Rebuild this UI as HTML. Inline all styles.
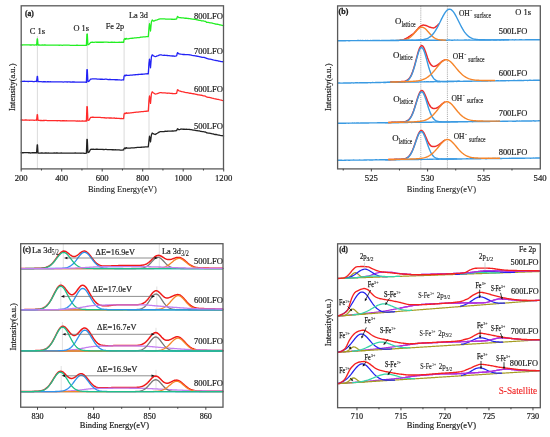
<!DOCTYPE html>
<html><head><meta charset="utf-8"><style>
html,body{margin:0;padding:0;background:#fff;}
svg{display:block;will-change:transform;}
</style></head><body>
<svg width="550" height="437" viewBox="0 0 550 437">
<rect width="550" height="437" fill="#fff"/>
<line x1="37.4" y1="36" x2="37.4" y2="168.9" stroke="#d2d2d2" stroke-width="0.8" />
<line x1="87.3" y1="33" x2="87.3" y2="168.9" stroke="#d2d2d2" stroke-width="0.8" />
<line x1="124.1" y1="31" x2="124.1" y2="168.9" stroke="#d2d2d2" stroke-width="0.8" />
<line x1="149" y1="20" x2="149" y2="168.9" stroke="#d2d2d2" stroke-width="0.8" />
<polyline points="21.2,152.84 22.2,152.53 23.2,152.74 24.2,152.68 25.2,152.69 26.2,152.72 27.2,152.6 28.2,152.73 29.2,152.69 30.2,152.99 31.2,152.78 32.2,152.75 33.2,152.76 34.2,152.74 35.2,152.72 36.2,152.77 36.6,152.83 37.2,144.88 37.5,144.97 38,152.99 38.2,153 39.2,153.11 40.2,153.05 41.2,152.98 42.2,153 43.2,153.06 44.2,153.16 45.2,153.01 46.2,153.02 47.2,153.11 48.2,152.98 49.2,153.03 50.2,153.11 51.2,153.1 52.2,153.07 53.2,153.11 54.2,152.87 55.2,153.14 56.2,153.01 57.2,152.96 58.2,153.1 59.2,153.14 60.2,153.06 61.2,153.02 62.2,153.1 63.2,153.1 64.2,153.21 65.2,153.16 66.2,153.13 67.2,153.2 68.2,153.11 69.2,153.06 70.2,153.17 71.2,153.18 72.2,153.13 73.2,153.09 74.2,153.17 75.2,152.98 76.2,153.21 77.2,153.2 78.2,153.05 79.2,153.17 80.2,153.11 81.2,153.23 82.2,153.04 83.2,153.12 84.2,153.24 85.2,153.28 86.2,153.05 86.4,153.17 86.9,139.42 87.2,139.36 87.3,139.51 87.9,152.52 88.2,152.52 89,152.13 89.2,151.94 90.2,150.04 90.5,149.47 91.2,149.27 92.2,149.36 92.5,149.25 93.2,149.27 94.2,149.32 95.2,149.29 96.2,149.25 97.2,149.26 98.2,149.29 99.2,149.47 100.2,149.3 101.2,149.38 102.2,149.43 103.2,149.49 104.2,149.54 105.2,149.44 106.2,149.43 107.2,149.58 108.2,149.69 109.2,149.68 110.2,149.67 111.2,149.66 112.2,149.73 113.2,149.72 114.2,149.82 115.2,149.73 116.2,149.82 117.2,149.83 118.2,149.9 119.2,149.9 120.2,150.09 121.2,150.04 122.2,150.07 123.2,149.85 123.6,149.98 124.1,148.46 124.2,148.47 124.8,147.84 125.2,148.38 125.6,148.67 126.2,147.61 127.1,148.13 127.2,148.14 128.2,148.13 129.2,148.1 130.2,148.12 131.2,147.9 132.2,147.89 133.2,147.78 134.2,147.82 135.2,147.68 136.2,147.65 137.2,147.41 138.2,147.4 139.2,147.29 140.2,147.38 141.2,147.25 142.2,147.11 143.2,147.03 144.2,147.02 145.2,146.87 146.2,146.78 147.2,146.81 148.2,146.88 148.3,146.68 149,140.26 149.2,138.62 149.5,136.21 150.2,140.19 150.5,141.86 151.2,136.51 151.4,135.02 152.2,133.01 153.2,133.68 153.7,133.89 154.2,134.13 155.2,134.51 156.2,133.86 157.2,133.3 158.2,132.69 159.2,132.14 160,131.76 160.2,131.66 161.2,131.62 162.2,131.62 163.2,131.55 164.2,131.57 165.2,131.24 166.2,131.39 167.2,131.23 168.2,131.22 169.2,131.21 170.2,131.16 171.2,131.1 172.2,130.98 173.2,131.02 174.2,130.83 175,130.79 175.2,130.82 176.2,130.54 176.6,130.65 177.2,129.3 177.5,128.75 178.2,129.16 179,129.77 179.2,129.73 180.2,129.37 181,128.96 181.2,129.04 182.2,129.07 183.2,129.24 184.2,129.13 185.2,129.31 186.2,129.24 187.2,129.28 188.2,129.35 189.2,129.37 190,129.51 190.2,129.61 191.2,129.71 192.2,129.91 193.2,130.14 194.2,130.21 195.2,130.37 196.2,130.5 197.2,130.57 198.2,130.9 199.2,130.89 200.2,131.23 201.2,131.34 202.2,131.59 203.2,131.67 204.2,131.78 205.2,132.03 205.5,132.01 206.2,132.53 206.5,132.75 207.2,132.87 208.2,133.06 209.2,133.21 210.2,133.44 211.2,133.5 212.2,133.83 213.2,133.95 214.2,134.3 215.2,134.5 216.2,134.47 217.2,134.81 218.2,134.98 219.2,135.1 220.2,135.41 221.2,135.53 222.2,135.63 223.2,135.92 223.5,135.99" fill="none" stroke="#222222" stroke-width="1.3" stroke-linejoin="round" stroke-linecap="round" />
<polyline points="21.2,120.01 22.2,119.93 23.2,120.07 24.2,120.09 25.2,119.97 26.2,120.02 27.2,120.07 28.2,120.05 29.2,120.23 30.2,120.13 31.2,120.06 32.2,120.09 33.2,120.15 34.2,120.33 35.2,120.17 36.2,120.2 36.6,120.24 37.2,114.6 37.5,114.76 38,120.36 38.2,120.45 39.2,120.43 40.2,120.48 41.2,120.36 42.2,120.58 43.2,120.47 44.2,120.49 45.2,120.44 46.2,120.47 47.2,120.57 48.2,120.62 49.2,120.61 50.2,120.66 51.2,120.64 52.2,120.61 53.2,120.68 54.2,120.68 55.2,120.64 56.2,120.71 57.2,120.77 58.2,120.71 59.2,120.68 60.2,120.77 61.2,120.87 62.2,120.74 63.2,120.76 64.2,120.77 65.2,120.88 66.2,120.68 67.2,120.85 68.2,120.92 69.2,120.79 70.2,120.97 71.2,120.92 72.2,120.86 73.2,120.92 74.2,120.82 75.2,120.9 76.2,121.08 77.2,120.9 78.2,121.11 79.2,120.99 80.2,121.08 81.2,121.03 82.2,120.88 83.2,121.01 84.2,121.08 85.2,121 86.2,121 86.4,121.13 86.9,106.75 87.2,106.68 87.3,106.75 87.9,120.56 88.2,120.36 89,120.17 89.2,119.86 90.2,118.02 90.5,117.42 91.2,117.3 92.2,117.24 92.5,117.26 93.2,117.25 94.2,117.31 95.2,117.29 96.2,117.39 97.2,117.38 98.2,117.43 99.2,117.41 100.2,117.44 101.2,117.56 102.2,117.56 103.2,117.61 104.2,117.77 105.2,117.76 106.2,118.02 107.2,117.93 108.2,117.86 109.2,118.01 110.2,118.02 111.2,117.99 112.2,118.16 113.2,118.08 114.2,117.96 115.2,118.28 116.2,118.22 117.2,118.42 118.2,118.31 119.2,118.32 120.2,118.56 121.2,118.42 122.2,118.55 123.2,118.68 123.6,118.61 124.1,113.99 124.2,113.86 124.8,113.06 125.2,113.24 125.6,113.64 126.2,112.74 127.1,113.36 127.2,113.17 128.2,113.02 129.2,113.03 130.2,112.85 131.2,112.79 132.2,112.68 133.2,112.65 134.2,112.42 135.2,112.35 136.2,112.08 137.2,112.09 138.2,112.16 139.2,111.9 140.2,111.79 141.2,111.65 142.2,111.67 143.2,111.54 144.2,111.34 145.2,111.37 146.2,111.24 147.2,111.17 148.2,110.97 148.3,111.12 149,100.03 149.2,98.39 149.5,95.96 150.2,101.09 150.5,103.36 151.2,95.89 151.4,93.88 152.2,91.84 153.2,92.69 153.7,93.06 154.2,93.4 155.2,94.07 156.2,93.91 157.2,93.63 158.2,93.27 159.2,92.99 160,92.67 160.2,92.69 161.2,92.71 162.2,92.93 163.2,92.9 164.2,92.92 165.2,92.92 166.2,93.06 167.2,93.23 168.2,93.22 169.2,93.2 170.2,93.41 171.2,93.47 172.2,93.5 173.2,93.55 174.2,93.63 175,93.64 175.2,93.62 176.2,93.32 176.6,93.4 177.2,90.85 177.5,89.74 178.2,90.02 179,90.85 179.2,90.93 180.2,91.14 181,91.43 181.2,91.49 182.2,91.68 183.2,91.8 184.2,92.03 185.2,92.31 186.2,92.53 187.2,92.65 188.2,92.85 189.2,93.05 190,93.27 190.2,93.16 191.2,93.34 192.2,93.63 193.2,93.74 194.2,93.97 195.2,94.2 196.2,94.42 197.2,94.51 198.2,94.83 199.2,94.84 200.2,95.2 201.2,95.24 202.2,95.45 203.2,95.78 204.2,95.9 205.2,96.06 205.5,96.14 206.2,96.72 206.5,96.9 207.2,97.05 208.2,97.34 209.2,97.44 210.2,97.67 211.2,97.89 212.2,98.22 213.2,98.43 214.2,98.67 215.2,98.79 216.2,99 217.2,99.29 218.2,99.42 219.2,99.72 220.2,99.93 221.2,100.05 222.2,100.31 223.2,100.53 223.5,100.72" fill="none" stroke="#ff2a2a" stroke-width="1.3" stroke-linejoin="round" stroke-linecap="round" />
<polyline points="21.2,81.58 22.2,81.4 23.2,81.41 24.2,81.26 25.2,81.44 26.2,81.43 27.2,81.36 28.2,81.5 29.2,81.34 30.2,81.44 31.2,81.47 32.2,81.38 33.2,81.54 34.2,81.56 35.2,81.39 36.2,81.4 36.6,81.54 37.2,76.5 37.5,76.42 38,81.58 38.2,81.59 39.2,81.6 40.2,81.69 41.2,81.67 42.2,81.78 43.2,81.76 44.2,81.72 45.2,81.76 46.2,81.79 47.2,81.76 48.2,81.64 49.2,81.8 50.2,81.76 51.2,81.88 52.2,81.78 53.2,81.83 54.2,81.82 55.2,81.93 56.2,81.84 57.2,81.82 58.2,81.87 59.2,81.83 60.2,81.89 61.2,81.89 62.2,81.92 63.2,82.05 64.2,81.9 65.2,81.94 66.2,81.94 67.2,82.01 68.2,81.89 69.2,81.94 70.2,82 71.2,82.05 72.2,82.02 73.2,82 74.2,81.99 75.2,82.1 76.2,82.17 77.2,82.11 78.2,82.11 79.2,82.14 80.2,82.06 81.2,82.11 82.2,82.13 83.2,82.18 84.2,82.17 85.2,82.1 86.2,82.28 86.4,82.32 86.9,69.68 87.2,69.73 87.3,69.72 87.9,81.65 88.2,81.39 89,81.31 89.2,80.9 90.2,79.69 90.5,79.21 91.2,79.07 92.2,78.94 92.5,78.96 93.2,78.86 94.2,78.93 95.2,78.96 96.2,78.91 97.2,79.16 98.2,79.14 99.2,79.14 100.2,79.25 101.2,79.14 102.2,79.24 103.2,79.4 104.2,79.38 105.2,79.19 106.2,79.15 107.2,79.35 108.2,79.53 109.2,79.46 110.2,79.51 111.2,79.6 112.2,79.53 113.2,79.65 114.2,79.72 115.2,79.74 116.2,79.77 117.2,79.73 118.2,79.85 119.2,79.81 120.2,79.97 121.2,80.1 122.2,79.9 123.2,79.83 123.6,79.97 124.1,76.03 124.2,75.96 124.8,75.28 125.2,75.45 125.6,75.74 126.2,74.99 127.1,75.32 127.2,75.47 128.2,75.3 129.2,75.29 130.2,75.2 131.2,75.13 132.2,75.05 133.2,74.84 134.2,74.85 135.2,74.75 136.2,74.69 137.2,74.68 138.2,74.49 139.2,74.38 140.2,74.3 141.2,74.25 142.2,74.24 143.2,74.05 144.2,74.11 145.2,73.97 146.2,73.85 147.2,73.69 148.2,73.73 148.3,73.75 149,62.88 149.2,61.48 149.5,59.12 150.2,65.11 150.5,67.73 151.2,59.47 151.4,56.99 152.2,54.84 153.2,55.63 153.7,55.99 154.2,56.22 155.2,56.53 156.2,56.38 157.2,55.91 158.2,55.59 159.2,55.19 160,54.96 160.2,54.9 161.2,54.95 162.2,55.13 163.2,55.28 164.2,55.24 165.2,55.45 166.2,55.46 167.2,55.49 168.2,55.72 169.2,55.64 170.2,55.85 171.2,55.84 172.2,55.99 173.2,55.96 174.2,56.07 175,56.27 175.2,56.18 176.2,55.98 176.6,55.87 177.2,53.8 177.5,52.6 178.2,53.18 179,53.89 179.2,53.87 180.2,54.03 181,54.19 181.2,54.21 182.2,54.28 183.2,54.49 184.2,54.52 185.2,54.61 186.2,54.6 187.2,54.65 188.2,54.66 189.2,54.81 190,54.75 190.2,54.9 191.2,55.17 192.2,55.42 193.2,55.55 194.2,55.61 195.2,55.89 196.2,55.98 197.2,56.27 198.2,56.39 199.2,56.64 200.2,56.95 201.2,57.01 202.2,57.29 203.2,57.33 204.2,57.47 205.2,57.77 205.5,57.86 206.2,58.2 206.5,58.46 207.2,58.5 208.2,58.79 209.2,59.08 210.2,59.22 211.2,59.39 212.2,59.54 213.2,59.87 214.2,60.11 215.2,60.31 216.2,60.49 217.2,60.6 218.2,61.02 219.2,61.1 220.2,61.3 221.2,61.57 222.2,61.58 223.2,61.93 223.5,61.99" fill="none" stroke="#2323f5" stroke-width="1.3" stroke-linejoin="round" stroke-linecap="round" />
<polyline points="21.2,44.93 22.2,45 23.2,44.95 24.2,44.79 25.2,44.9 26.2,44.95 27.2,44.95 28.2,44.86 29.2,44.84 30.2,45 31.2,44.99 32.2,44.97 33.2,44.86 34.2,45.11 35.2,44.79 36.2,44.97 36.6,45.15 37.2,38.99 37.5,39.02 38,44.92 38.2,45.1 39.2,44.92 40.2,45.04 41.2,45.04 42.2,44.96 43.2,45.11 44.2,44.95 45.2,45.01 46.2,45.07 47.2,45.05 48.2,45.12 49.2,45.16 50.2,45.08 51.2,45.07 52.2,45.08 53.2,45.1 54.2,45.19 55.2,45.13 56.2,45.18 57.2,45.15 58.2,45.11 59.2,45.24 60.2,45.11 61.2,45.19 62.2,45.3 63.2,45.13 64.2,45.21 65.2,45.11 66.2,45.2 67.2,45.14 68.2,45.22 69.2,45.22 70.2,45.28 71.2,45.39 72.2,45.3 73.2,45.34 74.2,45.3 75.2,45.29 76.2,45.26 77.2,45.2 78.2,45.34 79.2,45.45 80.2,45.38 81.2,45.32 82.2,45.48 83.2,45.34 84.2,45.34 85.2,45.31 86.2,45.33 86.4,45.38 86.9,34.34 87.2,34.19 87.3,34.13 87.9,44.76 88.2,44.68 89,44.28 89.2,44.16 90.2,42.93 90.5,42.52 91.2,42.44 92.2,42.15 92.5,42.08 93.2,42.29 94.2,42.28 95.2,42.1 96.2,42.23 97.2,42.22 98.2,42.26 99.2,42.24 100.2,42.19 101.2,42.24 102.2,42.24 103.2,42.23 104.2,42.11 105.2,42.03 106.2,42.19 107.2,42.13 108.2,42.27 109.2,42.3 110.2,42.28 111.2,42.23 112.2,42.27 113.2,42.35 114.2,42.22 115.2,42.34 116.2,42.33 117.2,42.3 118.2,42.38 119.2,42.24 120.2,42.36 121.2,42.23 122.2,42.24 123.2,42.22 123.6,42.33 124.1,39.43 124.2,39.38 124.8,38.52 125.2,38.97 125.6,39.33 126.2,38.32 127.1,38.92 127.2,38.83 128.2,38.83 129.2,38.58 130.2,38.35 131.2,38.46 132.2,38.24 133.2,38.07 134.2,37.98 135.2,37.81 136.2,37.8 137.2,37.63 138.2,37.7 139.2,37.53 140.2,37.26 141.2,37.16 142.2,37.12 143.2,36.92 144.2,36.94 145.2,36.83 146.2,36.67 147.2,36.58 148.2,36.55 148.3,36.6 149,27.8 149.2,26.1 149.5,23.76 150.2,28.76 150.5,31.03 151.2,23.93 151.4,22.05 152.2,19.91 153.2,20.73 153.7,21.2 154.2,21.01 155.2,20.4 156.2,20.11 157.2,19.8 158.2,19.45 159.2,19.02 160,18.81 160.2,18.79 161.2,18.94 162.2,18.91 163.2,18.81 164.2,18.79 165.2,18.98 166.2,19.09 167.2,19.05 168.2,19.14 169.2,19.07 170.2,19.04 171.2,19.23 172.2,19.21 173.2,19.29 174.2,19.18 175,19.31 175.2,19.22 176.2,19.13 176.6,18.96 177.2,17.22 177.5,16.36 178.2,17.05 179,17.6 179.2,17.57 180.2,17.65 181,17.73 181.2,17.92 182.2,17.78 183.2,17.94 184.2,18.13 185.2,18.26 186.2,18.25 187.2,18.41 188.2,18.49 189.2,18.6 190,18.6 190.2,18.75 191.2,18.83 192.2,19.1 193.2,19.1 194.2,19.42 195.2,19.45 196.2,19.61 197.2,19.93 198.2,20.02 199.2,20.29 200.2,20.36 201.2,20.73 202.2,20.8 203.2,20.9 204.2,21.17 205.2,21.4 205.5,21.34 206.2,21.93 206.5,22.25 207.2,22.31 208.2,22.45 209.2,22.62 210.2,22.91 211.2,22.97 212.2,23.06 213.2,23.44 214.2,23.61 215.2,24.02 216.2,24.11 217.2,24.24 218.2,24.43 219.2,24.75 220.2,24.87 221.2,25.09 222.2,25.33 223.2,25.55 223.5,25.61" fill="none" stroke="#22ee22" stroke-width="1.3" stroke-linejoin="round" stroke-linecap="round" />
<rect x="21.2" y="5.8" width="202.3" height="163.1" fill="none" stroke="#595959" stroke-width="1.3"/>
<line x1="21.2" y1="168.9" x2="21.2" y2="171.5" stroke="#333" stroke-width="0.9" />
<line x1="41.45" y1="168.9" x2="41.45" y2="170.5" stroke="#333" stroke-width="0.9" />
<line x1="61.7" y1="168.9" x2="61.7" y2="171.5" stroke="#333" stroke-width="0.9" />
<line x1="81.95" y1="168.9" x2="81.95" y2="170.5" stroke="#333" stroke-width="0.9" />
<line x1="102.2" y1="168.9" x2="102.2" y2="171.5" stroke="#333" stroke-width="0.9" />
<line x1="122.45" y1="168.9" x2="122.45" y2="170.5" stroke="#333" stroke-width="0.9" />
<line x1="142.7" y1="168.9" x2="142.7" y2="171.5" stroke="#333" stroke-width="0.9" />
<line x1="162.95" y1="168.9" x2="162.95" y2="170.5" stroke="#333" stroke-width="0.9" />
<line x1="183.2" y1="168.9" x2="183.2" y2="171.5" stroke="#333" stroke-width="0.9" />
<line x1="203.45" y1="168.9" x2="203.45" y2="170.5" stroke="#333" stroke-width="0.9" />
<line x1="223.7" y1="168.9" x2="223.7" y2="171.5" stroke="#333" stroke-width="0.9" />
<text x="21.2" y="181.2" font-family="Liberation Serif" font-size="8.4" font-weight="normal" fill="#1c1c1c" text-anchor="middle" textLength="13" lengthAdjust="spacingAndGlyphs" stroke="#1c1c1c" stroke-width="0.2" >200</text>
<text x="61.7" y="181.2" font-family="Liberation Serif" font-size="8.4" font-weight="normal" fill="#1c1c1c" text-anchor="middle" textLength="13" lengthAdjust="spacingAndGlyphs" stroke="#1c1c1c" stroke-width="0.2" >400</text>
<text x="102.2" y="181.2" font-family="Liberation Serif" font-size="8.4" font-weight="normal" fill="#1c1c1c" text-anchor="middle" textLength="13" lengthAdjust="spacingAndGlyphs" stroke="#1c1c1c" stroke-width="0.2" >600</text>
<text x="142.7" y="181.2" font-family="Liberation Serif" font-size="8.4" font-weight="normal" fill="#1c1c1c" text-anchor="middle" textLength="13" lengthAdjust="spacingAndGlyphs" stroke="#1c1c1c" stroke-width="0.2" >800</text>
<text x="183.2" y="181.2" font-family="Liberation Serif" font-size="8.4" font-weight="normal" fill="#1c1c1c" text-anchor="middle" textLength="17.3" lengthAdjust="spacingAndGlyphs" stroke="#1c1c1c" stroke-width="0.2" >1000</text>
<text x="223.7" y="181.2" font-family="Liberation Serif" font-size="8.4" font-weight="normal" fill="#1c1c1c" text-anchor="middle" textLength="17.3" lengthAdjust="spacingAndGlyphs" stroke="#1c1c1c" stroke-width="0.2" >1200</text>
<text x="87.9" y="192" font-family="Liberation Serif" font-size="9.2" font-weight="normal" fill="#1c1c1c" text-anchor="start" textLength="68.8" lengthAdjust="spacingAndGlyphs" stroke="#1c1c1c" stroke-width="0.1" >Binding Energy(eV)</text>
<text x="15.1" y="87.25" font-family="Liberation Serif" font-size="8.6" font-weight="normal" fill="#1c1c1c" text-anchor="middle" textLength="47.5" lengthAdjust="spacingAndGlyphs" stroke="#1c1c1c" stroke-width="0.2" transform="rotate(-90 15.1 87.25)">Intensity(a.u.)</text>
<text x="24.9" y="15.8" font-family="Liberation Serif" font-size="8.0" font-weight="bold" fill="#1c1c1c" text-anchor="start" textLength="8.9" lengthAdjust="spacingAndGlyphs" stroke="#1c1c1c" stroke-width="0.3" >(a)</text>
<text x="29.8" y="34.2" font-family="Liberation Serif" font-size="9.0" font-weight="normal" fill="#1c1c1c" text-anchor="start" textLength="15.4" lengthAdjust="spacingAndGlyphs" stroke="#1c1c1c" stroke-width="0.2" >C 1s</text>
<text x="73.5" y="31.1" font-family="Liberation Serif" font-size="9.0" font-weight="normal" fill="#1c1c1c" text-anchor="start" textLength="15.5" lengthAdjust="spacingAndGlyphs" stroke="#1c1c1c" stroke-width="0.2" >O 1s</text>
<text x="105.7" y="28.5" font-family="Liberation Serif" font-size="9.0" font-weight="normal" fill="#1c1c1c" text-anchor="start" textLength="18.5" lengthAdjust="spacingAndGlyphs" stroke="#1c1c1c" stroke-width="0.2" >Fe 2p</text>
<text x="128.9" y="17.9" font-family="Liberation Serif" font-size="9.0" font-weight="normal" fill="#1c1c1c" text-anchor="start" textLength="19.1" lengthAdjust="spacingAndGlyphs" stroke="#1c1c1c" stroke-width="0.2" >La 3d</text>
<text x="194" y="18.5" font-family="Liberation Serif" font-size="8.6" font-weight="normal" fill="#1c1c1c" text-anchor="start" textLength="29" lengthAdjust="spacingAndGlyphs" stroke="#1c1c1c" stroke-width="0.2" >800LFO</text>
<text x="194" y="53.6" font-family="Liberation Serif" font-size="8.6" font-weight="normal" fill="#1c1c1c" text-anchor="start" textLength="29" lengthAdjust="spacingAndGlyphs" stroke="#1c1c1c" stroke-width="0.2" >700LFO</text>
<text x="194" y="91.6" font-family="Liberation Serif" font-size="8.6" font-weight="normal" fill="#1c1c1c" text-anchor="start" textLength="29" lengthAdjust="spacingAndGlyphs" stroke="#1c1c1c" stroke-width="0.2" >600LFO</text>
<text x="194" y="128.9" font-family="Liberation Serif" font-size="8.6" font-weight="normal" fill="#1c1c1c" text-anchor="start" textLength="29" lengthAdjust="spacingAndGlyphs" stroke="#1c1c1c" stroke-width="0.2" >500LFO</text>
<line x1="420.8" y1="5.9" x2="420.8" y2="168.9" stroke="#8a8a8a" stroke-width="0.8" stroke-dasharray="0.9 1.0"/>
<line x1="447.4" y1="5.9" x2="447.4" y2="168.9" stroke="#8a8a8a" stroke-width="0.8" stroke-dasharray="0.9 1.0"/>
<polyline points="337.6,40.71 338.6,40.76 339.6,40.78 340.6,40.61 341.6,40.81 342.6,40.69 343.6,40.74 344.6,40.63 345.6,40.68 346.6,40.67 347.6,40.66 348.6,40.69 349.6,40.68 350.6,40.59 351.6,40.63 352.6,40.67 353.6,40.66 354.6,40.6 355.6,40.6 356.6,40.6 357.6,40.55 358.6,40.54 359.6,40.67 360.6,40.57 361.6,40.59 362.6,40.54 363.6,40.64 364.6,40.66 365.6,40.55 366.6,40.59 367.6,40.52 368.6,40.64 369.6,40.59 370.6,40.5 371.6,40.6 372.6,40.55 373.6,40.55 374.6,40.54 375.6,40.48 376.6,40.48 377.6,40.54 378.6,40.5 379.6,40.45 380.6,40.59 381.6,40.48 382.6,40.45 383.6,40.44 384.6,40.51 385.6,40.52 386.6,40.47 387.6,40.5 388.6,40.38 389.6,40.43 390.6,40.42 391.6,40.44 392.6,40.46 393.6,40.33 394.6,40.58 395.6,40.37 396.6,40.43 397.6,40.45 398.6,40.44 399.6,40.41 400.6,40.25 401.6,40.33 402.6,40.42 403.6,40.33 404.6,40.32 405.6,40.25 406.6,40.42 407.6,40.38 408.6,40.31 409.6,40.34 410.6,40.34 411.6,40.28 412.6,40.32 413.6,40.34 414.6,40.35 415.6,40.38 416.6,40.31 417.6,40.28 418.6,40.32 419.6,40.27 420.6,40.23 421.6,40.34 422.6,40.26 423.6,40.28 424.6,40.3 425.6,40.21 426.6,40.29 427.6,40.28 428.6,40.25 429.6,40.27 430.6,40.2 431.6,40.13 432.6,40.22 433.6,40.18 434.6,40.27 435.6,40.23 436.6,40.19 437.6,40.21 438.6,40.27 439.6,40.25 440.6,40.21 441.6,40.21 442.6,40.17 443.6,40.17 444.6,40.2 445.6,40.16 446.6,40.18 447.6,40.1 448.6,40.07 449.6,40.06 450.6,40.12 451.6,40.2 452.6,40.19 453.6,40.08 454.6,40.05 455.6,40.16 456.6,40.14 457.6,40.04 458.6,40.16 459.6,40.11 460.6,40.16 461.6,40.11 462.6,40.13 463.6,40.1 464.6,40.03 465.6,40.06 466.6,40.03 467.6,40.1 468.6,40 469.6,39.97 470.6,40.08 471.6,40.1 472.6,40.11 473.6,40.08 474.6,39.95 475.6,39.99 476.6,39.99 477.6,40.01 478.6,39.9 479.6,40 480.6,40.01 481.6,39.94 482.6,39.99 483.6,40.04 484.6,39.98 485.6,40.02 486.6,40.02 487.6,39.98 488.6,39.97 489.6,39.93 490.6,40.01 491.6,39.92 492.6,39.9 493.6,39.97 494.6,39.89 495.6,39.94 496.6,39.97 497.6,39.92 498.6,39.91 499.6,39.95 500.6,39.93 501.6,39.81 502.6,39.82 503.6,39.95 504.6,39.9 505.6,39.77 506.6,39.8 507.6,39.86 508.6,39.81 509.6,39.88 510.6,39.85 511.6,39.87 512.6,39.78 513.6,39.86 514.6,39.93 515.6,39.78 516.6,39.88 517.6,39.86 518.6,39.84 519.6,39.8 520.6,39.74 521.6,39.75 522.6,39.83 523.6,39.83 524.6,39.84 525.6,39.82 526.6,39.81 527.6,39.74 528.6,39.7 529.6,39.76 530.6,39.77 531.6,39.75 532.6,39.66 533.6,39.71 534.6,39.66 535.6,39.73 536.6,39.67 537.6,39.71 538.6,39.73 539.6,39.71" fill="none" stroke="#3a9ae2" stroke-width="1.4" stroke-linejoin="round" stroke-linecap="round" />
<polyline points="400,40.3 400.5,40.27 401,40.21 401.5,40.13 402,40.03 402.5,39.92 403,39.8 403.5,39.65 404,39.47 404.5,39.24 405,39 405.5,38.75 406,38.5 406.5,38.23 407,37.94 407.5,37.64 408,37.33 408.5,37 409,36.67 409.5,36.34 410,36 410.5,35.66 411,35.32 411.5,34.98 412,34.62 412.5,34.25 413,33.87 413.5,33.46 414,33.02 414.5,32.54 415,32.01 415.5,31.46 416,30.9 416.5,30.34 417,29.8 417.5,29.24 418,28.64 418.5,28.04 419,27.48 419.5,26.99 420,26.6 420.5,26.28 421,25.96 421.5,25.67 422,25.42 422.5,25.23 423,25.12 423.5,25.1 424,25.14 424.5,25.22 425,25.32 425.5,25.44 426,25.57 426.5,25.7 427,25.86 427.5,26.07 428,26.32 428.5,26.57 429,26.82 429.5,27.03 430,27.2 430.5,27.34 431,27.48 431.5,27.61 432,27.72 432.5,27.82 433,27.88 433.5,27.9 434,27.83 434.5,27.63 435,27.33 435.5,26.98 436,26.6 436.5,26.22 437,25.8 437.5,25.29 438,24.73 438.5,24.13" fill="none" stroke="#ef2a2a" stroke-width="1.5" stroke-linejoin="round" stroke-linecap="round" />
<polyline points="396.6,40.4 397.6,40.38 398.6,40.36 399.6,40.33 400.6,40.29 401.6,40.23 402.6,40.14 403.6,40.01 404.6,39.84 405.6,39.6 406.6,39.29 407.6,38.88 408.6,38.36 409.6,37.73 410.6,36.97 411.6,36.09 412.6,35.09 413.6,34 414.6,32.85 415.6,31.68 416.6,30.54 417.6,29.48 418.6,28.58 419.6,27.86 420.6,27.39 421.6,27.19 422.6,27.27 423.6,27.63 424.6,28.24 425.6,29.06 426.6,30.05 427.6,31.16 428.6,32.31 429.6,33.47 430.6,34.58 431.6,35.61 432.6,36.53 433.6,37.33 434.6,38 435.6,38.55 436.6,38.99 437.6,39.33 438.6,39.59 439.6,39.77 440.6,39.91 441.6,40 442.6,40.06 443.6,40.1 444.6,40.13 445.6,40.14" fill="none" stroke="#f5852a" stroke-width="1.4" stroke-linejoin="round" stroke-linecap="round" />
<polyline points="390.6,40.39 391.6,40.38 392.6,40.38 393.6,40.37 394.6,40.36 395.6,40.35 396.6,40.35 397.6,40.34 398.6,40.33 399.6,40.33 400.6,40.32 401.6,40.31 402.6,40.3 403.6,40.29 404.6,40.29 405.6,40.28 406.6,40.27 407.6,40.26 408.6,40.25 409.6,40.24 410.6,40.23 411.6,40.21 412.6,40.2 413.6,40.18 414.6,40.17 415.6,40.14 416.6,40.12 417.6,40.08 418.6,40.04 419.6,39.98 420.6,39.91 421.6,39.81 422.6,39.68 423.6,39.52 424.6,39.31 425.6,39.05 426.6,38.71 427.6,38.3 428.6,37.78 429.6,37.16 430.6,36.41 431.6,35.52 432.6,34.47 433.6,33.28 434.6,31.91 435.6,30.39 436.6,28.72 437.6,26.91 438.6,25 439.6,23 440.6,20.96 441.6,18.93 442.6,16.95 443.6,15.09 444.6,13.39 445.6,11.92 446.6,10.72 447.6,9.84 448.6,9.31 449.6,9.15 450.6,9.37 451.6,9.96 452.6,10.9 453.6,12.15 454.6,13.66 455.6,15.39 456.6,17.27 457.6,19.25 458.6,21.28 459.6,23.3 460.6,25.28 461.6,27.17 462.6,28.94 463.6,30.57 464.6,32.05 465.6,33.37 466.6,34.53 467.6,35.53 468.6,36.38 469.6,37.09 470.6,37.69 471.6,38.17 472.6,38.56 473.6,38.87 474.6,39.11 475.6,39.3 476.6,39.44 477.6,39.55 478.6,39.63 479.6,39.7 480.6,39.74 481.6,39.77 482.6,39.8 483.6,39.81 484.6,39.82 485.6,39.83 486.6,39.84 487.6,39.84 488.6,39.84 489.6,39.84 490.6,39.84 491.6,39.84 492.6,39.84 493.6,39.84 494.6,39.84 495.6,39.84 496.6,39.84 497.6,39.84 498.6,39.83 499.6,39.83 500.6,39.83 501.6,39.83 502.6,39.82 503.6,39.82 504.6,39.82 505.6,39.82 506.6,39.81 507.6,39.81 508.6,39.81" fill="none" stroke="#3a9ae2" stroke-width="1.4" stroke-linejoin="round" stroke-linecap="round" />
<polyline points="337.6,83.17 338.6,83.03 339.6,82.96 340.6,83.11 341.6,83.11 342.6,83.1 343.6,83.03 344.6,83.03 345.6,82.99 346.6,82.91 347.6,82.93 348.6,82.97 349.6,82.9 350.6,83.01 351.6,82.82 352.6,82.87 353.6,82.93 354.6,82.83 355.6,82.79 356.6,82.76 357.6,82.78 358.6,82.88 359.6,82.81 360.6,82.8 361.6,82.73 362.6,82.79 363.6,82.73 364.6,82.67 365.6,82.68 366.6,82.7 367.6,82.73 368.6,82.66 369.6,82.67 370.6,82.73 371.6,82.58 372.6,82.54 373.6,82.64 374.6,82.59 375.6,82.55 376.6,82.56 377.6,82.51 378.6,82.54 379.6,82.48 380.6,82.53 381.6,82.41 382.6,82.42 383.6,82.45 384.6,82.41 385.6,82.45 386.6,82.4 387.6,82.36 388.6,82.38 389.6,82.33 390.6,82.27 391.6,82.27 392.6,82.27 393.6,82.28 394.6,82.29 395.6,82.32 396.6,82.29 397.6,82.33 398.6,82.29 399.6,82.21 400.6,82.28 401.6,82.25 402.6,82.15 403.6,82.17 404.6,82.2 405.6,82.14 406.6,82.17 407.6,82.12 408.6,82.12 409.6,82.06 410.6,82.08 411.6,82.03 412.6,82.06 413.6,81.93 414.6,82.02 415.6,82.05 416.6,82 417.6,81.96 418.6,81.97 419.6,81.89 420.6,81.87 421.6,81.88 422.6,81.88 423.6,81.92 424.6,81.81 425.6,81.89 426.6,81.75 427.6,81.78 428.6,81.8 429.6,81.84 430.6,81.74 431.6,81.65 432.6,81.76 433.6,81.73 434.6,81.66 435.6,81.65 436.6,81.65 437.6,81.68 438.6,81.69 439.6,81.57 440.6,81.74 441.6,81.61 442.6,81.58 443.6,81.62 444.6,81.58 445.6,81.67 446.6,81.6 447.6,81.51 448.6,81.49 449.6,81.47 450.6,81.47 451.6,81.5 452.6,81.42 453.6,81.52 454.6,81.42 455.6,81.41 456.6,81.45 457.6,81.29 458.6,81.32 459.6,81.39 460.6,81.34 461.6,81.33 462.6,81.33 463.6,81.27 464.6,81.28 465.6,81.2 466.6,81.16 467.6,81.31 468.6,81.18 469.6,81.18 470.6,81.27 471.6,81.24 472.6,81.14 473.6,81.13 474.6,81.14 475.6,81.08 476.6,81.14 477.6,81.11 478.6,81.09 479.6,81.11 480.6,81.09 481.6,81.13 482.6,81.1 483.6,80.93 484.6,81.04 485.6,80.93 486.6,80.9 487.6,80.99 488.6,80.91 489.6,80.91 490.6,80.97 491.6,80.87 492.6,80.84 493.6,80.89 494.6,80.92 495.6,80.87 496.6,80.75 497.6,80.78 498.6,80.79 499.6,80.88 500.6,80.81 501.6,80.8 502.6,80.8 503.6,80.71 504.6,80.74 505.6,80.72 506.6,80.64 507.6,80.67 508.6,80.68 509.6,80.59 510.6,80.67 511.6,80.65 512.6,80.65 513.6,80.55 514.6,80.57 515.6,80.63 516.6,80.58 517.6,80.49 518.6,80.52 519.6,80.57 520.6,80.48 521.6,80.49 522.6,80.58 523.6,80.44 524.6,80.42 525.6,80.36 526.6,80.36 527.6,80.46 528.6,80.36 529.6,80.3 530.6,80.29 531.6,80.33 532.6,80.35 533.6,80.26 534.6,80.32 535.6,80.24 536.6,80.27 537.6,80.27 538.6,80.26 539.6,80.19" fill="none" stroke="#3a9ae2" stroke-width="1.4" stroke-linejoin="round" stroke-linecap="round" />
<polyline points="390.6,82.03 391.6,82 392.6,81.97 393.6,81.94 394.6,81.91 395.6,81.88 396.6,81.84 397.6,81.81 398.6,81.77 399.6,81.72 400.6,81.67 401.6,81.6 402.6,81.51 403.6,81.38 404.6,81.2 405.6,80.92 406.6,80.51 407.6,79.92 408.6,79.08 409.6,77.92 410.6,76.36 411.6,74.34 412.6,71.83 413.6,68.83 414.6,65.4 415.6,61.67 416.6,57.82 417.6,54.09 418.6,50.75 419.6,48.08 420.6,46.29 421.6,45.55 422.6,45.9 423.6,47.25 424.6,49.41 425.6,52.09 426.6,55.02 427.6,57.91 428.6,60.52 429.6,62.69 430.6,64.35 431.6,65.47 432.6,66.12 433.6,66.38 434.6,66.32 435.6,66.02 436.6,65.53 437.6,64.9 438.6,64.16 439.6,63.35 440.6,62.51 441.6,61.7 442.6,60.96 443.6,60.35 444.6,59.91" fill="none" stroke="#ef2a2a" stroke-width="1.5" stroke-linejoin="round" stroke-linecap="round" />
<polyline points="383.6,82.39 384.6,82.38 385.6,82.36 386.6,82.34 387.6,82.32 388.6,82.31 389.6,82.29 390.6,82.27 391.6,82.25 392.6,82.23 393.6,82.21 394.6,82.19 395.6,82.17 396.6,82.14 397.6,82.12 398.6,82.09 399.6,82.06 400.6,82.02 401.6,81.97 402.6,81.89 403.6,81.79 404.6,81.62 405.6,81.36 406.6,80.98 407.6,80.42 408.6,79.6 409.6,78.47 410.6,76.95 411.6,74.98 412.6,72.52 413.6,69.58 414.6,66.23 415.6,62.58 416.6,58.83 417.6,55.23 418.6,52.04 419.6,49.54 420.6,47.98 421.6,47.5 422.6,48.17 423.6,49.91 424.6,52.54 425.6,55.81 426.6,59.43 427.6,63.15 428.6,66.72 429.6,69.97 430.6,72.79 431.6,75.12 432.6,76.97 433.6,78.38 434.6,79.42 435.6,80.14 436.6,80.64 437.6,80.96 438.6,81.17 439.6,81.29 440.6,81.37 441.6,81.41 442.6,81.43 443.6,81.44 444.6,81.44 445.6,81.44 446.6,81.43 447.6,81.43 448.6,81.42 449.6,81.41 450.6,81.4 451.6,81.39 452.6,81.38 453.6,81.37 454.6,81.36 455.6,81.35 456.6,81.34 457.6,81.33 458.6,81.32 459.6,81.31" fill="none" stroke="#3a9ae2" stroke-width="1.4" stroke-linejoin="round" stroke-linecap="round" />
<polyline points="390.6,82.1 391.6,82.08 392.6,82.05 393.6,82.03 394.6,82 395.6,81.98 396.6,81.95 397.6,81.93 398.6,81.9 399.6,81.87 400.6,81.84 401.6,81.82 402.6,81.78 403.6,81.75 404.6,81.72 405.6,81.68 406.6,81.65 407.6,81.61 408.6,81.56 409.6,81.52 410.6,81.46 411.6,81.4 412.6,81.34 413.6,81.26 414.6,81.18 415.6,81.08 416.6,80.96 417.6,80.82 418.6,80.66 419.6,80.46 420.6,80.23 421.6,79.96 422.6,79.64 423.6,79.27 424.6,78.84 425.6,78.34 426.6,77.77 427.6,77.12 428.6,76.39 429.6,75.57 430.6,74.68 431.6,73.7 432.6,72.64 433.6,71.52 434.6,70.34 435.6,69.12 436.6,67.87 437.6,66.62 438.6,65.38 439.6,64.2 440.6,63.09 441.6,62.09 442.6,61.24 443.6,60.55 444.6,60.06 445.6,59.8 446.6,59.76 447.6,59.95 448.6,60.37 449.6,60.99 450.6,61.78 451.6,62.73 452.6,63.79 453.6,64.93 454.6,66.13 455.6,67.35 456.6,68.57 457.6,69.77 458.6,70.93 459.6,72.04 460.6,73.08 461.6,74.05 462.6,74.93 463.6,75.73 464.6,76.45 465.6,77.09 466.6,77.65 467.6,78.13 468.6,78.55 469.6,78.9 470.6,79.2 471.6,79.46 472.6,79.66 473.6,79.84 474.6,79.98 475.6,80.09 476.6,80.19 477.6,80.26 478.6,80.32 479.6,80.37 480.6,80.41 481.6,80.44 482.6,80.46 483.6,80.48 484.6,80.5 485.6,80.51 486.6,80.52 487.6,80.53 488.6,80.53 489.6,80.54 490.6,80.54 491.6,80.54 492.6,80.54 493.6,80.54 494.6,80.54" fill="none" stroke="#f5852a" stroke-width="1.4" stroke-linejoin="round" stroke-linecap="round" />
<polyline points="337.6,123.29 338.6,123.31 339.6,123.21 340.6,123.27 341.6,123.28 342.6,123.29 343.6,123.22 344.6,123.21 345.6,123.21 346.6,123.15 347.6,123.17 348.6,123.19 349.6,123.17 350.6,123.09 351.6,123.11 352.6,123.01 353.6,123.14 354.6,123.06 355.6,123.09 356.6,123.01 357.6,123.05 358.6,123.06 359.6,123.08 360.6,122.95 361.6,123.05 362.6,122.98 363.6,122.94 364.6,122.99 365.6,122.94 366.6,122.93 367.6,122.89 368.6,122.93 369.6,122.91 370.6,122.88 371.6,122.83 372.6,122.84 373.6,122.88 374.6,122.91 375.6,122.83 376.6,122.89 377.6,122.81 378.6,122.74 379.6,122.81 380.6,122.72 381.6,122.78 382.6,122.8 383.6,122.72 384.6,122.71 385.6,122.83 386.6,122.71 387.6,122.7 388.6,122.71 389.6,122.65 390.6,122.64 391.6,122.65 392.6,122.5 393.6,122.68 394.6,122.54 395.6,122.53 396.6,122.6 397.6,122.56 398.6,122.48 399.6,122.55 400.6,122.47 401.6,122.47 402.6,122.42 403.6,122.44 404.6,122.49 405.6,122.47 406.6,122.46 407.6,122.48 408.6,122.42 409.6,122.38 410.6,122.38 411.6,122.47 412.6,122.38 413.6,122.38 414.6,122.34 415.6,122.35 416.6,122.35 417.6,122.31 418.6,122.29 419.6,122.25 420.6,122.23 421.6,122.28 422.6,122.29 423.6,122.28 424.6,122.23 425.6,122.17 426.6,122.23 427.6,122.22 428.6,122.1 429.6,122.2 430.6,122.18 431.6,122.22 432.6,122.07 433.6,122.05 434.6,122.14 435.6,122 436.6,122.04 437.6,122.01 438.6,122 439.6,121.95 440.6,122.02 441.6,122.07 442.6,122.03 443.6,122.01 444.6,121.96 445.6,122.04 446.6,121.98 447.6,122 448.6,121.85 449.6,121.94 450.6,121.85 451.6,121.91 452.6,121.89 453.6,121.81 454.6,121.87 455.6,121.9 456.6,121.86 457.6,121.85 458.6,121.76 459.6,121.76 460.6,121.73 461.6,121.78 462.6,121.82 463.6,121.77 464.6,121.73 465.6,121.67 466.6,121.73 467.6,121.68 468.6,121.59 469.6,121.59 470.6,121.64 471.6,121.6 472.6,121.72 473.6,121.62 474.6,121.56 475.6,121.57 476.6,121.67 477.6,121.53 478.6,121.6 479.6,121.57 480.6,121.61 481.6,121.55 482.6,121.49 483.6,121.53 484.6,121.49 485.6,121.52 486.6,121.46 487.6,121.55 488.6,121.43 489.6,121.45 490.6,121.38 491.6,121.41 492.6,121.39 493.6,121.38 494.6,121.41 495.6,121.33 496.6,121.3 497.6,121.38 498.6,121.3 499.6,121.27 500.6,121.35 501.6,121.32 502.6,121.13 503.6,121.23 504.6,121.28 505.6,121.27 506.6,121.19 507.6,121.28 508.6,121.15 509.6,121.17 510.6,121.17 511.6,121.15 512.6,121.18 513.6,121.18 514.6,121.12 515.6,121.18 516.6,121.06 517.6,121.07 518.6,121.15 519.6,121.06 520.6,121.1 521.6,121.01 522.6,121.01 523.6,121 524.6,121 525.6,120.97 526.6,120.97 527.6,120.99 528.6,121.01 529.6,120.94 530.6,120.95 531.6,120.95 532.6,120.84 533.6,120.81 534.6,120.95 535.6,120.93 536.6,120.85 537.6,120.85 538.6,120.78 539.6,120.74" fill="none" stroke="#3a9ae2" stroke-width="1.4" stroke-linejoin="round" stroke-linecap="round" />
<polyline points="388.6,122.44 389.6,122.42 390.6,122.39 391.6,122.37 392.6,122.35 393.6,122.32 394.6,122.29 395.6,122.27 396.6,122.24 397.6,122.21 398.6,122.17 399.6,122.13 400.6,122.09 401.6,122.03 402.6,121.95 403.6,121.83 404.6,121.66 405.6,121.41 406.6,121.04 407.6,120.51 408.6,119.75 409.6,118.71 410.6,117.33 411.6,115.56 412.6,113.36 413.6,110.75 414.6,107.78 415.6,104.54 416.6,101.22 417.6,97.99 418.6,95.1 419.6,92.77 420.6,91.2 421.6,90.53 422.6,90.8 423.6,91.93 424.6,93.78 425.6,96.09 426.6,98.63 427.6,101.13 428.6,103.39 429.6,105.27 430.6,106.7 431.6,107.68 432.6,108.27 433.6,108.54 434.6,108.56 435.6,108.38 436.6,108.04 437.6,107.53 438.6,106.88 439.6,106.1 440.6,105.24 441.6,104.35 442.6,103.5 443.6,102.74 444.6,102.13" fill="none" stroke="#ef2a2a" stroke-width="1.5" stroke-linejoin="round" stroke-linecap="round" />
<polyline points="385.6,122.66 386.6,122.64 387.6,122.63 388.6,122.61 389.6,122.6 390.6,122.58 391.6,122.56 392.6,122.55 393.6,122.53 394.6,122.51 395.6,122.49 396.6,122.47 397.6,122.45 398.6,122.43 399.6,122.4 400.6,122.36 401.6,122.31 402.6,122.24 403.6,122.14 404.6,121.98 405.6,121.75 406.6,121.39 407.6,120.88 408.6,120.14 409.6,119.13 410.6,117.77 411.6,116.02 412.6,113.86 413.6,111.28 414.6,108.35 415.6,105.16 416.6,101.89 417.6,98.74 418.6,95.93 419.6,93.7 420.6,92.27 421.6,91.76 422.6,92.24 423.6,93.65 424.6,95.85 425.6,98.64 426.6,101.77 427.6,105.02 428.6,108.17 429.6,111.08 430.6,113.64 431.6,115.78 432.6,117.5 433.6,118.83 434.6,119.82 435.6,120.53 436.6,121.02 437.6,121.35 438.6,121.56 439.6,121.69 440.6,121.77 441.6,121.82 442.6,121.84 443.6,121.85 444.6,121.86 445.6,121.86 446.6,121.85 447.6,121.85 448.6,121.84 449.6,121.84 450.6,121.83 451.6,121.82 452.6,121.82 453.6,121.81 454.6,121.8 455.6,121.79 456.6,121.78 457.6,121.77" fill="none" stroke="#3a9ae2" stroke-width="1.4" stroke-linejoin="round" stroke-linecap="round" />
<polyline points="388.6,122.5 389.6,122.48 390.6,122.46 391.6,122.44 392.6,122.42 393.6,122.4 394.6,122.38 395.6,122.36 396.6,122.34 397.6,122.32 398.6,122.3 399.6,122.27 400.6,122.25 401.6,122.23 402.6,122.2 403.6,122.18 404.6,122.15 405.6,122.12 406.6,122.09 407.6,122.06 408.6,122.03 409.6,122 410.6,121.96 411.6,121.92 412.6,121.88 413.6,121.83 414.6,121.78 415.6,121.72 416.6,121.65 417.6,121.57 418.6,121.47 419.6,121.36 420.6,121.22 421.6,121.05 422.6,120.85 423.6,120.61 424.6,120.32 425.6,119.98 426.6,119.57 427.6,119.09 428.6,118.54 429.6,117.9 430.6,117.17 431.6,116.34 432.6,115.43 433.6,114.42 434.6,113.34 435.6,112.18 436.6,110.96 437.6,109.71 438.6,108.43 439.6,107.18 440.6,105.96 441.6,104.83 442.6,103.81 443.6,102.96 444.6,102.29 445.6,101.85 446.6,101.66 447.6,101.73 448.6,102.04 449.6,102.6 450.6,103.36 451.6,104.29 452.6,105.35 453.6,106.52 454.6,107.74 455.6,108.98 456.6,110.22 457.6,111.43 458.6,112.59 459.6,113.68 460.6,114.7 461.6,115.62 462.6,116.46 463.6,117.2 464.6,117.85 465.6,118.42 466.6,118.9 467.6,119.31 468.6,119.65 469.6,119.94 470.6,120.17 471.6,120.36 472.6,120.52 473.6,120.64 474.6,120.74 475.6,120.82 476.6,120.88 477.6,120.93 478.6,120.97 479.6,121 480.6,121.03 481.6,121.05 482.6,121.06 483.6,121.08 484.6,121.09 485.6,121.09 486.6,121.1 487.6,121.1 488.6,121.11 489.6,121.11 490.6,121.11 491.6,121.11 492.6,121.11 493.6,121.11 494.6,121.11 495.6,121.11 496.6,121.1 497.6,121.1 498.6,121.1 499.6,121.09" fill="none" stroke="#f5852a" stroke-width="1.4" stroke-linejoin="round" stroke-linecap="round" />
<polyline points="337.6,160.32 338.6,160.22 339.6,160.32 340.6,160.23 341.6,160.27 342.6,160.34 343.6,160.33 344.6,160.21 345.6,160.26 346.6,160.15 347.6,160.16 348.6,160.2 349.6,160.23 350.6,160.13 351.6,160.17 352.6,160.14 353.6,160.06 354.6,160.1 355.6,160.17 356.6,160.08 357.6,160.1 358.6,160.1 359.6,160.02 360.6,160.1 361.6,160.1 362.6,160.1 363.6,160.07 364.6,159.97 365.6,159.95 366.6,159.93 367.6,159.92 368.6,159.91 369.6,159.99 370.6,160 371.6,159.88 372.6,159.94 373.6,159.83 374.6,159.86 375.6,159.82 376.6,159.78 377.6,159.85 378.6,159.84 379.6,159.8 380.6,159.79 381.6,159.75 382.6,159.78 383.6,159.75 384.6,159.78 385.6,159.7 386.6,159.76 387.6,159.76 388.6,159.78 389.6,159.76 390.6,159.71 391.6,159.65 392.6,159.59 393.6,159.66 394.6,159.72 395.6,159.73 396.6,159.5 397.6,159.58 398.6,159.59 399.6,159.54 400.6,159.59 401.6,159.58 402.6,159.54 403.6,159.55 404.6,159.46 405.6,159.48 406.6,159.47 407.6,159.55 408.6,159.41 409.6,159.47 410.6,159.51 411.6,159.46 412.6,159.49 413.6,159.41 414.6,159.45 415.6,159.46 416.6,159.52 417.6,159.43 418.6,159.45 419.6,159.37 420.6,159.36 421.6,159.43 422.6,159.37 423.6,159.4 424.6,159.35 425.6,159.41 426.6,159.41 427.6,159.24 428.6,159.36 429.6,159.28 430.6,159.27 431.6,159.23 432.6,159.26 433.6,159.16 434.6,159.16 435.6,159.15 436.6,159.19 437.6,159.21 438.6,159.19 439.6,159.16 440.6,159.1 441.6,159.03 442.6,159.13 443.6,159.11 444.6,159.11 445.6,159.15 446.6,159.06 447.6,159.04 448.6,158.93 449.6,159.06 450.6,159.02 451.6,158.97 452.6,159.02 453.6,158.93 454.6,158.95 455.6,159.06 456.6,158.99 457.6,158.99 458.6,158.97 459.6,158.95 460.6,158.92 461.6,159.01 462.6,158.88 463.6,158.91 464.6,158.85 465.6,158.83 466.6,158.72 467.6,158.73 468.6,158.89 469.6,158.88 470.6,158.77 471.6,158.78 472.6,158.8 473.6,158.71 474.6,158.83 475.6,158.68 476.6,158.69 477.6,158.57 478.6,158.78 479.6,158.69 480.6,158.76 481.6,158.62 482.6,158.67 483.6,158.65 484.6,158.64 485.6,158.73 486.6,158.72 487.6,158.67 488.6,158.57 489.6,158.62 490.6,158.63 491.6,158.58 492.6,158.57 493.6,158.55 494.6,158.47 495.6,158.52 496.6,158.58 497.6,158.44 498.6,158.48 499.6,158.5 500.6,158.38 501.6,158.43 502.6,158.34 503.6,158.39 504.6,158.34 505.6,158.35 506.6,158.36 507.6,158.36 508.6,158.35 509.6,158.23 510.6,158.42 511.6,158.31 512.6,158.26 513.6,158.27 514.6,158.31 515.6,158.23 516.6,158.25 517.6,158.23 518.6,158.27 519.6,158.2 520.6,158.25 521.6,158.23 522.6,158.19 523.6,158.25 524.6,158.18 525.6,158.11 526.6,158.17 527.6,158.15 528.6,158.13 529.6,158.13 530.6,158.23 531.6,158.11 532.6,158.11 533.6,158.06 534.6,158.13 535.6,158.05 536.6,158 537.6,157.97 538.6,158.05 539.6,158.05" fill="none" stroke="#3a9ae2" stroke-width="1.4" stroke-linejoin="round" stroke-linecap="round" />
<polyline points="388.6,159.5 389.6,159.48 390.6,159.46 391.6,159.44 392.6,159.41 393.6,159.39 394.6,159.37 395.6,159.34 396.6,159.31 397.6,159.28 398.6,159.25 399.6,159.21 400.6,159.16 401.6,159.09 402.6,159 403.6,158.86 404.6,158.67 405.6,158.38 406.6,157.96 407.6,157.37 408.6,156.55 409.6,155.44 410.6,154.01 411.6,152.21 412.6,150.04 413.6,147.51 414.6,144.72 415.6,141.76 416.6,138.79 417.6,136.01 418.6,133.63 419.6,131.83 420.6,130.76 421.6,130.52 422.6,131.11 423.6,132.42 424.6,134.3 425.6,136.52 426.6,138.85 427.6,141.07 428.6,143.01 429.6,144.54 430.6,145.62 431.6,146.27 432.6,146.57 433.6,146.61 434.6,146.48 435.6,146.22 436.6,145.87 437.6,145.41 438.6,144.85 439.6,144.18 440.6,143.4 441.6,142.57 442.6,141.72 443.6,140.93 444.6,140.25" fill="none" stroke="#ef2a2a" stroke-width="1.5" stroke-linejoin="round" stroke-linecap="round" />
<polyline points="385.6,159.71 386.6,159.69 387.6,159.68 388.6,159.66 389.6,159.65 390.6,159.64 391.6,159.62 392.6,159.6 393.6,159.59 394.6,159.57 395.6,159.55 396.6,159.53 397.6,159.51 398.6,159.49 399.6,159.45 400.6,159.41 401.6,159.36 402.6,159.28 403.6,159.15 404.6,158.97 405.6,158.7 406.6,158.29 407.6,157.72 408.6,156.91 409.6,155.83 410.6,154.42 411.6,152.64 412.6,150.49 413.6,148 414.6,145.24 415.6,142.32 416.6,139.41 417.6,136.69 418.6,134.38 419.6,132.67 420.6,131.72 421.6,131.62 422.6,132.38 423.6,133.93 424.6,136.11 425.6,138.74 426.6,141.61 427.6,144.52 428.6,147.3 429.6,149.83 430.6,152.03 431.6,153.85 432.6,155.31 433.6,156.44 434.6,157.27 435.6,157.87 436.6,158.28 437.6,158.55 438.6,158.73 439.6,158.84 440.6,158.9 441.6,158.94 442.6,158.96 443.6,158.97 444.6,158.97 445.6,158.97 446.6,158.97 447.6,158.97 448.6,158.96 449.6,158.96 450.6,158.95 451.6,158.94 452.6,158.93 453.6,158.93 454.6,158.92 455.6,158.91 456.6,158.9" fill="none" stroke="#3a9ae2" stroke-width="1.4" stroke-linejoin="round" stroke-linecap="round" />
<polyline points="388.6,159.56 389.6,159.54 390.6,159.52 391.6,159.5 392.6,159.49 393.6,159.47 394.6,159.45 395.6,159.43 396.6,159.41 397.6,159.39 398.6,159.37 399.6,159.35 400.6,159.33 401.6,159.31 402.6,159.28 403.6,159.26 404.6,159.24 405.6,159.21 406.6,159.18 407.6,159.16 408.6,159.13 409.6,159.1 410.6,159.06 411.6,159.03 412.6,158.99 413.6,158.95 414.6,158.9 415.6,158.85 416.6,158.79 417.6,158.71 418.6,158.63 419.6,158.53 420.6,158.41 421.6,158.27 422.6,158.1 423.6,157.89 424.6,157.64 425.6,157.34 426.6,156.99 427.6,156.57 428.6,156.08 429.6,155.51 430.6,154.86 431.6,154.12 432.6,153.29 433.6,152.37 434.6,151.37 435.6,150.29 436.6,149.15 437.6,147.95 438.6,146.73 439.6,145.51 440.6,144.31 441.6,143.16 442.6,142.11 443.6,141.19 444.6,140.43 445.6,139.87 446.6,139.54 447.6,139.46 448.6,139.62 449.6,140.02 450.6,140.64 451.6,141.44 452.6,142.4 453.6,143.47 454.6,144.62 455.6,145.81 456.6,147.01 457.6,148.2 458.6,149.36 459.6,150.45 460.6,151.48 461.6,152.42 462.6,153.28 463.6,154.06 464.6,154.74 465.6,155.33 466.6,155.85 467.6,156.28 468.6,156.65 469.6,156.96 470.6,157.22 471.6,157.43 472.6,157.6 473.6,157.73 474.6,157.84 475.6,157.93 476.6,158 477.6,158.06 478.6,158.1 479.6,158.14 480.6,158.17 481.6,158.19 482.6,158.21 483.6,158.22 484.6,158.23 485.6,158.24 486.6,158.25 487.6,158.26 488.6,158.26 489.6,158.26 490.6,158.27 491.6,158.27 492.6,158.27 493.6,158.27 494.6,158.27 495.6,158.26 496.6,158.26 497.6,158.26 498.6,158.26 499.6,158.25" fill="none" stroke="#f5852a" stroke-width="1.4" stroke-linejoin="round" stroke-linecap="round" />
<rect x="337.6" y="5.9" width="202.7" height="163" fill="none" stroke="#595959" stroke-width="1.3"/>
<line x1="343.23" y1="168.9" x2="343.23" y2="170.5" stroke="#333" stroke-width="0.9" />
<line x1="371.35" y1="168.9" x2="371.35" y2="171.5" stroke="#333" stroke-width="0.9" />
<line x1="399.48" y1="168.9" x2="399.48" y2="170.5" stroke="#333" stroke-width="0.9" />
<line x1="427.6" y1="168.9" x2="427.6" y2="171.5" stroke="#333" stroke-width="0.9" />
<line x1="455.73" y1="168.9" x2="455.73" y2="170.5" stroke="#333" stroke-width="0.9" />
<line x1="483.85" y1="168.9" x2="483.85" y2="171.5" stroke="#333" stroke-width="0.9" />
<line x1="511.98" y1="168.9" x2="511.98" y2="170.5" stroke="#333" stroke-width="0.9" />
<text x="371.35" y="181.2" font-family="Liberation Serif" font-size="8.4" font-weight="normal" fill="#1c1c1c" text-anchor="middle" textLength="13" lengthAdjust="spacingAndGlyphs" stroke="#1c1c1c" stroke-width="0.2" >525</text>
<text x="427.6" y="181.2" font-family="Liberation Serif" font-size="8.4" font-weight="normal" fill="#1c1c1c" text-anchor="middle" textLength="13" lengthAdjust="spacingAndGlyphs" stroke="#1c1c1c" stroke-width="0.2" >530</text>
<text x="483.85" y="181.2" font-family="Liberation Serif" font-size="8.4" font-weight="normal" fill="#1c1c1c" text-anchor="middle" textLength="13" lengthAdjust="spacingAndGlyphs" stroke="#1c1c1c" stroke-width="0.2" >535</text>
<text x="540.1" y="181.2" font-family="Liberation Serif" font-size="8.4" font-weight="normal" fill="#1c1c1c" text-anchor="middle" textLength="13" lengthAdjust="spacingAndGlyphs" stroke="#1c1c1c" stroke-width="0.2" >540</text>
<text x="406.8" y="192" font-family="Liberation Serif" font-size="9.2" font-weight="normal" fill="#1c1c1c" text-anchor="start" textLength="69.2" lengthAdjust="spacingAndGlyphs" stroke="#1c1c1c" stroke-width="0.1" >Binding Energy(eV)</text>
<text x="331" y="87.25" font-family="Liberation Serif" font-size="8.6" font-weight="normal" fill="#1c1c1c" text-anchor="middle" textLength="47.5" lengthAdjust="spacingAndGlyphs" stroke="#1c1c1c" stroke-width="0.2" transform="rotate(-90 331 87.25)">Intensity(a.u.)</text>
<text x="338.6" y="13.6" font-family="Liberation Serif" font-size="8.0" font-weight="bold" fill="#1c1c1c" text-anchor="start" textLength="9.7" lengthAdjust="spacingAndGlyphs" stroke="#1c1c1c" stroke-width="0.3" >(b)</text>
<text x="515.3" y="15.4" font-family="Liberation Serif" font-size="9.0" font-weight="normal" fill="#1c1c1c" text-anchor="start" textLength="15.7" lengthAdjust="spacingAndGlyphs" stroke="#1c1c1c" stroke-width="0.2" >O 1s</text>
<text x="395" y="24.4" font-family="Liberation Serif" font-size="8.4" font-weight="normal" fill="#1c1c1c" text-anchor="start" textLength="6.4" lengthAdjust="spacingAndGlyphs" stroke="#1c1c1c" stroke-width="0.2" >O</text>
<text x="401.4" y="26.7" font-family="Liberation Serif" font-size="7.6" font-weight="normal" fill="#1c1c1c" text-anchor="start" textLength="14.3" lengthAdjust="spacingAndGlyphs" stroke="#1c1c1c" stroke-width="0.14" >lattice</text>
<text x="458.9" y="15.7" font-family="Liberation Serif" font-size="8.8" font-weight="normal" fill="#1c1c1c" text-anchor="start" textLength="10.8" lengthAdjust="spacingAndGlyphs" stroke="#1c1c1c" stroke-width="0.2" >OH</text>
<text x="470.3" y="12.3" font-family="Liberation Serif" font-size="6" font-weight="normal" fill="#1c1c1c" text-anchor="start" textLength="2" lengthAdjust="spacingAndGlyphs" stroke="#1c1c1c" stroke-width="0.2" >-</text>
<text x="474.3" y="18" font-family="Liberation Serif" font-size="7.6" font-weight="normal" fill="#1c1c1c" text-anchor="start" textLength="16.7" lengthAdjust="spacingAndGlyphs" stroke="#1c1c1c" stroke-width="0.14" >surface</text>
<text x="393" y="58" font-family="Liberation Serif" font-size="8.4" font-weight="normal" fill="#1c1c1c" text-anchor="start" textLength="6.4" lengthAdjust="spacingAndGlyphs" stroke="#1c1c1c" stroke-width="0.2" >O</text>
<text x="399.4" y="60.3" font-family="Liberation Serif" font-size="7.6" font-weight="normal" fill="#1c1c1c" text-anchor="start" textLength="13.3" lengthAdjust="spacingAndGlyphs" stroke="#1c1c1c" stroke-width="0.14" >lattice</text>
<text x="452.8" y="59.4" font-family="Liberation Serif" font-size="8.8" font-weight="normal" fill="#1c1c1c" text-anchor="start" textLength="10.8" lengthAdjust="spacingAndGlyphs" stroke="#1c1c1c" stroke-width="0.2" >OH</text>
<text x="464.2" y="56" font-family="Liberation Serif" font-size="6" font-weight="normal" fill="#1c1c1c" text-anchor="start" textLength="2" lengthAdjust="spacingAndGlyphs" stroke="#1c1c1c" stroke-width="0.2" >-</text>
<text x="468.2" y="61.7" font-family="Liberation Serif" font-size="7.6" font-weight="normal" fill="#1c1c1c" text-anchor="start" textLength="16.4" lengthAdjust="spacingAndGlyphs" stroke="#1c1c1c" stroke-width="0.14" >surface</text>
<text x="393.2" y="101.7" font-family="Liberation Serif" font-size="8.4" font-weight="normal" fill="#1c1c1c" text-anchor="start" textLength="6.4" lengthAdjust="spacingAndGlyphs" stroke="#1c1c1c" stroke-width="0.2" >O</text>
<text x="399.6" y="104" font-family="Liberation Serif" font-size="7.6" font-weight="normal" fill="#1c1c1c" text-anchor="start" textLength="13.6" lengthAdjust="spacingAndGlyphs" stroke="#1c1c1c" stroke-width="0.14" >lattice</text>
<text x="451.4" y="100.8" font-family="Liberation Serif" font-size="8.8" font-weight="normal" fill="#1c1c1c" text-anchor="start" textLength="10.8" lengthAdjust="spacingAndGlyphs" stroke="#1c1c1c" stroke-width="0.2" >OH</text>
<text x="462.8" y="97.4" font-family="Liberation Serif" font-size="6" font-weight="normal" fill="#1c1c1c" text-anchor="start" textLength="2" lengthAdjust="spacingAndGlyphs" stroke="#1c1c1c" stroke-width="0.2" >-</text>
<text x="466.8" y="103.1" font-family="Liberation Serif" font-size="7.6" font-weight="normal" fill="#1c1c1c" text-anchor="start" textLength="16.4" lengthAdjust="spacingAndGlyphs" stroke="#1c1c1c" stroke-width="0.14" >surface</text>
<text x="392.3" y="141.4" font-family="Liberation Serif" font-size="8.4" font-weight="normal" fill="#1c1c1c" text-anchor="start" textLength="6.4" lengthAdjust="spacingAndGlyphs" stroke="#1c1c1c" stroke-width="0.2" >O</text>
<text x="398.7" y="143.7" font-family="Liberation Serif" font-size="7.6" font-weight="normal" fill="#1c1c1c" text-anchor="start" textLength="13.6" lengthAdjust="spacingAndGlyphs" stroke="#1c1c1c" stroke-width="0.14" >lattice</text>
<text x="453.7" y="139.2" font-family="Liberation Serif" font-size="8.8" font-weight="normal" fill="#1c1c1c" text-anchor="start" textLength="10.8" lengthAdjust="spacingAndGlyphs" stroke="#1c1c1c" stroke-width="0.2" >OH</text>
<text x="465.1" y="135.8" font-family="Liberation Serif" font-size="6" font-weight="normal" fill="#1c1c1c" text-anchor="start" textLength="2" lengthAdjust="spacingAndGlyphs" stroke="#1c1c1c" stroke-width="0.2" >-</text>
<text x="469.1" y="141.5" font-family="Liberation Serif" font-size="7.6" font-weight="normal" fill="#1c1c1c" text-anchor="start" textLength="16.4" lengthAdjust="spacingAndGlyphs" stroke="#1c1c1c" stroke-width="0.14" >surface</text>
<text x="498.7" y="33.9" font-family="Liberation Serif" font-size="8.8" font-weight="normal" fill="#1c1c1c" text-anchor="start" textLength="28.6" lengthAdjust="spacingAndGlyphs" stroke="#1c1c1c" stroke-width="0.2" >500LFO</text>
<text x="498.7" y="76.3" font-family="Liberation Serif" font-size="8.8" font-weight="normal" fill="#1c1c1c" text-anchor="start" textLength="28.6" lengthAdjust="spacingAndGlyphs" stroke="#1c1c1c" stroke-width="0.2" >600LFO</text>
<text x="498.7" y="115.8" font-family="Liberation Serif" font-size="8.8" font-weight="normal" fill="#1c1c1c" text-anchor="start" textLength="28.6" lengthAdjust="spacingAndGlyphs" stroke="#1c1c1c" stroke-width="0.2" >700LFO</text>
<text x="498.7" y="154.5" font-family="Liberation Serif" font-size="8.8" font-weight="normal" fill="#1c1c1c" text-anchor="start" textLength="28.6" lengthAdjust="spacingAndGlyphs" stroke="#1c1c1c" stroke-width="0.2" >800LFO</text>
<line x1="63.3" y1="243.7" x2="63.3" y2="268.6" stroke="#d4d4d4" stroke-width="0.7" />
<line x1="159.3" y1="243.7" x2="159.3" y2="268.6" stroke="#d4d4d4" stroke-width="0.7" />
<polyline points="20.7,268.5 21.7,268.5 22.7,268.5 23.7,268.49 24.7,268.48 25.7,268.48 26.7,268.47 27.7,268.46 28.7,268.45 29.7,268.44 30.7,268.43 31.7,268.41 32.7,268.4 33.7,268.38 34.7,268.37 35.7,268.34 36.7,268.32 37.7,268.29 38.7,268.25 39.7,268.21 40.7,268.15 41.7,268.07 42.7,267.96 43.7,267.82 44.7,267.64 45.7,267.4 46.7,267.09 47.7,266.69 48.7,266.19 49.7,265.58 50.7,264.84 51.7,263.95 52.7,262.91 53.7,261.75 54.7,260.47 55.7,259.1 56.7,257.69 57.7,256.28 58.7,254.94 59.7,253.71 60.7,252.66 61.7,251.84 62.7,251.31 63.7,251.08 64.7,251.15 65.7,251.5 66.7,252.08 67.7,252.81 68.7,253.64 69.7,254.47 70.7,255.24 71.7,255.86 72.7,256.3 73.7,256.51 74.7,256.48 75.7,256.2 76.7,255.7 77.7,255.03 78.7,254.25 79.7,253.41 80.7,252.61 81.7,251.91 82.7,251.38 83.7,251.1 84.7,251.09 85.7,251.38 86.7,251.96 87.7,252.79 88.7,253.84 89.7,255.03 90.7,256.33 91.7,257.66 92.7,258.97 93.7,260.23 94.7,261.4 95.7,262.44 96.7,263.33 97.7,264.08 98.7,264.68 99.7,265.15 100.7,265.5 101.7,265.74 102.7,265.9 103.7,266 104.7,266.04 105.7,266.05 106.7,266.03 107.7,266 108.7,265.96 109.7,265.92 110.7,265.89 111.7,265.86 112.7,265.82 113.7,265.77 114.7,265.73 115.7,265.69 116.7,265.66 117.7,265.64 118.7,265.62 119.7,265.61 120.7,265.62 121.7,265.62 122.7,265.62 123.7,265.62 124.7,265.62 125.7,265.62 126.7,265.62 127.7,265.62 128.7,265.62 129.7,265.62 130.7,265.62 131.7,265.61 132.7,265.61 133.7,265.6 134.7,265.59 135.7,265.57 136.7,265.55 137.7,265.52 138.7,265.48 139.7,265.42 140.7,265.34 141.7,265.23 142.7,265.09 143.7,264.9 144.7,264.64 145.7,264.28 146.7,263.81 147.7,263.22 148.7,262.51 149.7,261.67 150.7,260.73 151.7,259.74 152.7,258.75 153.7,257.8 154.7,256.94 155.7,256.22 156.7,255.71 157.7,255.42 158.7,255.37 159.7,255.55 160.7,255.93 161.7,256.47 162.7,257.09 163.7,257.73 164.7,258.33 165.7,258.84 166.7,259.23 167.7,259.46 168.7,259.56 169.7,259.53 170.7,259.39 171.7,259.15 172.7,258.84 173.7,258.49 174.7,258.14 175.7,257.83 176.7,257.59 177.7,257.44 178.7,257.41 179.7,257.52 180.7,257.81 181.7,258.28 182.7,258.89 183.7,259.62 184.7,260.43 185.7,261.29 186.7,262.15 187.7,262.99 188.7,263.78 189.7,264.51 190.7,265.16 191.7,265.73 192.7,266.21 193.7,266.61 194.7,266.94 195.7,267.21 196.7,267.42 197.7,267.58 198.7,267.71 199.7,267.8 200.7,267.88 201.7,267.93 202.7,267.98 203.7,268.01 204.7,268.04 205.7,268.07 206.7,268.09 207.7,268.1 208.7,268.12 209.7,268.13 210.7,268.15 211.7,268.16 212.7,268.17 213.7,268.18 214.7,268.19 215.7,268.2 216.7,268.21 217.7,268.22 218.7,268.22 219.7,268.23 220.7,268.23 221.7,268.24 222.7,268.24" fill="none" stroke="#f01818" stroke-width="1.5" stroke-linejoin="round" stroke-linecap="round" />
<polyline points="20.7,268.6 21.7,268.6 22.7,268.6 23.7,268.6 24.7,268.6 25.7,268.6 26.7,268.6 27.7,268.6 28.7,268.6 29.7,268.6 30.7,268.6 31.7,268.6 32.7,268.6 33.7,268.6 34.7,268.6 35.7,268.6 36.7,268.6 37.7,268.6 38.7,268.6 39.7,268.6 40.7,268.6 41.7,268.6 42.7,268.6 43.7,268.6 44.7,268.6 45.7,268.6 46.7,268.6 47.7,268.6 48.7,268.6 49.7,268.59 50.7,268.59 51.7,268.59 52.7,268.59 53.7,268.59 54.7,268.59 55.7,268.59 56.7,268.59 57.7,268.59 58.7,268.59 59.7,268.59 60.7,268.59 61.7,268.59 62.7,268.59 63.7,268.59 64.7,268.59 65.7,268.59 66.7,268.59 67.7,268.59 68.7,268.59 69.7,268.59 70.7,268.59 71.7,268.59 72.7,268.59 73.7,268.59 74.7,268.59 75.7,268.59 76.7,268.59 77.7,268.59 78.7,268.59 79.7,268.59 80.7,268.59 81.7,268.59 82.7,268.59 83.7,268.59 84.7,268.59 85.7,268.59 86.7,268.59 87.7,268.59 88.7,268.59 89.7,268.59 90.7,268.59 91.7,268.59 92.7,268.59 93.7,268.59 94.7,268.59 95.7,268.58 96.7,268.58 97.7,268.58 98.7,268.58 99.7,268.58 100.7,268.58 101.7,268.58 102.7,268.58 103.7,268.58 104.7,268.58 105.7,268.58 106.7,268.58 107.7,268.58 108.7,268.58 109.7,268.58 110.7,268.57 111.7,268.57 112.7,268.57 113.7,268.57 114.7,268.57 115.7,268.57 116.7,268.57 117.7,268.56 118.7,268.56 119.7,268.56 120.7,268.56 121.7,268.56 122.7,268.55 123.7,268.55 124.7,268.55 125.7,268.55 126.7,268.54 127.7,268.54 128.7,268.53 129.7,268.53 130.7,268.53 131.7,268.52 132.7,268.51 133.7,268.5 134.7,268.49 135.7,268.48 136.7,268.46 137.7,268.43 138.7,268.39 139.7,268.32 140.7,268.23 141.7,268.11 142.7,267.93 143.7,267.68 144.7,267.35 145.7,266.93 146.7,266.38 147.7,265.72 148.7,264.92 149.7,264.01 150.7,263 151.7,261.93 152.7,260.84 153.7,259.79 154.7,258.85 155.7,258.09 156.7,257.56 157.7,257.31 158.7,257.38 159.7,257.74 160.7,258.37 161.7,259.21 162.7,260.2 163.7,261.28 164.7,262.36 165.7,263.42 166.7,264.39 167.7,265.25 168.7,266 169.7,266.61 170.7,267.11 171.7,267.5 172.7,267.79 173.7,268.01 174.7,268.16 175.7,268.27 176.7,268.35 177.7,268.4 178.7,268.44 179.7,268.47 180.7,268.48 181.7,268.5 182.7,268.51 183.7,268.52 184.7,268.52 185.7,268.53 186.7,268.53 187.7,268.54 188.7,268.54 189.7,268.54 190.7,268.55 191.7,268.55 192.7,268.55 193.7,268.56 194.7,268.56 195.7,268.56 196.7,268.56 197.7,268.56 198.7,268.57 199.7,268.57 200.7,268.57 201.7,268.57 202.7,268.57 203.7,268.57 204.7,268.57 205.7,268.57 206.7,268.58 207.7,268.58 208.7,268.58 209.7,268.58 210.7,268.58 211.7,268.58 212.7,268.58 213.7,268.58 214.7,268.58 215.7,268.58 216.7,268.58 217.7,268.58 218.7,268.58 219.7,268.58 220.7,268.59 221.7,268.59 222.7,268.59" fill="none" stroke="#777777" stroke-width="1.3" stroke-linejoin="round" stroke-linecap="round" />
<polyline points="20.7,268.6 21.7,268.6 22.7,268.6 23.7,268.6 24.7,268.6 25.7,268.6 26.7,268.6 27.7,268.6 28.7,268.6 29.7,268.6 30.7,268.6 31.7,268.6 32.7,268.6 33.7,268.6 34.7,268.6 35.7,268.6 36.7,268.6 37.7,268.6 38.7,268.6 39.7,268.6 40.7,268.6 41.7,268.6 42.7,268.6 43.7,268.6 44.7,268.6 45.7,268.6 46.7,268.6 47.7,268.6 48.7,268.6 49.7,268.6 50.7,268.6 51.7,268.6 52.7,268.6 53.7,268.6 54.7,268.6 55.7,268.6 56.7,268.6 57.7,268.6 58.7,268.59 59.7,268.59 60.7,268.59 61.7,268.59 62.7,268.59 63.7,268.59 64.7,268.59 65.7,268.59 66.7,268.59 67.7,268.59 68.7,268.59 69.7,268.59 70.7,268.59 71.7,268.59 72.7,268.59 73.7,268.59 74.7,268.59 75.7,268.59 76.7,268.59 77.7,268.59 78.7,268.59 79.7,268.59 80.7,268.59 81.7,268.59 82.7,268.59 83.7,268.59 84.7,268.59 85.7,268.59 86.7,268.59 87.7,268.59 88.7,268.59 89.7,268.59 90.7,268.59 91.7,268.59 92.7,268.59 93.7,268.59 94.7,268.59 95.7,268.59 96.7,268.59 97.7,268.59 98.7,268.59 99.7,268.59 100.7,268.59 101.7,268.59 102.7,268.59 103.7,268.59 104.7,268.59 105.7,268.59 106.7,268.59 107.7,268.59 108.7,268.59 109.7,268.58 110.7,268.58 111.7,268.58 112.7,268.58 113.7,268.58 114.7,268.58 115.7,268.58 116.7,268.58 117.7,268.58 118.7,268.58 119.7,268.58 120.7,268.58 121.7,268.58 122.7,268.58 123.7,268.58 124.7,268.58 125.7,268.57 126.7,268.57 127.7,268.57 128.7,268.57 129.7,268.57 130.7,268.57 131.7,268.57 132.7,268.57 133.7,268.57 134.7,268.56 135.7,268.56 136.7,268.56 137.7,268.56 138.7,268.56 139.7,268.55 140.7,268.55 141.7,268.55 142.7,268.55 143.7,268.54 144.7,268.54 145.7,268.54 146.7,268.53 147.7,268.53 148.7,268.52 149.7,268.52 150.7,268.51 151.7,268.5 152.7,268.49 153.7,268.48 154.7,268.46 155.7,268.43 156.7,268.39 157.7,268.34 158.7,268.27 159.7,268.18 160.7,268.05 161.7,267.88 162.7,267.66 163.7,267.39 164.7,267.04 165.7,266.62 166.7,266.12 167.7,265.53 168.7,264.87 169.7,264.13 170.7,263.34 171.7,262.51 172.7,261.67 173.7,260.85 174.7,260.1 175.7,259.44 176.7,258.92 177.7,258.57 178.7,258.41 179.7,258.45 180.7,258.69 181.7,259.11 182.7,259.69 183.7,260.39 184.7,261.17 185.7,262 186.7,262.84 187.7,263.66 188.7,264.43 189.7,265.14 190.7,265.78 191.7,266.33 192.7,266.8 193.7,267.19 194.7,267.51 195.7,267.76 196.7,267.95 197.7,268.1 198.7,268.22 199.7,268.3 200.7,268.36 201.7,268.41 202.7,268.44 203.7,268.47 204.7,268.48 205.7,268.5 206.7,268.51 207.7,268.51 208.7,268.52 209.7,268.53 210.7,268.53 211.7,268.54 212.7,268.54 213.7,268.54 214.7,268.55 215.7,268.55 216.7,268.55 217.7,268.55 218.7,268.56 219.7,268.56 220.7,268.56 221.7,268.56 222.7,268.56" fill="none" stroke="#f5862a" stroke-width="1.3" stroke-linejoin="round" stroke-linecap="round" />
<polyline points="20.7,268.57 21.7,268.57 22.7,268.57 23.7,268.57 24.7,268.57 25.7,268.57 26.7,268.57 27.7,268.56 28.7,268.56 29.7,268.56 30.7,268.56 31.7,268.56 32.7,268.56 33.7,268.56 34.7,268.55 35.7,268.55 36.7,268.55 37.7,268.55 38.7,268.55 39.7,268.54 40.7,268.54 41.7,268.54 42.7,268.54 43.7,268.53 44.7,268.53 45.7,268.53 46.7,268.52 47.7,268.52 48.7,268.51 49.7,268.51 50.7,268.5 51.7,268.5 52.7,268.49 53.7,268.48 54.7,268.47 55.7,268.46 56.7,268.45 57.7,268.44 58.7,268.42 59.7,268.39 60.7,268.35 61.7,268.3 62.7,268.23 63.7,268.14 64.7,268.01 65.7,267.83 66.7,267.6 67.7,267.29 68.7,266.9 69.7,266.4 70.7,265.79 71.7,265.05 72.7,264.19 73.7,263.19 74.7,262.06 75.7,260.83 76.7,259.53 77.7,258.19 78.7,256.86 79.7,255.6 80.7,254.47 81.7,253.52 82.7,252.82 83.7,252.4 84.7,252.31 85.7,252.53 86.7,253.07 87.7,253.87 88.7,254.9 89.7,256.1 90.7,257.39 91.7,258.73 92.7,260.06 93.7,261.34 94.7,262.53 95.7,263.6 96.7,264.55 97.7,265.37 98.7,266.05 99.7,266.61 100.7,267.07 101.7,267.42 102.7,267.7 103.7,267.91 104.7,268.06 105.7,268.18 106.7,268.26 107.7,268.32 108.7,268.37 109.7,268.4 110.7,268.42 111.7,268.44 112.7,268.46 113.7,268.47 114.7,268.48 115.7,268.49 116.7,268.49 117.7,268.5 118.7,268.5 119.7,268.51 120.7,268.51 121.7,268.52 122.7,268.52 123.7,268.53 124.7,268.53 125.7,268.53 126.7,268.54 127.7,268.54 128.7,268.54 129.7,268.54 130.7,268.55 131.7,268.55 132.7,268.55 133.7,268.55 134.7,268.55 135.7,268.56 136.7,268.56 137.7,268.56 138.7,268.56 139.7,268.56 140.7,268.56 141.7,268.56 142.7,268.57 143.7,268.57 144.7,268.57 145.7,268.57 146.7,268.57 147.7,268.57 148.7,268.57 149.7,268.57 150.7,268.57 151.7,268.57 152.7,268.58 153.7,268.58 154.7,268.58 155.7,268.58 156.7,268.58 157.7,268.58 158.7,268.58 159.7,268.58 160.7,268.58 161.7,268.58 162.7,268.58 163.7,268.58 164.7,268.58 165.7,268.58 166.7,268.58 167.7,268.58 168.7,268.58 169.7,268.58 170.7,268.58 171.7,268.58 172.7,268.59 173.7,268.59 174.7,268.59 175.7,268.59 176.7,268.59 177.7,268.59 178.7,268.59 179.7,268.59 180.7,268.59 181.7,268.59 182.7,268.59 183.7,268.59 184.7,268.59 185.7,268.59 186.7,268.59 187.7,268.59 188.7,268.59 189.7,268.59 190.7,268.59 191.7,268.59 192.7,268.59 193.7,268.59 194.7,268.59 195.7,268.59 196.7,268.59 197.7,268.59 198.7,268.59 199.7,268.59 200.7,268.59 201.7,268.59 202.7,268.59 203.7,268.59 204.7,268.59 205.7,268.59 206.7,268.59 207.7,268.59 208.7,268.59 209.7,268.59 210.7,268.59 211.7,268.59 212.7,268.59 213.7,268.59 214.7,268.59 215.7,268.59 216.7,268.59 217.7,268.59 218.7,268.59 219.7,268.59 220.7,268.59 221.7,268.59 222.7,268.59" fill="none" stroke="#2e92ea" stroke-width="1.3" stroke-linejoin="round" stroke-linecap="round" />
<polyline points="20.7,268.54 21.7,268.54 22.7,268.53 23.7,268.53 24.7,268.53 25.7,268.52 26.7,268.52 27.7,268.51 28.7,268.51 29.7,268.5 30.7,268.5 31.7,268.49 32.7,268.48 33.7,268.48 34.7,268.47 35.7,268.45 36.7,268.44 37.7,268.42 38.7,268.39 39.7,268.36 40.7,268.31 41.7,268.24 42.7,268.15 43.7,268.02 44.7,267.85 45.7,267.63 46.7,267.33 47.7,266.95 48.7,266.47 49.7,265.87 50.7,265.16 51.7,264.31 52.7,263.32 53.7,262.22 54.7,261.01 55.7,259.72 56.7,258.39 57.7,257.07 58.7,255.8 59.7,254.66 60.7,253.7 61.7,252.97 62.7,252.53 63.7,252.4 64.7,252.59 65.7,253.1 66.7,253.87 67.7,254.88 68.7,256.05 69.7,257.33 70.7,258.66 71.7,259.98 72.7,261.26 73.7,262.45 74.7,263.53 75.7,264.49 76.7,265.31 77.7,266 78.7,266.57 79.7,267.03 80.7,267.4 81.7,267.68 82.7,267.89 83.7,268.05 84.7,268.17 85.7,268.26 86.7,268.32 87.7,268.37 88.7,268.4 89.7,268.42 90.7,268.44 91.7,268.46 92.7,268.47 93.7,268.48 94.7,268.49 95.7,268.49 96.7,268.5 97.7,268.51 98.7,268.51 99.7,268.51 100.7,268.52 101.7,268.52 102.7,268.53 103.7,268.53 104.7,268.53 105.7,268.54 106.7,268.54 107.7,268.54 108.7,268.54 109.7,268.55 110.7,268.55 111.7,268.55 112.7,268.55 113.7,268.55 114.7,268.56 115.7,268.56 116.7,268.56 117.7,268.56 118.7,268.56 119.7,268.56 120.7,268.56 121.7,268.57 122.7,268.57 123.7,268.57 124.7,268.57 125.7,268.57 126.7,268.57 127.7,268.57 128.7,268.57 129.7,268.57 130.7,268.57 131.7,268.58 132.7,268.58 133.7,268.58 134.7,268.58 135.7,268.58 136.7,268.58 137.7,268.58 138.7,268.58 139.7,268.58 140.7,268.58 141.7,268.58 142.7,268.58 143.7,268.58 144.7,268.58 145.7,268.58 146.7,268.58 147.7,268.58 148.7,268.58 149.7,268.58 150.7,268.58 151.7,268.59 152.7,268.59 153.7,268.59 154.7,268.59 155.7,268.59 156.7,268.59 157.7,268.59 158.7,268.59 159.7,268.59 160.7,268.59 161.7,268.59 162.7,268.59 163.7,268.59 164.7,268.59 165.7,268.59 166.7,268.59 167.7,268.59 168.7,268.59 169.7,268.59 170.7,268.59 171.7,268.59 172.7,268.59 173.7,268.59 174.7,268.59 175.7,268.59 176.7,268.59 177.7,268.59 178.7,268.59 179.7,268.59 180.7,268.59 181.7,268.59 182.7,268.59 183.7,268.59 184.7,268.59 185.7,268.59 186.7,268.59 187.7,268.59 188.7,268.59 189.7,268.59 190.7,268.59 191.7,268.59 192.7,268.59 193.7,268.59 194.7,268.59 195.7,268.59 196.7,268.59 197.7,268.59 198.7,268.59 199.7,268.59 200.7,268.59 201.7,268.59 202.7,268.59 203.7,268.59 204.7,268.59 205.7,268.59 206.7,268.59 207.7,268.59 208.7,268.59 209.7,268.59 210.7,268.59 211.7,268.59 212.7,268.59 213.7,268.59 214.7,268.59 215.7,268.59 216.7,268.6 217.7,268.6 218.7,268.6 219.7,268.6 220.7,268.6 221.7,268.6 222.7,268.6" fill="none" stroke="#1fc08a" stroke-width="1.3" stroke-linejoin="round" stroke-linecap="round" />
<polyline points="20.7,268.6 21.7,268.6 22.7,268.6 23.7,268.6 24.7,268.6 25.7,268.6 26.7,268.6 27.7,268.6 28.7,268.6 29.7,268.59 30.7,268.59 31.7,268.59 32.7,268.59 33.7,268.59 34.7,268.59 35.7,268.59 36.7,268.58 37.7,268.58 38.7,268.58 39.7,268.58 40.7,268.57 41.7,268.57 42.7,268.57 43.7,268.57 44.7,268.56 45.7,268.56 46.7,268.56 47.7,268.55 48.7,268.55 49.7,268.55 50.7,268.54 51.7,268.54 52.7,268.53 53.7,268.53 54.7,268.53 55.7,268.52 56.7,268.52 57.7,268.51 58.7,268.51 59.7,268.5 60.7,268.5 61.7,268.48 62.7,268.47 63.7,268.45 64.7,268.42 65.7,268.39 66.7,268.36 67.7,268.33 68.7,268.29 69.7,268.25 70.7,268.21 71.7,268.17 72.7,268.12 73.7,268.08 74.7,268.03 75.7,267.99 76.7,267.94 77.7,267.9 78.7,267.85 79.7,267.81 80.7,267.77 81.7,267.72 82.7,267.67 83.7,267.61 84.7,267.56 85.7,267.49 86.7,267.43 87.7,267.37 88.7,267.3 89.7,267.24 90.7,267.18 91.7,267.12 92.7,267.06 93.7,267.01 94.7,266.96 95.7,266.92 96.7,266.88 97.7,266.85 98.7,266.82 99.7,266.8 100.7,266.79 101.7,266.78 102.7,266.77 103.7,266.76 104.7,266.76 105.7,266.75 106.7,266.74 107.7,266.73 108.7,266.72 109.7,266.71 110.7,266.71 111.7,266.7 112.7,266.69 113.7,266.69 114.7,266.68 115.7,266.67 116.7,266.67 117.7,266.66 118.7,266.66 119.7,266.65 120.7,266.65 121.7,266.64 122.7,266.64 123.7,266.63 124.7,266.63 125.7,266.63 126.7,266.62 127.7,266.62 128.7,266.62 129.7,266.61 130.7,266.61 131.7,266.61 132.7,266.61 133.7,266.6 134.7,266.6 135.7,266.6 136.7,266.6 137.7,266.6 138.7,266.6 139.7,266.6 140.7,266.6 141.7,266.6 142.7,266.61 143.7,266.62 144.7,266.63 145.7,266.65 146.7,266.67 147.7,266.68 148.7,266.7 149.7,266.73 150.7,266.75 151.7,266.78 152.7,266.8 153.7,266.83 154.7,266.86 155.7,266.88 156.7,266.91 157.7,266.94 158.7,266.97 159.7,266.99 160.7,267.02 161.7,267.05 162.7,267.08 163.7,267.12 164.7,267.16 165.7,267.2 166.7,267.25 167.7,267.29 168.7,267.34 169.7,267.39 170.7,267.44 171.7,267.49 172.7,267.54 173.7,267.59 174.7,267.63 175.7,267.68 176.7,267.73 177.7,267.77 178.7,267.81 179.7,267.85 180.7,267.89 181.7,267.92 182.7,267.95 183.7,267.97 184.7,267.99 185.7,268.01 186.7,268.03 187.7,268.05 188.7,268.06 189.7,268.08 190.7,268.1 191.7,268.11 192.7,268.13 193.7,268.14 194.7,268.16 195.7,268.17 196.7,268.19 197.7,268.2 198.7,268.22 199.7,268.23 200.7,268.24 201.7,268.25 202.7,268.27 203.7,268.28 204.7,268.29 205.7,268.3 206.7,268.31 207.7,268.32 208.7,268.33 209.7,268.34 210.7,268.35 211.7,268.36 212.7,268.36 213.7,268.37 214.7,268.38 215.7,268.38 216.7,268.39 217.7,268.39 218.7,268.39 219.7,268.4 220.7,268.4 221.7,268.4 222.7,268.4" fill="none" stroke="#c37ff0" stroke-width="1.3" stroke-linejoin="round" stroke-linecap="round" />
<line x1="67" y1="258" x2="155" y2="258" stroke="#6a6a6a" stroke-width="0.75" />
<path d="M64,258 l3.4,-1.3 v2.6 z" fill="#111"/>
<path d="M158,258 l-3.4,-1.3 v2.6 z" fill="#111"/>
<line x1="60.8" y1="281.5" x2="60.8" y2="309.8" stroke="#d4d4d4" stroke-width="0.7" />
<line x1="156.8" y1="286.5" x2="156.8" y2="309.8" stroke="#d4d4d4" stroke-width="0.7" />
<polyline points="20.7,309.65 21.7,309.64 22.7,309.64 23.7,309.63 24.7,309.62 25.7,309.61 26.7,309.59 27.7,309.58 28.7,309.56 29.7,309.55 30.7,309.53 31.7,309.51 32.7,309.48 33.7,309.45 34.7,309.41 35.7,309.37 36.7,309.31 37.7,309.23 38.7,309.12 39.7,308.98 40.7,308.79 41.7,308.53 42.7,308.2 43.7,307.76 44.7,307.21 45.7,306.5 46.7,305.64 47.7,304.59 48.7,303.35 49.7,301.92 50.7,300.31 51.7,298.53 52.7,296.63 53.7,294.65 54.7,292.67 55.7,290.77 56.7,289.03 57.7,287.53 58.7,286.36 59.7,285.58 60.7,285.23 61.7,285.33 62.7,285.83 63.7,286.7 64.7,287.83 65.7,289.12 66.7,290.47 67.7,291.77 68.7,292.93 69.7,293.85 70.7,294.48 71.7,294.77 72.7,294.69 73.7,294.21 74.7,293.38 75.7,292.27 76.7,290.96 77.7,289.56 78.7,288.2 79.7,286.97 80.7,285.99 81.7,285.37 82.7,285.17 83.7,285.4 84.7,286.03 85.7,287.02 86.7,288.31 87.7,289.83 88.7,291.51 89.7,293.26 90.7,295.02 91.7,296.72 92.7,298.32 93.7,299.77 94.7,301.06 95.7,302.17 96.7,303.11 97.7,303.88 98.7,304.5 99.7,304.98 100.7,305.34 101.7,305.59 102.7,305.75 103.7,305.83 104.7,305.86 105.7,305.84 106.7,305.79 107.7,305.72 108.7,305.63 109.7,305.52 110.7,305.42 111.7,305.31 112.7,305.2 113.7,305.1 114.7,305.01 115.7,304.93 116.7,304.86 117.7,304.81 118.7,304.77 119.7,304.76 120.7,304.76 121.7,304.76 122.7,304.76 123.7,304.77 124.7,304.77 125.7,304.77 126.7,304.78 127.7,304.78 128.7,304.78 129.7,304.79 130.7,304.79 131.7,304.79 132.7,304.79 133.7,304.78 134.7,304.77 135.7,304.74 136.7,304.7 137.7,304.63 138.7,304.52 139.7,304.37 140.7,304.14 141.7,303.86 142.7,303.48 143.7,302.99 144.7,302.35 145.7,301.55 146.7,300.58 147.7,299.44 148.7,298.15 149.7,296.77 150.7,295.35 151.7,294 152.7,292.8 153.7,291.82 154.7,291.14 155.7,290.79 156.7,290.8 157.7,291.16 158.7,291.82 159.7,292.71 160.7,293.73 161.7,294.79 162.7,295.79 163.7,296.65 164.7,297.32 165.7,297.76 166.7,297.95 167.7,297.89 168.7,297.69 169.7,297.38 170.7,296.99 171.7,296.55 172.7,296.08 173.7,295.62 174.7,295.22 175.7,294.9 176.7,294.69 177.7,294.6 178.7,294.64 179.7,294.94 180.7,295.49 181.7,296.26 182.7,297.2 183.7,298.27 184.7,299.4 185.7,300.56 186.7,301.7 187.7,302.78 188.7,303.78 189.7,304.67 190.7,305.45 191.7,306.12 192.7,306.68 193.7,307.13 194.7,307.49 195.7,307.78 196.7,308 197.7,308.17 198.7,308.3 199.7,308.4 200.7,308.47 201.7,308.53 202.7,308.57 203.7,308.61 204.7,308.64 205.7,308.66 206.7,308.69 207.7,308.71 208.7,308.73 209.7,308.76 210.7,308.78 211.7,308.8 212.7,308.83 213.7,308.85 214.7,308.87 215.7,308.9 216.7,308.93 217.7,308.96 218.7,308.98 219.7,309.01 220.7,309.04 221.7,309.08 222.7,309.11" fill="none" stroke="#f01818" stroke-width="1.5" stroke-linejoin="round" stroke-linecap="round" />
<polyline points="20.7,309.8 21.7,309.8 22.7,309.8 23.7,309.8 24.7,309.8 25.7,309.8 26.7,309.8 27.7,309.79 28.7,309.79 29.7,309.79 30.7,309.79 31.7,309.79 32.7,309.79 33.7,309.79 34.7,309.79 35.7,309.79 36.7,309.79 37.7,309.79 38.7,309.79 39.7,309.79 40.7,309.79 41.7,309.79 42.7,309.79 43.7,309.79 44.7,309.79 45.7,309.79 46.7,309.79 47.7,309.79 48.7,309.79 49.7,309.79 50.7,309.79 51.7,309.79 52.7,309.79 53.7,309.79 54.7,309.79 55.7,309.79 56.7,309.79 57.7,309.79 58.7,309.79 59.7,309.79 60.7,309.79 61.7,309.79 62.7,309.79 63.7,309.79 64.7,309.79 65.7,309.79 66.7,309.79 67.7,309.79 68.7,309.79 69.7,309.79 70.7,309.79 71.7,309.79 72.7,309.79 73.7,309.79 74.7,309.79 75.7,309.79 76.7,309.79 77.7,309.79 78.7,309.79 79.7,309.79 80.7,309.79 81.7,309.79 82.7,309.78 83.7,309.78 84.7,309.78 85.7,309.78 86.7,309.78 87.7,309.78 88.7,309.78 89.7,309.78 90.7,309.78 91.7,309.78 92.7,309.78 93.7,309.78 94.7,309.78 95.7,309.78 96.7,309.78 97.7,309.78 98.7,309.78 99.7,309.77 100.7,309.77 101.7,309.77 102.7,309.77 103.7,309.77 104.7,309.77 105.7,309.77 106.7,309.77 107.7,309.77 108.7,309.76 109.7,309.76 110.7,309.76 111.7,309.76 112.7,309.76 113.7,309.75 114.7,309.75 115.7,309.75 116.7,309.75 117.7,309.75 118.7,309.74 119.7,309.74 120.7,309.74 121.7,309.73 122.7,309.73 123.7,309.72 124.7,309.72 125.7,309.71 126.7,309.71 127.7,309.7 128.7,309.7 129.7,309.69 130.7,309.68 131.7,309.66 132.7,309.65 133.7,309.63 134.7,309.6 135.7,309.56 136.7,309.5 137.7,309.41 138.7,309.29 139.7,309.11 140.7,308.86 141.7,308.52 142.7,308.06 143.7,307.46 144.7,306.7 145.7,305.77 146.7,304.66 147.7,303.38 148.7,301.97 149.7,300.47 150.7,298.95 151.7,297.49 152.7,296.17 153.7,295.1 154.7,294.36 155.7,294.02 156.7,294.11 157.7,294.61 158.7,295.5 159.7,296.68 160.7,298.06 161.7,299.56 162.7,301.08 163.7,302.55 164.7,303.91 165.7,305.12 166.7,306.16 167.7,307.02 168.7,307.72 169.7,308.26 170.7,308.67 171.7,308.97 172.7,309.19 173.7,309.34 174.7,309.45 175.7,309.53 176.7,309.58 177.7,309.61 178.7,309.64 179.7,309.66 180.7,309.67 181.7,309.68 182.7,309.69 183.7,309.7 184.7,309.7 185.7,309.71 186.7,309.72 187.7,309.72 188.7,309.73 189.7,309.73 190.7,309.73 191.7,309.74 192.7,309.74 193.7,309.74 194.7,309.75 195.7,309.75 196.7,309.75 197.7,309.75 198.7,309.76 199.7,309.76 200.7,309.76 201.7,309.76 202.7,309.76 203.7,309.76 204.7,309.77 205.7,309.77 206.7,309.77 207.7,309.77 208.7,309.77 209.7,309.77 210.7,309.77 211.7,309.77 212.7,309.77 213.7,309.78 214.7,309.78 215.7,309.78 216.7,309.78 217.7,309.78 218.7,309.78 219.7,309.78 220.7,309.78 221.7,309.78 222.7,309.78" fill="none" stroke="#777777" stroke-width="1.3" stroke-linejoin="round" stroke-linecap="round" />
<polyline points="20.7,309.8 21.7,309.8 22.7,309.8 23.7,309.8 24.7,309.8 25.7,309.8 26.7,309.8 27.7,309.8 28.7,309.8 29.7,309.8 30.7,309.8 31.7,309.8 32.7,309.8 33.7,309.8 34.7,309.8 35.7,309.79 36.7,309.79 37.7,309.79 38.7,309.79 39.7,309.79 40.7,309.79 41.7,309.79 42.7,309.79 43.7,309.79 44.7,309.79 45.7,309.79 46.7,309.79 47.7,309.79 48.7,309.79 49.7,309.79 50.7,309.79 51.7,309.79 52.7,309.79 53.7,309.79 54.7,309.79 55.7,309.79 56.7,309.79 57.7,309.79 58.7,309.79 59.7,309.79 60.7,309.79 61.7,309.79 62.7,309.79 63.7,309.79 64.7,309.79 65.7,309.79 66.7,309.79 67.7,309.79 68.7,309.79 69.7,309.79 70.7,309.79 71.7,309.79 72.7,309.79 73.7,309.79 74.7,309.79 75.7,309.79 76.7,309.79 77.7,309.79 78.7,309.79 79.7,309.79 80.7,309.79 81.7,309.79 82.7,309.79 83.7,309.79 84.7,309.79 85.7,309.79 86.7,309.79 87.7,309.79 88.7,309.79 89.7,309.79 90.7,309.79 91.7,309.79 92.7,309.79 93.7,309.79 94.7,309.79 95.7,309.79 96.7,309.78 97.7,309.78 98.7,309.78 99.7,309.78 100.7,309.78 101.7,309.78 102.7,309.78 103.7,309.78 104.7,309.78 105.7,309.78 106.7,309.78 107.7,309.78 108.7,309.78 109.7,309.78 110.7,309.78 111.7,309.78 112.7,309.78 113.7,309.78 114.7,309.78 115.7,309.77 116.7,309.77 117.7,309.77 118.7,309.77 119.7,309.77 120.7,309.77 121.7,309.77 122.7,309.77 123.7,309.77 124.7,309.77 125.7,309.76 126.7,309.76 127.7,309.76 128.7,309.76 129.7,309.76 130.7,309.76 131.7,309.75 132.7,309.75 133.7,309.75 134.7,309.75 135.7,309.75 136.7,309.74 137.7,309.74 138.7,309.74 139.7,309.73 140.7,309.73 141.7,309.73 142.7,309.72 143.7,309.72 144.7,309.71 145.7,309.71 146.7,309.7 147.7,309.7 148.7,309.69 149.7,309.68 150.7,309.67 151.7,309.65 152.7,309.63 153.7,309.61 154.7,309.57 155.7,309.52 156.7,309.46 157.7,309.36 158.7,309.24 159.7,309.07 160.7,308.85 161.7,308.56 162.7,308.2 163.7,307.74 164.7,307.17 165.7,306.5 166.7,305.7 167.7,304.8 168.7,303.79 169.7,302.7 170.7,301.55 171.7,300.38 172.7,299.24 173.7,298.17 174.7,297.22 175.7,296.46 176.7,295.92 177.7,295.64 178.7,295.64 179.7,295.92 180.7,296.46 181.7,297.22 182.7,298.17 183.7,299.24 184.7,300.38 185.7,301.55 186.7,302.7 187.7,303.79 188.7,304.8 189.7,305.7 190.7,306.5 191.7,307.17 192.7,307.74 193.7,308.2 194.7,308.56 195.7,308.85 196.7,309.07 197.7,309.24 198.7,309.36 199.7,309.46 200.7,309.52 201.7,309.57 202.7,309.61 203.7,309.63 204.7,309.65 205.7,309.67 206.7,309.68 207.7,309.69 208.7,309.7 209.7,309.7 210.7,309.71 211.7,309.71 212.7,309.72 213.7,309.72 214.7,309.73 215.7,309.73 216.7,309.73 217.7,309.74 218.7,309.74 219.7,309.74 220.7,309.75 221.7,309.75 222.7,309.75" fill="none" stroke="#f5862a" stroke-width="1.3" stroke-linejoin="round" stroke-linecap="round" />
<polyline points="20.7,309.7 21.7,309.69 22.7,309.69 23.7,309.68 24.7,309.68 25.7,309.67 26.7,309.66 27.7,309.65 28.7,309.64 29.7,309.63 30.7,309.62 31.7,309.61 32.7,309.59 33.7,309.57 34.7,309.54 35.7,309.5 36.7,309.45 37.7,309.38 38.7,309.29 39.7,309.16 40.7,308.98 41.7,308.74 42.7,308.42 43.7,308 44.7,307.46 45.7,306.77 46.7,305.92 47.7,304.9 48.7,303.68 49.7,302.26 50.7,300.67 51.7,298.92 52.7,297.05 53.7,295.12 54.7,293.19 55.7,291.34 56.7,289.65 57.7,288.22 58.7,287.12 59.7,286.44 60.7,286.2 61.7,286.44 62.7,287.12 63.7,288.22 64.7,289.65 65.7,291.34 66.7,293.19 67.7,295.12 68.7,297.05 69.7,298.92 70.7,300.67 71.7,302.26 72.7,303.68 73.7,304.9 74.7,305.92 75.7,306.77 76.7,307.46 77.7,308 78.7,308.42 79.7,308.74 80.7,308.98 81.7,309.16 82.7,309.29 83.7,309.38 84.7,309.45 85.7,309.5 86.7,309.54 87.7,309.57 88.7,309.59 89.7,309.61 90.7,309.62 91.7,309.63 92.7,309.64 93.7,309.65 94.7,309.66 95.7,309.67 96.7,309.68 97.7,309.68 98.7,309.69 99.7,309.69 100.7,309.7 101.7,309.7 102.7,309.71 103.7,309.71 104.7,309.72 105.7,309.72 106.7,309.72 107.7,309.73 108.7,309.73 109.7,309.73 110.7,309.73 111.7,309.74 112.7,309.74 113.7,309.74 114.7,309.74 115.7,309.74 116.7,309.75 117.7,309.75 118.7,309.75 119.7,309.75 120.7,309.75 121.7,309.76 122.7,309.76 123.7,309.76 124.7,309.76 125.7,309.76 126.7,309.76 127.7,309.76 128.7,309.76 129.7,309.76 130.7,309.77 131.7,309.77 132.7,309.77 133.7,309.77 134.7,309.77 135.7,309.77 136.7,309.77 137.7,309.77 138.7,309.77 139.7,309.77 140.7,309.77 141.7,309.77 142.7,309.77 143.7,309.78 144.7,309.78 145.7,309.78 146.7,309.78 147.7,309.78 148.7,309.78 149.7,309.78 150.7,309.78 151.7,309.78 152.7,309.78 153.7,309.78 154.7,309.78 155.7,309.78 156.7,309.78 157.7,309.78 158.7,309.78 159.7,309.78 160.7,309.78 161.7,309.78 162.7,309.78 163.7,309.78 164.7,309.78 165.7,309.78 166.7,309.78 167.7,309.79 168.7,309.79 169.7,309.79 170.7,309.79 171.7,309.79 172.7,309.79 173.7,309.79 174.7,309.79 175.7,309.79 176.7,309.79 177.7,309.79 178.7,309.79 179.7,309.79 180.7,309.79 181.7,309.79 182.7,309.79 183.7,309.79 184.7,309.79 185.7,309.79 186.7,309.79 187.7,309.79 188.7,309.79 189.7,309.79 190.7,309.79 191.7,309.79 192.7,309.79 193.7,309.79 194.7,309.79 195.7,309.79 196.7,309.79 197.7,309.79 198.7,309.79 199.7,309.79 200.7,309.79 201.7,309.79 202.7,309.79 203.7,309.79 204.7,309.79 205.7,309.79 206.7,309.79 207.7,309.79 208.7,309.79 209.7,309.79 210.7,309.79 211.7,309.79 212.7,309.79 213.7,309.79 214.7,309.79 215.7,309.79 216.7,309.79 217.7,309.79 218.7,309.79 219.7,309.79 220.7,309.79 221.7,309.79 222.7,309.79" fill="none" stroke="#1fc08a" stroke-width="1.3" stroke-linejoin="round" stroke-linecap="round" />
<polyline points="20.7,309.76 21.7,309.76 22.7,309.76 23.7,309.76 24.7,309.76 25.7,309.75 26.7,309.75 27.7,309.75 28.7,309.75 29.7,309.75 30.7,309.74 31.7,309.74 32.7,309.74 33.7,309.74 34.7,309.74 35.7,309.73 36.7,309.73 37.7,309.73 38.7,309.72 39.7,309.72 40.7,309.72 41.7,309.71 42.7,309.71 43.7,309.7 44.7,309.7 45.7,309.69 46.7,309.69 47.7,309.68 48.7,309.67 49.7,309.67 50.7,309.66 51.7,309.65 52.7,309.64 53.7,309.63 54.7,309.61 55.7,309.59 56.7,309.57 57.7,309.53 58.7,309.49 59.7,309.43 60.7,309.35 61.7,309.23 62.7,309.08 63.7,308.86 64.7,308.58 65.7,308.21 66.7,307.73 67.7,307.12 68.7,306.37 69.7,305.45 70.7,304.37 71.7,303.1 72.7,301.67 73.7,300.1 74.7,298.42 75.7,296.66 76.7,294.91 77.7,293.22 78.7,291.67 79.7,290.35 80.7,289.32 81.7,288.66 82.7,288.4 83.7,288.57 84.7,289.16 85.7,290.12 86.7,291.39 87.7,292.9 88.7,294.56 89.7,296.31 90.7,298.07 91.7,299.77 92.7,301.37 93.7,302.83 94.7,304.13 95.7,305.25 96.7,306.2 97.7,306.99 98.7,307.62 99.7,308.12 100.7,308.52 101.7,308.81 102.7,309.04 103.7,309.2 104.7,309.33 105.7,309.42 106.7,309.48 107.7,309.53 108.7,309.56 109.7,309.59 110.7,309.61 111.7,309.62 112.7,309.64 113.7,309.65 114.7,309.66 115.7,309.67 116.7,309.67 117.7,309.68 118.7,309.69 119.7,309.69 120.7,309.7 121.7,309.7 122.7,309.71 123.7,309.71 124.7,309.72 125.7,309.72 126.7,309.72 127.7,309.73 128.7,309.73 129.7,309.73 130.7,309.73 131.7,309.74 132.7,309.74 133.7,309.74 134.7,309.74 135.7,309.75 136.7,309.75 137.7,309.75 138.7,309.75 139.7,309.75 140.7,309.75 141.7,309.76 142.7,309.76 143.7,309.76 144.7,309.76 145.7,309.76 146.7,309.76 147.7,309.76 148.7,309.76 149.7,309.77 150.7,309.77 151.7,309.77 152.7,309.77 153.7,309.77 154.7,309.77 155.7,309.77 156.7,309.77 157.7,309.77 158.7,309.77 159.7,309.77 160.7,309.77 161.7,309.78 162.7,309.78 163.7,309.78 164.7,309.78 165.7,309.78 166.7,309.78 167.7,309.78 168.7,309.78 169.7,309.78 170.7,309.78 171.7,309.78 172.7,309.78 173.7,309.78 174.7,309.78 175.7,309.78 176.7,309.78 177.7,309.78 178.7,309.78 179.7,309.78 180.7,309.78 181.7,309.78 182.7,309.78 183.7,309.78 184.7,309.79 185.7,309.79 186.7,309.79 187.7,309.79 188.7,309.79 189.7,309.79 190.7,309.79 191.7,309.79 192.7,309.79 193.7,309.79 194.7,309.79 195.7,309.79 196.7,309.79 197.7,309.79 198.7,309.79 199.7,309.79 200.7,309.79 201.7,309.79 202.7,309.79 203.7,309.79 204.7,309.79 205.7,309.79 206.7,309.79 207.7,309.79 208.7,309.79 209.7,309.79 210.7,309.79 211.7,309.79 212.7,309.79 213.7,309.79 214.7,309.79 215.7,309.79 216.7,309.79 217.7,309.79 218.7,309.79 219.7,309.79 220.7,309.79 221.7,309.79 222.7,309.79" fill="none" stroke="#2e92ea" stroke-width="1.3" stroke-linejoin="round" stroke-linecap="round" />
<polyline points="20.7,309.8 21.7,309.8 22.7,309.8 23.7,309.8 24.7,309.8 25.7,309.8 26.7,309.8 27.7,309.8 28.7,309.79 29.7,309.79 30.7,309.79 31.7,309.79 32.7,309.79 33.7,309.79 34.7,309.78 35.7,309.78 36.7,309.78 37.7,309.78 38.7,309.77 39.7,309.77 40.7,309.77 41.7,309.76 42.7,309.76 43.7,309.76 44.7,309.75 45.7,309.75 46.7,309.74 47.7,309.74 48.7,309.73 49.7,309.73 50.7,309.72 51.7,309.72 52.7,309.71 53.7,309.71 54.7,309.7 55.7,309.69 56.7,309.68 57.7,309.65 58.7,309.61 59.7,309.57 60.7,309.52 61.7,309.46 62.7,309.39 63.7,309.32 64.7,309.24 65.7,309.16 66.7,309.08 67.7,308.99 68.7,308.9 69.7,308.81 70.7,308.71 71.7,308.62 72.7,308.52 73.7,308.42 74.7,308.33 75.7,308.23 76.7,308.11 77.7,307.98 78.7,307.83 79.7,307.67 80.7,307.5 81.7,307.33 82.7,307.14 83.7,306.96 84.7,306.77 85.7,306.59 86.7,306.41 87.7,306.24 88.7,306.08 89.7,305.93 90.7,305.79 91.7,305.67 92.7,305.56 93.7,305.48 94.7,305.41 95.7,305.37 96.7,305.33 97.7,305.29 98.7,305.25 99.7,305.21 100.7,305.18 101.7,305.14 102.7,305.11 103.7,305.08 104.7,305.05 105.7,305.02 106.7,304.99 107.7,304.96 108.7,304.94 109.7,304.92 110.7,304.9 111.7,304.88 112.7,304.86 113.7,304.84 114.7,304.83 115.7,304.82 116.7,304.81 117.7,304.81 118.7,304.8 119.7,304.8 120.7,304.8 121.7,304.8 122.7,304.8 123.7,304.8 124.7,304.8 125.7,304.8 126.7,304.8 127.7,304.8 128.7,304.8 129.7,304.8 130.7,304.8 131.7,304.8 132.7,304.8 133.7,304.8 134.7,304.8 135.7,304.8 136.7,304.8 137.7,304.8 138.7,304.8 139.7,304.8 140.7,304.8 141.7,304.82 142.7,304.85 143.7,304.88 144.7,304.93 145.7,304.99 146.7,305.05 147.7,305.13 148.7,305.2 149.7,305.29 150.7,305.37 151.7,305.46 152.7,305.56 153.7,305.65 154.7,305.74 155.7,305.84 156.7,305.93 157.7,306.01 158.7,306.1 159.7,306.18 160.7,306.25 161.7,306.33 162.7,306.41 163.7,306.49 164.7,306.58 165.7,306.66 166.7,306.75 167.7,306.83 168.7,306.92 169.7,307 170.7,307.08 171.7,307.16 172.7,307.24 173.7,307.31 174.7,307.38 175.7,307.45 176.7,307.52 177.7,307.59 178.7,307.66 179.7,307.73 180.7,307.8 181.7,307.87 182.7,307.94 183.7,308.01 184.7,308.08 185.7,308.14 186.7,308.21 187.7,308.28 188.7,308.34 189.7,308.4 190.7,308.45 191.7,308.51 192.7,308.56 193.7,308.6 194.7,308.65 195.7,308.69 196.7,308.72 197.7,308.75 198.7,308.78 199.7,308.8 200.7,308.81 201.7,308.82 202.7,308.84 203.7,308.85 204.7,308.87 205.7,308.88 206.7,308.89 207.7,308.9 208.7,308.91 209.7,308.93 210.7,308.94 211.7,308.94 212.7,308.95 213.7,308.96 214.7,308.97 215.7,308.98 216.7,308.98 217.7,308.99 218.7,308.99 219.7,308.99 220.7,309 221.7,309 222.7,309" fill="none" stroke="#c37ff0" stroke-width="1.3" stroke-linejoin="round" stroke-linecap="round" />
<line x1="63.9" y1="296.4" x2="152" y2="296.4" stroke="#6a6a6a" stroke-width="0.75" />
<path d="M60.9,296.4 l3.4,-1.3 v2.6 z" fill="#111"/>
<path d="M155,296.4 l-3.4,-1.3 v2.6 z" fill="#111"/>
<line x1="62.4" y1="322" x2="62.4" y2="351" stroke="#d4d4d4" stroke-width="0.7" />
<line x1="156" y1="327.8" x2="156" y2="351" stroke="#d4d4d4" stroke-width="0.7" />
<polyline points="20.7,350.86 21.7,350.86 22.7,350.85 23.7,350.84 24.7,350.83 25.7,350.82 26.7,350.81 27.7,350.79 28.7,350.78 29.7,350.76 30.7,350.75 31.7,350.73 32.7,350.71 33.7,350.68 34.7,350.66 35.7,350.62 36.7,350.58 37.7,350.53 38.7,350.47 39.7,350.39 40.7,350.28 41.7,350.13 42.7,349.93 43.7,349.66 44.7,349.32 45.7,348.87 46.7,348.29 47.7,347.56 48.7,346.67 49.7,345.59 50.7,344.32 51.7,342.86 52.7,341.21 53.7,339.4 54.7,337.48 55.7,335.49 56.7,333.51 57.7,331.61 58.7,329.88 59.7,328.41 60.7,327.28 61.7,326.54 62.7,326.24 63.7,326.36 64.7,326.86 65.7,327.69 66.7,328.76 67.7,329.98 68.7,331.26 69.7,332.49 70.7,333.59 71.7,334.48 72.7,335.12 73.7,335.45 74.7,335.46 75.7,335.12 76.7,334.49 77.7,333.62 78.7,332.58 79.7,331.46 80.7,330.35 81.7,329.37 82.7,328.59 83.7,328.11 84.7,327.97 85.7,328.2 86.7,328.79 87.7,329.71 88.7,330.9 89.7,332.3 90.7,333.84 91.7,335.44 92.7,337.04 93.7,338.58 94.7,340.02 95.7,341.31 96.7,342.39 97.7,343.28 98.7,343.97 99.7,344.49 100.7,344.87 101.7,345.13 102.7,345.31 103.7,345.44 104.7,345.54 105.7,345.63 106.7,345.69 107.7,345.71 108.7,345.72 109.7,345.71 110.7,345.69 111.7,345.67 112.7,345.65 113.7,345.62 114.7,345.6 115.7,345.58 116.7,345.57 117.7,345.56 118.7,345.55 119.7,345.55 120.7,345.55 121.7,345.56 122.7,345.56 123.7,345.56 124.7,345.56 125.7,345.56 126.7,345.56 127.7,345.56 128.7,345.55 129.7,345.55 130.7,345.54 131.7,345.53 132.7,345.52 133.7,345.5 134.7,345.47 135.7,345.43 136.7,345.38 137.7,345.29 138.7,345.17 139.7,344.99 140.7,344.75 141.7,344.44 142.7,344.04 143.7,343.52 144.7,342.86 145.7,342.06 146.7,341.11 147.7,340.01 148.7,338.81 149.7,337.54 150.7,336.26 151.7,335.08 152.7,334.05 153.7,333.26 154.7,332.75 155.7,332.58 156.7,332.76 157.7,333.26 158.7,334.04 159.7,335.01 160.7,336.09 161.7,337.18 162.7,338.19 163.7,339.06 164.7,339.72 165.7,340.16 166.7,340.34 167.7,340.33 168.7,340.15 169.7,339.83 170.7,339.39 171.7,338.88 172.7,338.34 173.7,337.83 174.7,337.38 175.7,337.04 176.7,336.84 177.7,336.8 178.7,336.96 179.7,337.35 180.7,337.97 181.7,338.77 182.7,339.71 183.7,340.75 184.7,341.84 185.7,342.94 186.7,344 187.7,345.01 188.7,345.92 189.7,346.74 190.7,347.45 191.7,348.05 192.7,348.55 193.7,348.96 194.7,349.29 195.7,349.55 196.7,349.75 197.7,349.9 198.7,350.02 199.7,350.1 200.7,350.17 201.7,350.23 202.7,350.27 203.7,350.3 204.7,350.33 205.7,350.35 206.7,350.37 207.7,350.39 208.7,350.4 209.7,350.42 210.7,350.43 211.7,350.44 212.7,350.46 213.7,350.47 214.7,350.48 215.7,350.48 216.7,350.49 217.7,350.5 218.7,350.51 219.7,350.51 220.7,350.52 221.7,350.52 222.7,350.52" fill="none" stroke="#f01818" stroke-width="1.5" stroke-linejoin="round" stroke-linecap="round" />
<polyline points="20.7,351 21.7,351 22.7,351 23.7,351 24.7,351 25.7,351 26.7,351 27.7,351 28.7,350.99 29.7,350.99 30.7,350.99 31.7,350.99 32.7,350.99 33.7,350.99 34.7,350.98 35.7,350.98 36.7,350.98 37.7,350.98 38.7,350.97 39.7,350.97 40.7,350.97 41.7,350.96 42.7,350.96 43.7,350.96 44.7,350.95 45.7,350.95 46.7,350.94 47.7,350.94 48.7,350.93 49.7,350.93 50.7,350.92 51.7,350.92 52.7,350.91 53.7,350.91 54.7,350.9 55.7,350.89 56.7,350.88 57.7,350.85 58.7,350.81 59.7,350.77 60.7,350.72 61.7,350.66 62.7,350.6 63.7,350.53 64.7,350.45 65.7,350.37 66.7,350.28 67.7,350.2 68.7,350.11 69.7,350.01 70.7,349.92 71.7,349.82 72.7,349.72 73.7,349.63 74.7,349.53 75.7,349.43 76.7,349.3 77.7,349.16 78.7,349 79.7,348.83 80.7,348.65 81.7,348.46 82.7,348.26 83.7,348.06 84.7,347.86 85.7,347.66 86.7,347.47 87.7,347.28 88.7,347.11 89.7,346.94 90.7,346.79 91.7,346.67 92.7,346.56 93.7,346.47 94.7,346.41 95.7,346.37 96.7,346.34 97.7,346.31 98.7,346.27 99.7,346.24 100.7,346.21 101.7,346.18 102.7,346.15 103.7,346.13 104.7,346.1 105.7,346.08 106.7,346.05 107.7,346.03 108.7,346.01 109.7,345.99 110.7,345.98 111.7,345.96 112.7,345.95 113.7,345.94 114.7,345.93 115.7,345.92 116.7,345.91 117.7,345.9 118.7,345.9 119.7,345.9 120.7,345.9 121.7,345.9 122.7,345.9 123.7,345.9 124.7,345.91 125.7,345.91 126.7,345.91 127.7,345.92 128.7,345.92 129.7,345.93 130.7,345.93 131.7,345.94 132.7,345.94 133.7,345.95 134.7,345.96 135.7,345.96 136.7,345.97 137.7,345.98 138.7,345.99 139.7,346 140.7,346.01 141.7,346.03 142.7,346.06 143.7,346.11 144.7,346.16 145.7,346.22 146.7,346.28 147.7,346.35 148.7,346.43 149.7,346.51 150.7,346.6 151.7,346.68 152.7,346.77 153.7,346.86 154.7,346.95 155.7,347.04 156.7,347.13 157.7,347.22 158.7,347.3 159.7,347.38 160.7,347.45 161.7,347.53 162.7,347.61 163.7,347.69 164.7,347.78 165.7,347.86 166.7,347.95 167.7,348.03 168.7,348.12 169.7,348.2 170.7,348.28 171.7,348.36 172.7,348.44 173.7,348.51 174.7,348.58 175.7,348.65 176.7,348.71 177.7,348.78 178.7,348.85 179.7,348.92 180.7,348.99 181.7,349.05 182.7,349.12 183.7,349.19 184.7,349.25 185.7,349.31 186.7,349.38 187.7,349.44 188.7,349.5 189.7,349.56 190.7,349.61 191.7,349.67 192.7,349.72 193.7,349.76 194.7,349.81 195.7,349.85 196.7,349.89 197.7,349.93 198.7,349.96 199.7,349.99 200.7,350.02 201.7,350.04 202.7,350.07 203.7,350.1 204.7,350.12 205.7,350.15 206.7,350.17 207.7,350.19 208.7,350.22 209.7,350.24 210.7,350.26 211.7,350.28 212.7,350.3 213.7,350.32 214.7,350.33 215.7,350.35 216.7,350.36 217.7,350.37 218.7,350.38 219.7,350.39 220.7,350.39 221.7,350.4 222.7,350.4" fill="none" stroke="#c37ff0" stroke-width="1.3" stroke-linejoin="round" stroke-linecap="round" />
<polyline points="20.7,351 21.7,351 22.7,351 23.7,351 24.7,351 25.7,351 26.7,351 27.7,351 28.7,351 29.7,351 30.7,351 31.7,351 32.7,351 33.7,351 34.7,350.99 35.7,350.99 36.7,350.99 37.7,350.99 38.7,350.99 39.7,350.99 40.7,350.99 41.7,350.99 42.7,350.99 43.7,350.99 44.7,350.99 45.7,350.99 46.7,350.99 47.7,350.99 48.7,350.99 49.7,350.99 50.7,350.99 51.7,350.99 52.7,350.99 53.7,350.99 54.7,350.99 55.7,350.99 56.7,350.99 57.7,350.99 58.7,350.99 59.7,350.99 60.7,350.99 61.7,350.99 62.7,350.99 63.7,350.99 64.7,350.99 65.7,350.99 66.7,350.99 67.7,350.99 68.7,350.99 69.7,350.99 70.7,350.99 71.7,350.99 72.7,350.99 73.7,350.99 74.7,350.99 75.7,350.99 76.7,350.99 77.7,350.99 78.7,350.99 79.7,350.99 80.7,350.99 81.7,350.99 82.7,350.99 83.7,350.99 84.7,350.99 85.7,350.99 86.7,350.98 87.7,350.98 88.7,350.98 89.7,350.98 90.7,350.98 91.7,350.98 92.7,350.98 93.7,350.98 94.7,350.98 95.7,350.98 96.7,350.98 97.7,350.98 98.7,350.98 99.7,350.98 100.7,350.98 101.7,350.98 102.7,350.97 103.7,350.97 104.7,350.97 105.7,350.97 106.7,350.97 107.7,350.97 108.7,350.97 109.7,350.97 110.7,350.96 111.7,350.96 112.7,350.96 113.7,350.96 114.7,350.96 115.7,350.96 116.7,350.95 117.7,350.95 118.7,350.95 119.7,350.95 120.7,350.94 121.7,350.94 122.7,350.94 123.7,350.93 124.7,350.93 125.7,350.92 126.7,350.92 127.7,350.91 128.7,350.91 129.7,350.9 130.7,350.89 131.7,350.88 132.7,350.86 133.7,350.84 134.7,350.81 135.7,350.77 136.7,350.71 137.7,350.63 138.7,350.51 139.7,350.33 140.7,350.09 141.7,349.75 142.7,349.31 143.7,348.74 144.7,348.02 145.7,347.15 146.7,346.12 147.7,344.95 148.7,343.67 149.7,342.33 150.7,340.99 151.7,339.72 152.7,338.61 153.7,337.75 154.7,337.19 155.7,337 156.7,337.19 157.7,337.75 158.7,338.61 159.7,339.72 160.7,340.99 161.7,342.33 162.7,343.67 163.7,344.95 164.7,346.12 165.7,347.15 166.7,348.02 167.7,348.74 168.7,349.31 169.7,349.75 170.7,350.09 171.7,350.33 172.7,350.51 173.7,350.63 174.7,350.71 175.7,350.77 176.7,350.81 177.7,350.84 178.7,350.86 179.7,350.88 180.7,350.89 181.7,350.9 182.7,350.91 183.7,350.91 184.7,350.92 185.7,350.92 186.7,350.93 187.7,350.93 188.7,350.94 189.7,350.94 190.7,350.94 191.7,350.95 192.7,350.95 193.7,350.95 194.7,350.95 195.7,350.96 196.7,350.96 197.7,350.96 198.7,350.96 199.7,350.96 200.7,350.96 201.7,350.97 202.7,350.97 203.7,350.97 204.7,350.97 205.7,350.97 206.7,350.97 207.7,350.97 208.7,350.97 209.7,350.98 210.7,350.98 211.7,350.98 212.7,350.98 213.7,350.98 214.7,350.98 215.7,350.98 216.7,350.98 217.7,350.98 218.7,350.98 219.7,350.98 220.7,350.98 221.7,350.98 222.7,350.98" fill="none" stroke="#777777" stroke-width="1.3" stroke-linejoin="round" stroke-linecap="round" />
<polyline points="20.7,351 21.7,351 22.7,351 23.7,351 24.7,351 25.7,351 26.7,351 27.7,351 28.7,351 29.7,351 30.7,351 31.7,351 32.7,351 33.7,351 34.7,351 35.7,351 36.7,351 37.7,351 38.7,351 39.7,351 40.7,351 41.7,350.99 42.7,350.99 43.7,350.99 44.7,350.99 45.7,350.99 46.7,350.99 47.7,350.99 48.7,350.99 49.7,350.99 50.7,350.99 51.7,350.99 52.7,350.99 53.7,350.99 54.7,350.99 55.7,350.99 56.7,350.99 57.7,350.99 58.7,350.99 59.7,350.99 60.7,350.99 61.7,350.99 62.7,350.99 63.7,350.99 64.7,350.99 65.7,350.99 66.7,350.99 67.7,350.99 68.7,350.99 69.7,350.99 70.7,350.99 71.7,350.99 72.7,350.99 73.7,350.99 74.7,350.99 75.7,350.99 76.7,350.99 77.7,350.99 78.7,350.99 79.7,350.99 80.7,350.99 81.7,350.99 82.7,350.99 83.7,350.99 84.7,350.99 85.7,350.99 86.7,350.99 87.7,350.99 88.7,350.99 89.7,350.99 90.7,350.99 91.7,350.99 92.7,350.99 93.7,350.99 94.7,350.99 95.7,350.99 96.7,350.99 97.7,350.99 98.7,350.99 99.7,350.98 100.7,350.98 101.7,350.98 102.7,350.98 103.7,350.98 104.7,350.98 105.7,350.98 106.7,350.98 107.7,350.98 108.7,350.98 109.7,350.98 110.7,350.98 111.7,350.98 112.7,350.98 113.7,350.98 114.7,350.98 115.7,350.98 116.7,350.98 117.7,350.97 118.7,350.97 119.7,350.97 120.7,350.97 121.7,350.97 122.7,350.97 123.7,350.97 124.7,350.97 125.7,350.97 126.7,350.97 127.7,350.96 128.7,350.96 129.7,350.96 130.7,350.96 131.7,350.96 132.7,350.96 133.7,350.95 134.7,350.95 135.7,350.95 136.7,350.95 137.7,350.94 138.7,350.94 139.7,350.94 140.7,350.94 141.7,350.93 142.7,350.93 143.7,350.92 144.7,350.92 145.7,350.92 146.7,350.91 147.7,350.9 148.7,350.9 149.7,350.89 150.7,350.88 151.7,350.86 152.7,350.84 153.7,350.82 154.7,350.78 155.7,350.73 156.7,350.67 157.7,350.57 158.7,350.45 159.7,350.29 160.7,350.07 161.7,349.79 162.7,349.43 163.7,348.98 164.7,348.44 165.7,347.79 166.7,347.04 167.7,346.19 168.7,345.25 169.7,344.24 170.7,343.19 171.7,342.13 172.7,341.1 173.7,340.16 174.7,339.35 175.7,338.71 176.7,338.28 177.7,338.11 178.7,338.18 179.7,338.51 180.7,339.07 181.7,339.82 182.7,340.71 183.7,341.71 184.7,342.76 185.7,343.82 186.7,344.85 187.7,345.83 188.7,346.71 189.7,347.51 190.7,348.19 191.7,348.78 192.7,349.26 193.7,349.65 194.7,349.96 195.7,350.2 196.7,350.39 197.7,350.53 198.7,350.63 199.7,350.71 200.7,350.76 201.7,350.8 202.7,350.83 203.7,350.85 204.7,350.87 205.7,350.88 206.7,350.89 207.7,350.9 208.7,350.91 209.7,350.91 210.7,350.92 211.7,350.92 212.7,350.93 213.7,350.93 214.7,350.93 215.7,350.94 216.7,350.94 217.7,350.94 218.7,350.95 219.7,350.95 220.7,350.95 221.7,350.95 222.7,350.96" fill="none" stroke="#f5862a" stroke-width="1.3" stroke-linejoin="round" stroke-linecap="round" />
<polyline points="20.7,350.96 21.7,350.96 22.7,350.96 23.7,350.96 24.7,350.96 25.7,350.96 26.7,350.96 27.7,350.95 28.7,350.95 29.7,350.95 30.7,350.95 31.7,350.95 32.7,350.95 33.7,350.94 34.7,350.94 35.7,350.94 36.7,350.94 37.7,350.93 38.7,350.93 39.7,350.93 40.7,350.93 41.7,350.92 42.7,350.92 43.7,350.91 44.7,350.91 45.7,350.91 46.7,350.9 47.7,350.9 48.7,350.89 49.7,350.88 50.7,350.88 51.7,350.87 52.7,350.86 53.7,350.85 54.7,350.84 55.7,350.83 56.7,350.82 57.7,350.8 58.7,350.77 59.7,350.74 60.7,350.7 61.7,350.64 62.7,350.56 63.7,350.45 64.7,350.29 65.7,350.09 66.7,349.81 67.7,349.45 68.7,348.98 69.7,348.39 70.7,347.65 71.7,346.76 72.7,345.69 73.7,344.46 74.7,343.06 75.7,341.53 76.7,339.88 77.7,338.17 78.7,336.46 79.7,334.81 80.7,333.3 81.7,332 82.7,331 83.7,330.35 84.7,330.1 85.7,330.27 86.7,330.84 87.7,331.78 88.7,333.02 89.7,334.49 90.7,336.12 91.7,337.83 92.7,339.54 93.7,341.21 94.7,342.77 95.7,344.19 96.7,345.46 97.7,346.56 98.7,347.48 99.7,348.25 100.7,348.87 101.7,349.36 102.7,349.75 103.7,350.04 104.7,350.26 105.7,350.42 106.7,350.54 107.7,350.62 108.7,350.69 109.7,350.73 110.7,350.77 111.7,350.79 112.7,350.81 113.7,350.83 114.7,350.84 115.7,350.85 116.7,350.86 117.7,350.87 118.7,350.88 119.7,350.88 120.7,350.89 121.7,350.89 122.7,350.9 123.7,350.9 124.7,350.91 125.7,350.91 126.7,350.92 127.7,350.92 128.7,350.92 129.7,350.93 130.7,350.93 131.7,350.93 132.7,350.94 133.7,350.94 134.7,350.94 135.7,350.94 136.7,350.95 137.7,350.95 138.7,350.95 139.7,350.95 140.7,350.95 141.7,350.95 142.7,350.96 143.7,350.96 144.7,350.96 145.7,350.96 146.7,350.96 147.7,350.96 148.7,350.96 149.7,350.96 150.7,350.97 151.7,350.97 152.7,350.97 153.7,350.97 154.7,350.97 155.7,350.97 156.7,350.97 157.7,350.97 158.7,350.97 159.7,350.97 160.7,350.97 161.7,350.97 162.7,350.98 163.7,350.98 164.7,350.98 165.7,350.98 166.7,350.98 167.7,350.98 168.7,350.98 169.7,350.98 170.7,350.98 171.7,350.98 172.7,350.98 173.7,350.98 174.7,350.98 175.7,350.98 176.7,350.98 177.7,350.98 178.7,350.98 179.7,350.98 180.7,350.98 181.7,350.98 182.7,350.98 183.7,350.98 184.7,350.98 185.7,350.99 186.7,350.99 187.7,350.99 188.7,350.99 189.7,350.99 190.7,350.99 191.7,350.99 192.7,350.99 193.7,350.99 194.7,350.99 195.7,350.99 196.7,350.99 197.7,350.99 198.7,350.99 199.7,350.99 200.7,350.99 201.7,350.99 202.7,350.99 203.7,350.99 204.7,350.99 205.7,350.99 206.7,350.99 207.7,350.99 208.7,350.99 209.7,350.99 210.7,350.99 211.7,350.99 212.7,350.99 213.7,350.99 214.7,350.99 215.7,350.99 216.7,350.99 217.7,350.99 218.7,350.99 219.7,350.99 220.7,350.99 221.7,350.99 222.7,350.99" fill="none" stroke="#2e92ea" stroke-width="1.3" stroke-linejoin="round" stroke-linecap="round" />
<polyline points="20.7,350.91 21.7,350.9 22.7,350.9 23.7,350.89 24.7,350.89 25.7,350.88 26.7,350.87 27.7,350.87 28.7,350.86 29.7,350.85 30.7,350.84 31.7,350.83 32.7,350.82 33.7,350.8 34.7,350.78 35.7,350.76 36.7,350.73 37.7,350.69 38.7,350.64 39.7,350.57 40.7,350.47 41.7,350.34 42.7,350.15 43.7,349.9 44.7,349.57 45.7,349.13 46.7,348.57 47.7,347.86 48.7,346.98 49.7,345.92 50.7,344.66 51.7,343.22 52.7,341.59 53.7,339.8 54.7,337.9 55.7,335.94 56.7,333.98 57.7,332.12 58.7,330.44 59.7,329.02 60.7,327.95 61.7,327.29 62.7,327.1 63.7,327.39 64.7,328.13 65.7,329.28 66.7,330.75 67.7,332.48 68.7,334.37 69.7,336.33 70.7,338.29 71.7,340.17 72.7,341.93 73.7,343.52 74.7,344.93 75.7,346.15 76.7,347.17 77.7,348.01 78.7,348.69 79.7,349.23 80.7,349.64 81.7,349.96 82.7,350.19 83.7,350.37 84.7,350.49 85.7,350.59 86.7,350.65 87.7,350.7 88.7,350.74 89.7,350.77 90.7,350.79 91.7,350.81 92.7,350.82 93.7,350.83 94.7,350.84 95.7,350.85 96.7,350.86 97.7,350.87 98.7,350.87 99.7,350.88 100.7,350.89 101.7,350.89 102.7,350.9 103.7,350.9 104.7,350.91 105.7,350.91 106.7,350.91 107.7,350.92 108.7,350.92 109.7,350.92 110.7,350.93 111.7,350.93 112.7,350.93 113.7,350.94 114.7,350.94 115.7,350.94 116.7,350.94 117.7,350.94 118.7,350.95 119.7,350.95 120.7,350.95 121.7,350.95 122.7,350.95 123.7,350.95 124.7,350.96 125.7,350.96 126.7,350.96 127.7,350.96 128.7,350.96 129.7,350.96 130.7,350.96 131.7,350.96 132.7,350.97 133.7,350.97 134.7,350.97 135.7,350.97 136.7,350.97 137.7,350.97 138.7,350.97 139.7,350.97 140.7,350.97 141.7,350.97 142.7,350.97 143.7,350.97 144.7,350.97 145.7,350.98 146.7,350.98 147.7,350.98 148.7,350.98 149.7,350.98 150.7,350.98 151.7,350.98 152.7,350.98 153.7,350.98 154.7,350.98 155.7,350.98 156.7,350.98 157.7,350.98 158.7,350.98 159.7,350.98 160.7,350.98 161.7,350.98 162.7,350.98 163.7,350.98 164.7,350.98 165.7,350.98 166.7,350.98 167.7,350.98 168.7,350.98 169.7,350.99 170.7,350.99 171.7,350.99 172.7,350.99 173.7,350.99 174.7,350.99 175.7,350.99 176.7,350.99 177.7,350.99 178.7,350.99 179.7,350.99 180.7,350.99 181.7,350.99 182.7,350.99 183.7,350.99 184.7,350.99 185.7,350.99 186.7,350.99 187.7,350.99 188.7,350.99 189.7,350.99 190.7,350.99 191.7,350.99 192.7,350.99 193.7,350.99 194.7,350.99 195.7,350.99 196.7,350.99 197.7,350.99 198.7,350.99 199.7,350.99 200.7,350.99 201.7,350.99 202.7,350.99 203.7,350.99 204.7,350.99 205.7,350.99 206.7,350.99 207.7,350.99 208.7,350.99 209.7,350.99 210.7,350.99 211.7,350.99 212.7,350.99 213.7,350.99 214.7,350.99 215.7,350.99 216.7,350.99 217.7,350.99 218.7,350.99 219.7,350.99 220.7,350.99 221.7,350.99 222.7,350.99" fill="none" stroke="#1fc08a" stroke-width="1.3" stroke-linejoin="round" stroke-linecap="round" />
<line x1="65.2" y1="334.3" x2="151.9" y2="334.3" stroke="#6a6a6a" stroke-width="0.75" />
<path d="M62.2,334.3 l3.4,-1.3 v2.6 z" fill="#111"/>
<path d="M154.9,334.3 l-3.4,-1.3 v2.6 z" fill="#111"/>
<line x1="61.2" y1="366" x2="61.2" y2="391.7" stroke="#d4d4d4" stroke-width="0.7" />
<line x1="156" y1="369.8" x2="156" y2="391.7" stroke="#d4d4d4" stroke-width="0.7" />
<polyline points="20.7,391.58 21.7,391.57 22.7,391.56 23.7,391.56 24.7,391.55 25.7,391.54 26.7,391.53 27.7,391.51 28.7,391.5 29.7,391.49 30.7,391.47 31.7,391.45 32.7,391.43 33.7,391.4 34.7,391.36 35.7,391.32 36.7,391.26 37.7,391.19 38.7,391.09 39.7,390.95 40.7,390.77 41.7,390.54 42.7,390.23 43.7,389.83 44.7,389.32 45.7,388.69 46.7,387.91 47.7,386.98 48.7,385.89 49.7,384.65 50.7,383.25 51.7,381.73 52.7,380.12 53.7,378.47 54.7,376.84 55.7,375.3 56.7,373.91 57.7,372.76 58.7,371.9 59.7,371.38 60.7,371.22 61.7,371.41 62.7,371.93 63.7,372.69 64.7,373.63 65.7,374.66 66.7,375.7 67.7,376.65 68.7,377.45 69.7,378.05 70.7,378.39 71.7,378.47 72.7,378.29 73.7,377.88 74.7,377.28 75.7,376.55 76.7,375.77 77.7,375.01 78.7,374.36 79.7,373.89 80.7,373.66 81.7,373.7 82.7,374.03 83.7,374.63 84.7,375.48 85.7,376.52 86.7,377.69 87.7,378.95 88.7,380.23 89.7,381.49 90.7,382.68 91.7,383.77 92.7,384.74 93.7,385.57 94.7,386.27 95.7,386.82 96.7,387.23 97.7,387.52 98.7,387.69 99.7,387.79 100.7,387.82 101.7,387.82 102.7,387.79 103.7,387.76 104.7,387.74 105.7,387.73 106.7,387.72 107.7,387.7 108.7,387.68 109.7,387.66 110.7,387.64 111.7,387.61 112.7,387.59 113.7,387.57 114.7,387.55 115.7,387.54 116.7,387.53 117.7,387.52 118.7,387.52 119.7,387.51 120.7,387.52 121.7,387.52 122.7,387.52 123.7,387.52 124.7,387.52 125.7,387.51 126.7,387.51 127.7,387.51 128.7,387.51 129.7,387.5 130.7,387.49 131.7,387.49 132.7,387.47 133.7,387.46 134.7,387.43 135.7,387.4 136.7,387.35 137.7,387.27 138.7,387.17 139.7,387.02 140.7,386.81 141.7,386.54 142.7,386.19 143.7,385.74 144.7,385.17 145.7,384.47 146.7,383.63 147.7,382.68 148.7,381.63 149.7,380.51 150.7,379.39 151.7,378.32 152.7,377.38 153.7,376.63 154.7,376.15 155.7,375.98 156.7,376.14 157.7,376.61 158.7,377.35 159.7,378.26 160.7,379.27 161.7,380.29 162.7,381.24 163.7,382.04 164.7,382.65 165.7,383.04 166.7,383.2 167.7,383.15 168.7,382.93 169.7,382.57 170.7,382.11 171.7,381.6 172.7,381.1 173.7,380.66 174.7,380.32 175.7,380.13 176.7,380.12 177.7,380.29 178.7,380.65 179.7,381.19 180.7,381.86 181.7,382.65 182.7,383.51 183.7,384.4 184.7,385.28 185.7,386.14 186.7,386.94 187.7,387.67 188.7,388.32 189.7,388.88 190.7,389.36 191.7,389.75 192.7,390.07 193.7,390.33 194.7,390.53 195.7,390.69 196.7,390.81 197.7,390.9 198.7,390.97 199.7,391.02 200.7,391.07 201.7,391.1 202.7,391.13 203.7,391.15 204.7,391.17 205.7,391.19 206.7,391.21 207.7,391.22 208.7,391.23 209.7,391.25 210.7,391.26 211.7,391.27 212.7,391.28 213.7,391.29 214.7,391.3 215.7,391.31 216.7,391.31 217.7,391.32 218.7,391.33 219.7,391.33 220.7,391.33 221.7,391.34 222.7,391.34" fill="none" stroke="#f01818" stroke-width="1.5" stroke-linejoin="round" stroke-linecap="round" />
<polyline points="20.7,391.7 21.7,391.7 22.7,391.7 23.7,391.7 24.7,391.7 25.7,391.7 26.7,391.7 27.7,391.7 28.7,391.69 29.7,391.69 30.7,391.69 31.7,391.69 32.7,391.69 33.7,391.69 34.7,391.68 35.7,391.68 36.7,391.68 37.7,391.68 38.7,391.67 39.7,391.67 40.7,391.67 41.7,391.66 42.7,391.66 43.7,391.66 44.7,391.65 45.7,391.65 46.7,391.64 47.7,391.64 48.7,391.63 49.7,391.63 50.7,391.62 51.7,391.62 52.7,391.61 53.7,391.61 54.7,391.6 55.7,391.59 56.7,391.58 57.7,391.56 58.7,391.53 59.7,391.49 60.7,391.45 61.7,391.4 62.7,391.35 63.7,391.29 64.7,391.23 65.7,391.17 66.7,391.1 67.7,391.03 68.7,390.96 69.7,390.89 70.7,390.81 71.7,390.74 72.7,390.67 73.7,390.59 74.7,390.52 75.7,390.45 76.7,390.36 77.7,390.26 78.7,390.16 79.7,390.04 80.7,389.92 81.7,389.8 82.7,389.67 83.7,389.54 84.7,389.42 85.7,389.29 86.7,389.17 87.7,389.05 88.7,388.94 89.7,388.84 90.7,388.74 91.7,388.66 92.7,388.6 93.7,388.54 94.7,388.51 95.7,388.48 96.7,388.46 97.7,388.44 98.7,388.42 99.7,388.4 100.7,388.39 101.7,388.37 102.7,388.35 103.7,388.33 104.7,388.32 105.7,388.3 106.7,388.29 107.7,388.28 108.7,388.27 109.7,388.26 110.7,388.25 111.7,388.24 112.7,388.23 113.7,388.22 114.7,388.22 115.7,388.21 116.7,388.21 117.7,388.2 118.7,388.2 119.7,388.2 120.7,388.2 121.7,388.2 122.7,388.2 123.7,388.2 124.7,388.21 125.7,388.21 126.7,388.21 127.7,388.22 128.7,388.22 129.7,388.23 130.7,388.23 131.7,388.24 132.7,388.24 133.7,388.25 134.7,388.26 135.7,388.26 136.7,388.27 137.7,388.28 138.7,388.29 139.7,388.3 140.7,388.31 141.7,388.32 142.7,388.34 143.7,388.37 144.7,388.4 145.7,388.43 146.7,388.47 147.7,388.51 148.7,388.55 149.7,388.59 150.7,388.64 151.7,388.69 152.7,388.74 153.7,388.79 154.7,388.84 155.7,388.89 156.7,388.94 157.7,388.99 158.7,389.04 159.7,389.09 160.7,389.13 161.7,389.18 162.7,389.23 163.7,389.29 164.7,389.34 165.7,389.4 166.7,389.45 167.7,389.51 168.7,389.57 169.7,389.62 170.7,389.68 171.7,389.73 172.7,389.79 173.7,389.84 174.7,389.89 175.7,389.93 176.7,389.98 177.7,390.03 178.7,390.07 179.7,390.12 180.7,390.17 181.7,390.22 182.7,390.26 183.7,390.31 184.7,390.36 185.7,390.4 186.7,390.45 187.7,390.49 188.7,390.53 189.7,390.58 190.7,390.62 191.7,390.66 192.7,390.69 193.7,390.73 194.7,390.76 195.7,390.79 196.7,390.82 197.7,390.85 198.7,390.87 199.7,390.89 200.7,390.91 201.7,390.93 202.7,390.95 203.7,390.97 204.7,390.99 205.7,391.01 206.7,391.03 207.7,391.04 208.7,391.06 209.7,391.08 210.7,391.09 211.7,391.11 212.7,391.12 213.7,391.14 214.7,391.15 215.7,391.16 216.7,391.17 217.7,391.18 218.7,391.18 219.7,391.19 220.7,391.2 221.7,391.2 222.7,391.2" fill="none" stroke="#c37ff0" stroke-width="1.3" stroke-linejoin="round" stroke-linecap="round" />
<polyline points="20.7,391.7 21.7,391.7 22.7,391.7 23.7,391.7 24.7,391.7 25.7,391.7 26.7,391.7 27.7,391.7 28.7,391.7 29.7,391.7 30.7,391.7 31.7,391.7 32.7,391.7 33.7,391.7 34.7,391.7 35.7,391.7 36.7,391.7 37.7,391.7 38.7,391.7 39.7,391.7 40.7,391.7 41.7,391.7 42.7,391.7 43.7,391.69 44.7,391.69 45.7,391.69 46.7,391.69 47.7,391.69 48.7,391.69 49.7,391.69 50.7,391.69 51.7,391.69 52.7,391.69 53.7,391.69 54.7,391.69 55.7,391.69 56.7,391.69 57.7,391.69 58.7,391.69 59.7,391.69 60.7,391.69 61.7,391.69 62.7,391.69 63.7,391.69 64.7,391.69 65.7,391.69 66.7,391.69 67.7,391.69 68.7,391.69 69.7,391.69 70.7,391.69 71.7,391.69 72.7,391.69 73.7,391.69 74.7,391.69 75.7,391.69 76.7,391.69 77.7,391.69 78.7,391.69 79.7,391.69 80.7,391.69 81.7,391.69 82.7,391.69 83.7,391.69 84.7,391.69 85.7,391.69 86.7,391.69 87.7,391.69 88.7,391.69 89.7,391.69 90.7,391.69 91.7,391.68 92.7,391.68 93.7,391.68 94.7,391.68 95.7,391.68 96.7,391.68 97.7,391.68 98.7,391.68 99.7,391.68 100.7,391.68 101.7,391.68 102.7,391.68 103.7,391.68 104.7,391.68 105.7,391.68 106.7,391.67 107.7,391.67 108.7,391.67 109.7,391.67 110.7,391.67 111.7,391.67 112.7,391.67 113.7,391.67 114.7,391.66 115.7,391.66 116.7,391.66 117.7,391.66 118.7,391.66 119.7,391.65 120.7,391.65 121.7,391.65 122.7,391.64 123.7,391.64 124.7,391.64 125.7,391.63 126.7,391.63 127.7,391.62 128.7,391.62 129.7,391.61 130.7,391.6 131.7,391.59 132.7,391.58 133.7,391.56 134.7,391.54 135.7,391.51 136.7,391.46 137.7,391.38 138.7,391.28 139.7,391.13 140.7,390.92 141.7,390.63 142.7,390.25 143.7,389.76 144.7,389.15 145.7,388.4 146.7,387.52 147.7,386.51 148.7,385.42 149.7,384.27 150.7,383.12 151.7,382.03 152.7,381.08 153.7,380.34 154.7,379.86 155.7,379.7 156.7,379.86 157.7,380.34 158.7,381.08 159.7,382.03 160.7,383.12 161.7,384.27 162.7,385.42 163.7,386.51 164.7,387.52 165.7,388.4 166.7,389.15 167.7,389.76 168.7,390.25 169.7,390.63 170.7,390.92 171.7,391.13 172.7,391.28 173.7,391.38 174.7,391.46 175.7,391.51 176.7,391.54 177.7,391.56 178.7,391.58 179.7,391.59 180.7,391.6 181.7,391.61 182.7,391.62 183.7,391.62 184.7,391.63 185.7,391.63 186.7,391.64 187.7,391.64 188.7,391.64 189.7,391.65 190.7,391.65 191.7,391.65 192.7,391.66 193.7,391.66 194.7,391.66 195.7,391.66 196.7,391.66 197.7,391.67 198.7,391.67 199.7,391.67 200.7,391.67 201.7,391.67 202.7,391.67 203.7,391.67 204.7,391.67 205.7,391.68 206.7,391.68 207.7,391.68 208.7,391.68 209.7,391.68 210.7,391.68 211.7,391.68 212.7,391.68 213.7,391.68 214.7,391.68 215.7,391.68 216.7,391.68 217.7,391.68 218.7,391.68 219.7,391.68 220.7,391.69 221.7,391.69 222.7,391.69" fill="none" stroke="#777777" stroke-width="1.3" stroke-linejoin="round" stroke-linecap="round" />
<polyline points="20.7,391.7 21.7,391.7 22.7,391.7 23.7,391.7 24.7,391.7 25.7,391.7 26.7,391.7 27.7,391.7 28.7,391.7 29.7,391.7 30.7,391.7 31.7,391.7 32.7,391.7 33.7,391.7 34.7,391.7 35.7,391.7 36.7,391.7 37.7,391.7 38.7,391.7 39.7,391.7 40.7,391.7 41.7,391.7 42.7,391.7 43.7,391.7 44.7,391.7 45.7,391.7 46.7,391.7 47.7,391.7 48.7,391.7 49.7,391.7 50.7,391.7 51.7,391.7 52.7,391.7 53.7,391.7 54.7,391.69 55.7,391.69 56.7,391.69 57.7,391.69 58.7,391.69 59.7,391.69 60.7,391.69 61.7,391.69 62.7,391.69 63.7,391.69 64.7,391.69 65.7,391.69 66.7,391.69 67.7,391.69 68.7,391.69 69.7,391.69 70.7,391.69 71.7,391.69 72.7,391.69 73.7,391.69 74.7,391.69 75.7,391.69 76.7,391.69 77.7,391.69 78.7,391.69 79.7,391.69 80.7,391.69 81.7,391.69 82.7,391.69 83.7,391.69 84.7,391.69 85.7,391.69 86.7,391.69 87.7,391.69 88.7,391.69 89.7,391.69 90.7,391.69 91.7,391.69 92.7,391.69 93.7,391.69 94.7,391.69 95.7,391.69 96.7,391.69 97.7,391.69 98.7,391.69 99.7,391.69 100.7,391.69 101.7,391.69 102.7,391.69 103.7,391.69 104.7,391.69 105.7,391.69 106.7,391.68 107.7,391.68 108.7,391.68 109.7,391.68 110.7,391.68 111.7,391.68 112.7,391.68 113.7,391.68 114.7,391.68 115.7,391.68 116.7,391.68 117.7,391.68 118.7,391.68 119.7,391.68 120.7,391.68 121.7,391.68 122.7,391.67 123.7,391.67 124.7,391.67 125.7,391.67 126.7,391.67 127.7,391.67 128.7,391.67 129.7,391.67 130.7,391.67 131.7,391.66 132.7,391.66 133.7,391.66 134.7,391.66 135.7,391.66 136.7,391.66 137.7,391.65 138.7,391.65 139.7,391.65 140.7,391.65 141.7,391.64 142.7,391.64 143.7,391.64 144.7,391.63 145.7,391.63 146.7,391.62 147.7,391.61 148.7,391.61 149.7,391.6 150.7,391.59 151.7,391.57 152.7,391.55 153.7,391.52 154.7,391.47 155.7,391.42 156.7,391.34 157.7,391.23 158.7,391.09 159.7,390.91 160.7,390.67 161.7,390.37 162.7,389.99 163.7,389.54 164.7,389 165.7,388.38 166.7,387.68 167.7,386.91 168.7,386.08 169.7,385.23 170.7,384.38 171.7,383.56 172.7,382.82 173.7,382.19 174.7,381.71 175.7,381.4 176.7,381.3 177.7,381.4 178.7,381.71 179.7,382.19 180.7,382.82 181.7,383.56 182.7,384.38 183.7,385.23 184.7,386.08 185.7,386.91 186.7,387.68 187.7,388.38 188.7,389 189.7,389.54 190.7,389.99 191.7,390.37 192.7,390.67 193.7,390.91 194.7,391.09 195.7,391.23 196.7,391.34 197.7,391.42 198.7,391.47 199.7,391.52 200.7,391.55 201.7,391.57 202.7,391.59 203.7,391.6 204.7,391.61 205.7,391.61 206.7,391.62 207.7,391.63 208.7,391.63 209.7,391.64 210.7,391.64 211.7,391.64 212.7,391.65 213.7,391.65 214.7,391.65 215.7,391.65 216.7,391.66 217.7,391.66 218.7,391.66 219.7,391.66 220.7,391.66 221.7,391.66 222.7,391.67" fill="none" stroke="#f5862a" stroke-width="1.3" stroke-linejoin="round" stroke-linecap="round" />
<polyline points="20.7,391.67 21.7,391.67 22.7,391.67 23.7,391.66 24.7,391.66 25.7,391.66 26.7,391.66 27.7,391.66 28.7,391.66 29.7,391.66 30.7,391.65 31.7,391.65 32.7,391.65 33.7,391.65 34.7,391.65 35.7,391.64 36.7,391.64 37.7,391.64 38.7,391.64 39.7,391.63 40.7,391.63 41.7,391.63 42.7,391.62 43.7,391.62 44.7,391.62 45.7,391.61 46.7,391.61 47.7,391.6 48.7,391.59 49.7,391.59 50.7,391.58 51.7,391.57 52.7,391.56 53.7,391.55 54.7,391.53 55.7,391.51 56.7,391.48 57.7,391.44 58.7,391.38 59.7,391.31 60.7,391.21 61.7,391.07 62.7,390.88 63.7,390.63 64.7,390.3 65.7,389.88 66.7,389.36 67.7,388.72 68.7,387.95 69.7,387.04 70.7,386 71.7,384.84 72.7,383.58 73.7,382.25 74.7,380.89 75.7,379.56 76.7,378.3 77.7,377.19 78.7,376.27 79.7,375.62 80.7,375.26 81.7,375.23 82.7,375.52 83.7,376.12 84.7,376.99 85.7,378.07 86.7,379.3 87.7,380.62 88.7,381.98 89.7,383.32 90.7,384.6 91.7,385.78 92.7,386.84 93.7,387.78 94.7,388.57 95.7,389.24 96.7,389.79 97.7,390.23 98.7,390.57 99.7,390.83 100.7,391.03 101.7,391.18 102.7,391.29 103.7,391.37 104.7,391.43 105.7,391.47 106.7,391.5 107.7,391.53 108.7,391.54 109.7,391.56 110.7,391.57 111.7,391.58 112.7,391.59 113.7,391.59 114.7,391.6 115.7,391.6 116.7,391.61 117.7,391.61 118.7,391.62 119.7,391.62 120.7,391.63 121.7,391.63 122.7,391.63 123.7,391.64 124.7,391.64 125.7,391.64 126.7,391.64 127.7,391.65 128.7,391.65 129.7,391.65 130.7,391.65 131.7,391.65 132.7,391.66 133.7,391.66 134.7,391.66 135.7,391.66 136.7,391.66 137.7,391.66 138.7,391.66 139.7,391.67 140.7,391.67 141.7,391.67 142.7,391.67 143.7,391.67 144.7,391.67 145.7,391.67 146.7,391.67 147.7,391.67 148.7,391.67 149.7,391.67 150.7,391.68 151.7,391.68 152.7,391.68 153.7,391.68 154.7,391.68 155.7,391.68 156.7,391.68 157.7,391.68 158.7,391.68 159.7,391.68 160.7,391.68 161.7,391.68 162.7,391.68 163.7,391.68 164.7,391.68 165.7,391.68 166.7,391.68 167.7,391.68 168.7,391.68 169.7,391.68 170.7,391.69 171.7,391.69 172.7,391.69 173.7,391.69 174.7,391.69 175.7,391.69 176.7,391.69 177.7,391.69 178.7,391.69 179.7,391.69 180.7,391.69 181.7,391.69 182.7,391.69 183.7,391.69 184.7,391.69 185.7,391.69 186.7,391.69 187.7,391.69 188.7,391.69 189.7,391.69 190.7,391.69 191.7,391.69 192.7,391.69 193.7,391.69 194.7,391.69 195.7,391.69 196.7,391.69 197.7,391.69 198.7,391.69 199.7,391.69 200.7,391.69 201.7,391.69 202.7,391.69 203.7,391.69 204.7,391.69 205.7,391.69 206.7,391.69 207.7,391.69 208.7,391.69 209.7,391.69 210.7,391.69 211.7,391.69 212.7,391.69 213.7,391.69 214.7,391.69 215.7,391.69 216.7,391.69 217.7,391.69 218.7,391.69 219.7,391.69 220.7,391.69 221.7,391.69 222.7,391.69" fill="none" stroke="#2e92ea" stroke-width="1.3" stroke-linejoin="round" stroke-linecap="round" />
<polyline points="20.7,391.61 21.7,391.61 22.7,391.61 23.7,391.6 24.7,391.59 25.7,391.59 26.7,391.58 27.7,391.58 28.7,391.57 29.7,391.56 30.7,391.55 31.7,391.53 32.7,391.52 33.7,391.5 34.7,391.47 35.7,391.44 36.7,391.39 37.7,391.33 38.7,391.24 39.7,391.12 40.7,390.95 41.7,390.73 42.7,390.43 43.7,390.05 44.7,389.55 45.7,388.94 46.7,388.18 47.7,387.26 48.7,386.19 49.7,384.96 50.7,383.59 51.7,382.1 52.7,380.53 53.7,378.93 54.7,377.35 55.7,375.87 56.7,374.55 57.7,373.47 58.7,372.69 59.7,372.27 60.7,372.23 61.7,372.58 62.7,373.29 63.7,374.31 64.7,375.59 65.7,377.04 66.7,378.61 67.7,380.21 68.7,381.8 69.7,383.3 70.7,384.7 71.7,385.96 72.7,387.06 73.7,388.01 74.7,388.8 75.7,389.44 76.7,389.96 77.7,390.36 78.7,390.68 79.7,390.91 80.7,391.09 81.7,391.22 82.7,391.31 83.7,391.38 84.7,391.43 85.7,391.47 86.7,391.49 87.7,391.52 88.7,391.53 89.7,391.55 90.7,391.56 91.7,391.57 92.7,391.57 93.7,391.58 94.7,391.59 95.7,391.59 96.7,391.6 97.7,391.6 98.7,391.61 99.7,391.61 100.7,391.62 101.7,391.62 102.7,391.62 103.7,391.63 104.7,391.63 105.7,391.63 106.7,391.64 107.7,391.64 108.7,391.64 109.7,391.64 110.7,391.65 111.7,391.65 112.7,391.65 113.7,391.65 114.7,391.65 115.7,391.66 116.7,391.66 117.7,391.66 118.7,391.66 119.7,391.66 120.7,391.66 121.7,391.66 122.7,391.66 123.7,391.67 124.7,391.67 125.7,391.67 126.7,391.67 127.7,391.67 128.7,391.67 129.7,391.67 130.7,391.67 131.7,391.67 132.7,391.67 133.7,391.67 134.7,391.67 135.7,391.68 136.7,391.68 137.7,391.68 138.7,391.68 139.7,391.68 140.7,391.68 141.7,391.68 142.7,391.68 143.7,391.68 144.7,391.68 145.7,391.68 146.7,391.68 147.7,391.68 148.7,391.68 149.7,391.68 150.7,391.68 151.7,391.68 152.7,391.68 153.7,391.68 154.7,391.68 155.7,391.68 156.7,391.68 157.7,391.69 158.7,391.69 159.7,391.69 160.7,391.69 161.7,391.69 162.7,391.69 163.7,391.69 164.7,391.69 165.7,391.69 166.7,391.69 167.7,391.69 168.7,391.69 169.7,391.69 170.7,391.69 171.7,391.69 172.7,391.69 173.7,391.69 174.7,391.69 175.7,391.69 176.7,391.69 177.7,391.69 178.7,391.69 179.7,391.69 180.7,391.69 181.7,391.69 182.7,391.69 183.7,391.69 184.7,391.69 185.7,391.69 186.7,391.69 187.7,391.69 188.7,391.69 189.7,391.69 190.7,391.69 191.7,391.69 192.7,391.69 193.7,391.69 194.7,391.69 195.7,391.69 196.7,391.69 197.7,391.69 198.7,391.69 199.7,391.69 200.7,391.69 201.7,391.69 202.7,391.69 203.7,391.69 204.7,391.69 205.7,391.69 206.7,391.69 207.7,391.69 208.7,391.69 209.7,391.69 210.7,391.69 211.7,391.69 212.7,391.69 213.7,391.69 214.7,391.69 215.7,391.69 216.7,391.69 217.7,391.69 218.7,391.69 219.7,391.69 220.7,391.69 221.7,391.69 222.7,391.69" fill="none" stroke="#1fc08a" stroke-width="1.3" stroke-linejoin="round" stroke-linecap="round" />
<line x1="64.6" y1="375.8" x2="151.9" y2="375.8" stroke="#6a6a6a" stroke-width="0.75" />
<path d="M61.6,375.8 l3.4,-1.3 v2.6 z" fill="#111"/>
<path d="M154.9,375.8 l-3.4,-1.3 v2.6 z" fill="#111"/>
<rect x="20.7" y="243.7" width="202.3" height="163.5" fill="none" stroke="#595959" stroke-width="1.3"/>
<line x1="37.53" y1="407.2" x2="37.53" y2="409.8" stroke="#333" stroke-width="0.9" />
<line x1="65.58" y1="407.2" x2="65.58" y2="408.8" stroke="#333" stroke-width="0.9" />
<line x1="93.63" y1="407.2" x2="93.63" y2="409.8" stroke="#333" stroke-width="0.9" />
<line x1="121.68" y1="407.2" x2="121.68" y2="408.8" stroke="#333" stroke-width="0.9" />
<line x1="149.73" y1="407.2" x2="149.73" y2="409.8" stroke="#333" stroke-width="0.9" />
<line x1="177.78" y1="407.2" x2="177.78" y2="408.8" stroke="#333" stroke-width="0.9" />
<line x1="205.83" y1="407.2" x2="205.83" y2="409.8" stroke="#333" stroke-width="0.9" />
<text x="37.53" y="418.6" font-family="Liberation Serif" font-size="8.0" font-weight="normal" fill="#1c1c1c" text-anchor="middle" textLength="12.2" lengthAdjust="spacingAndGlyphs" stroke="#1c1c1c" stroke-width="0.2" >830</text>
<text x="93.63" y="418.6" font-family="Liberation Serif" font-size="8.0" font-weight="normal" fill="#1c1c1c" text-anchor="middle" textLength="12.2" lengthAdjust="spacingAndGlyphs" stroke="#1c1c1c" stroke-width="0.2" >840</text>
<text x="149.73" y="418.6" font-family="Liberation Serif" font-size="8.0" font-weight="normal" fill="#1c1c1c" text-anchor="middle" textLength="12.2" lengthAdjust="spacingAndGlyphs" stroke="#1c1c1c" stroke-width="0.2" >850</text>
<text x="205.83" y="418.6" font-family="Liberation Serif" font-size="8.0" font-weight="normal" fill="#1c1c1c" text-anchor="middle" textLength="12.2" lengthAdjust="spacingAndGlyphs" stroke="#1c1c1c" stroke-width="0.2" >860</text>
<text x="79.8" y="428" font-family="Liberation Serif" font-size="9.2" font-weight="normal" fill="#1c1c1c" text-anchor="start" textLength="69.2" lengthAdjust="spacingAndGlyphs" stroke="#1c1c1c" stroke-width="0.2" >Binding Energy(eV)</text>
<text x="16.2" y="326.8" font-family="Liberation Serif" font-size="8.6" font-weight="normal" fill="#1c1c1c" text-anchor="middle" textLength="47.5" lengthAdjust="spacingAndGlyphs" stroke="#1c1c1c" stroke-width="0.2" transform="rotate(-90 16.2 326.8)">Intensity(a.u.)</text>
<text x="22.8" y="251.6" font-family="Liberation Serif" font-size="8.0" font-weight="bold" fill="#1c1c1c" text-anchor="start" textLength="8.2" lengthAdjust="spacingAndGlyphs" stroke="#1c1c1c" stroke-width="0.3" >(c)</text>
<text x="32" y="253.3" font-family="Liberation Serif" font-size="8.8" font-weight="normal" fill="#1c1c1c" text-anchor="start" textLength="19.8" lengthAdjust="spacingAndGlyphs" stroke="#1c1c1c" stroke-width="0.2" >La 3d</text>
<text x="51.8" y="254.9" font-family="Liberation Serif" font-size="8.0" font-weight="normal" fill="#1c1c1c" text-anchor="start" textLength="7.1" lengthAdjust="spacingAndGlyphs" stroke="#1c1c1c" stroke-width="0.08" >5/2</text>
<text x="162" y="254.4" font-family="Liberation Serif" font-size="8.8" font-weight="normal" fill="#1c1c1c" text-anchor="start" textLength="19" lengthAdjust="spacingAndGlyphs" stroke="#1c1c1c" stroke-width="0.2" >La 3d</text>
<text x="181" y="256" font-family="Liberation Serif" font-size="8.0" font-weight="normal" fill="#1c1c1c" text-anchor="start" textLength="8" lengthAdjust="spacingAndGlyphs" stroke="#1c1c1c" stroke-width="0.08" >3/2</text>
<text x="95.6" y="255" font-family="Liberation Serif" font-size="8.9" font-weight="normal" fill="#1c1c1c" text-anchor="start" textLength="39.4" lengthAdjust="spacingAndGlyphs" stroke="#1c1c1c" stroke-width="0.2" >ΔE=16.9eV</text>
<text x="92.6" y="292.4" font-family="Liberation Serif" font-size="8.9" font-weight="normal" fill="#1c1c1c" text-anchor="start" textLength="39.5" lengthAdjust="spacingAndGlyphs" stroke="#1c1c1c" stroke-width="0.2" >ΔE=17.0eV</text>
<text x="97.1" y="330" font-family="Liberation Serif" font-size="8.9" font-weight="normal" fill="#1c1c1c" text-anchor="start" textLength="39.3" lengthAdjust="spacingAndGlyphs" stroke="#1c1c1c" stroke-width="0.2" >ΔE=16.7eV</text>
<text x="97.1" y="372" font-family="Liberation Serif" font-size="8.9" font-weight="normal" fill="#1c1c1c" text-anchor="start" textLength="40.4" lengthAdjust="spacingAndGlyphs" stroke="#1c1c1c" stroke-width="0.2" >ΔE=16.9eV</text>
<text x="194" y="264" font-family="Liberation Serif" font-size="8.8" font-weight="normal" fill="#1c1c1c" text-anchor="start" textLength="29" lengthAdjust="spacingAndGlyphs" stroke="#1c1c1c" stroke-width="0.2" >500LFO</text>
<text x="194" y="302.6" font-family="Liberation Serif" font-size="8.8" font-weight="normal" fill="#1c1c1c" text-anchor="start" textLength="29" lengthAdjust="spacingAndGlyphs" stroke="#1c1c1c" stroke-width="0.2" >600LFO</text>
<text x="194" y="343.8" font-family="Liberation Serif" font-size="8.8" font-weight="normal" fill="#1c1c1c" text-anchor="start" textLength="29" lengthAdjust="spacingAndGlyphs" stroke="#1c1c1c" stroke-width="0.2" >700LFO</text>
<text x="194" y="385.6" font-family="Liberation Serif" font-size="8.8" font-weight="normal" fill="#1c1c1c" text-anchor="start" textLength="29" lengthAdjust="spacingAndGlyphs" stroke="#1c1c1c" stroke-width="0.2" >800LFO</text>
<polyline points="337.6,278.5 338.6,278.46 339.6,278.43 340.6,278.39 341.6,278.35 342.6,278.31 343.6,278.27 344.6,278.22 345.6,278.18 346.6,278.13 347.6,278.08 348.6,278.04 349.6,277.99 350.6,277.94 351.6,277.88 352.6,277.83 353.6,277.78 354.6,277.72 355.6,277.66 356.6,277.59 357.6,277.5 358.6,277.4 359.6,277.28 360.6,277.15 361.6,277.01 362.6,276.86 363.6,276.71 364.6,276.54 365.6,276.37 366.6,276.2 367.6,276.02 368.6,275.83 369.6,275.57 370.6,275.27 371.6,274.92 372.6,274.54 373.6,274.16 374.6,273.78 375.6,273.42 376.6,273.1 377.6,272.82 378.6,272.6 379.6,272.47 380.6,272.4 381.6,272.35 382.6,272.29 383.6,272.24 384.6,272.2 385.6,272.15 386.6,272.11 387.6,272.07 388.6,272.05 389.6,272.07 390.6,272.14 391.6,272.25 392.6,272.39 393.6,272.55 394.6,272.72 395.6,272.9 396.6,273.07 397.6,273.24 398.6,273.39 399.6,273.51 400.6,273.6 401.6,273.69 402.6,273.79 403.6,273.89 404.6,273.99 405.6,274.09 406.6,274.19 407.6,274.28 408.6,274.36 409.6,274.44 410.6,274.51 411.6,274.57 412.6,274.62 413.6,274.65 414.6,274.68 415.6,274.68 416.6,274.67 417.6,274.64 418.6,274.61 419.6,274.58 420.6,274.55 421.6,274.52 422.6,274.49 423.6,274.46 424.6,274.43 425.6,274.4 426.6,274.37 427.6,274.34 428.6,274.31 429.6,274.28 430.6,274.25 431.6,274.21 432.6,274.18 433.6,274.15 434.6,274.12 435.6,274.09 436.6,274.06 437.6,274.02 438.6,273.99 439.6,273.96 440.6,273.93 441.6,273.89 442.6,273.86 443.6,273.83 444.6,273.79 445.6,273.76 446.6,273.73 447.6,273.69 448.6,273.66 449.6,273.63 450.6,273.59 451.6,273.56 452.6,273.53 453.6,273.49 454.6,273.46 455.6,273.42 456.6,273.39 457.6,273.36 458.6,273.32 459.6,273.29 460.6,273.25 461.6,273.2 462.6,273.14 463.6,273.07 464.6,273 465.6,272.91 466.6,272.83 467.6,272.74 468.6,272.65 469.6,272.56 470.6,272.47 471.6,272.37 472.6,272.26 473.6,272.14 474.6,272.01 475.6,271.88 476.6,271.74 477.6,271.61 478.6,271.48 479.6,271.36 480.6,271.24 481.6,271.14 482.6,271.05 483.6,270.98 484.6,270.93 485.6,270.89 486.6,270.86 487.6,270.84 488.6,270.82 489.6,270.8 490.6,270.79 491.6,270.78 492.6,270.78 493.6,270.77 494.6,270.77 495.6,270.77 496.6,270.78 497.6,270.78 498.6,270.79 499.6,270.79 500.6,270.8 501.6,270.82 502.6,270.85 503.6,270.89 504.6,270.94 505.6,271 506.6,271.06 507.6,271.12 508.6,271.18 509.6,271.24 510.6,271.29 511.6,271.33 512.6,271.36 513.6,271.37 514.6,271.38 515.6,271.37 516.6,271.35 517.6,271.34 518.6,271.32 519.6,271.31 520.6,271.29 521.6,271.27 522.6,271.26 523.6,271.24 524.6,271.22 525.6,271.2 526.6,271.18 527.6,271.16 528.6,271.13 529.6,271.11 530.6,271.09 531.6,271.06 532.6,271.03 533.6,271.01 534.6,270.98 535.6,270.95 536.6,270.92 537.6,270.89 538.6,270.86 539.6,270.82" fill="none" stroke="#b02fe0" stroke-width="1.3" stroke-linejoin="round" stroke-linecap="round" />
<polyline points="337.6,278.5 338.6,278.47 339.6,278.43 340.6,278.4 341.6,278.36 342.6,278.33 343.6,278.29 344.6,278.26 345.6,278.22 346.6,278.19 347.6,278.15 348.6,278.12 349.6,278.09 350.6,278.05 351.6,278.02 352.6,277.98 353.6,277.95 354.6,277.91 355.6,277.88 356.6,277.84 357.6,277.81 358.6,277.77 359.6,277.74 360.6,277.71 361.6,277.67 362.6,277.64 363.6,277.6 364.6,277.57 365.6,277.53 366.6,277.5 367.6,277.46 368.6,277.43 369.6,277.39 370.6,277.36 371.6,277.33 372.6,277.29 373.6,277.26 374.6,277.22 375.6,277.19 376.6,277.15 377.6,277.12 378.6,277.08 379.6,277.05 380.6,277.02 381.6,276.98 382.6,276.95 383.6,276.91 384.6,276.88 385.6,276.84 386.6,276.81 387.6,276.77 388.6,276.74 389.6,276.7 390.6,276.67 391.6,276.64 392.6,276.6 393.6,276.57 394.6,276.53 395.6,276.5 396.6,276.46 397.6,276.43 398.6,276.39 399.6,276.36 400.6,276.32 401.6,276.29 402.6,276.26 403.6,276.22 404.6,276.19 405.6,276.15 406.6,276.12 407.6,276.08 408.6,276.05 409.6,276.01 410.6,275.98 411.6,275.94 412.6,275.91 413.6,275.88 414.6,275.84 415.6,275.81 416.6,275.77 417.6,275.74 418.6,275.7 419.6,275.67 420.6,275.63 421.6,275.6 422.6,275.56 423.6,275.53 424.6,275.5 425.6,275.46 426.6,275.43 427.6,275.39 428.6,275.36 429.6,275.32 430.6,275.29 431.6,275.25 432.6,275.22 433.6,275.18 434.6,275.15 435.6,275.12 436.6,275.08 437.6,275.05 438.6,275.01 439.6,274.98 440.6,274.94 441.6,274.91 442.6,274.87 443.6,274.84 444.6,274.8 445.6,274.77 446.6,274.74 447.6,274.7 448.6,274.67 449.6,274.63 450.6,274.6 451.6,274.56 452.6,274.53 453.6,274.49 454.6,274.46 455.6,274.43 456.6,274.39 457.6,274.36 458.6,274.32 459.6,274.29 460.6,274.25 461.6,274.22 462.6,274.18 463.6,274.15 464.6,274.11 465.6,274.08 466.6,274.05 467.6,274.01 468.6,273.98 469.6,273.94 470.6,273.91 471.6,273.87 472.6,273.84 473.6,273.8 474.6,273.77 475.6,273.73 476.6,273.7 477.6,273.67 478.6,273.63 479.6,273.6 480.6,273.56 481.6,273.53 482.6,273.49 483.6,273.46 484.6,273.42 485.6,273.39 486.6,273.35 487.6,273.32 488.6,273.29 489.6,273.25 490.6,273.22 491.6,273.18 492.6,273.15 493.6,273.11 494.6,273.08 495.6,273.04 496.6,273.01 497.6,272.97 498.6,272.94 499.6,272.91 500.6,272.87 501.6,272.84 502.6,272.8 503.6,272.77 504.6,272.73 505.6,272.7 506.6,272.66 507.6,272.63 508.6,272.59 509.6,272.56 510.6,272.53 511.6,272.49 512.6,272.46 513.6,272.42 514.6,272.39 515.6,272.35 516.6,272.32 517.6,272.28 518.6,272.25 519.6,272.21 520.6,272.18 521.6,272.15 522.6,272.11 523.6,272.08 524.6,272.04 525.6,272.01 526.6,271.97 527.6,271.94 528.6,271.9 529.6,271.87 530.6,271.83 531.6,271.8 532.6,271.77 533.6,271.73 534.6,271.7 535.6,271.66 536.6,271.63 537.6,271.59 538.6,271.56 539.6,271.52" fill="none" stroke="#a59c22" stroke-width="1.2" stroke-linejoin="round" stroke-linecap="round" />
<polyline points="340.6,278.4 341.6,278.36 342.6,278.32 343.6,278.28 344.6,278.22 345.6,278.13 346.6,277.98 347.6,277.73 348.6,277.33 349.6,276.75 350.6,275.97 351.6,275.05 352.6,274.1 353.6,273.29 354.6,272.79 355.6,272.71 356.6,273.07 357.6,273.76 358.6,274.62 359.6,275.49 360.6,276.24 361.6,276.79 362.6,277.15 363.6,277.36 364.6,277.45 365.6,277.49 366.6,277.48 367.6,277.46 368.6,277.43 369.6,277.39 370.6,277.36 371.6,277.33" fill="none" stroke="#a59c22" stroke-width="1.25" stroke-linejoin="round" stroke-linecap="round" />
<polyline points="345.6,277.96 346.6,277.81 347.6,277.63 348.6,277.4 349.6,277.12 350.6,276.77 351.6,276.36 352.6,275.87 353.6,275.32 354.6,274.69 355.6,274.02 356.6,273.3 357.6,272.56 358.6,271.83 359.6,271.13 360.6,270.5 361.6,269.97 362.6,269.55 363.6,269.28 364.6,269.17 365.6,269.21 366.6,269.41 367.6,269.76 368.6,270.22 369.6,270.79 370.6,271.41 371.6,272.08 372.6,272.75 373.6,273.39 374.6,274 375.6,274.56 376.6,275.04 377.6,275.46 378.6,275.8 379.6,276.08 380.6,276.29 381.6,276.46 382.6,276.57 383.6,276.65 384.6,276.7 385.6,276.72 386.6,276.73 387.6,276.72" fill="none" stroke="#2222ee" stroke-width="1.25" stroke-linejoin="round" stroke-linecap="round" />
<polyline points="345.6,278.21 346.6,278.18 347.6,278.14 348.6,278.09 349.6,278.05 350.6,278 351.6,277.95 352.6,277.89 353.6,277.83 354.6,277.77 355.6,277.69 356.6,277.61 357.6,277.52 358.6,277.43 359.6,277.33 360.6,277.22 361.6,277.1 362.6,276.99 363.6,276.87 364.6,276.75 365.6,276.63 366.6,276.52 367.6,276.41 368.6,276.32 369.6,276.24 370.6,276.18 371.6,276.13 372.6,276.09 373.6,276.08 374.6,276.08 375.6,276.09 376.6,276.12 377.6,276.15 378.6,276.2 379.6,276.25 380.6,276.3 381.6,276.35 382.6,276.4 383.6,276.44 384.6,276.48 385.6,276.51 386.6,276.53 387.6,276.55 388.6,276.56 389.6,276.56 390.6,276.56 391.6,276.55 392.6,276.54 393.6,276.52 394.6,276.5 395.6,276.47 396.6,276.44 397.6,276.42 398.6,276.38 399.6,276.35" fill="none" stroke="#35d4a8" stroke-width="1.25" stroke-linejoin="round" stroke-linecap="round" />
<polyline points="455.6,274.37 456.6,274.32 457.6,274.26 458.6,274.21 459.6,274.15 460.6,274.08 461.6,274.01 462.6,273.93 463.6,273.84 464.6,273.75 465.6,273.65 466.6,273.55 467.6,273.43 468.6,273.31 469.6,273.19 470.6,273.05 471.6,272.91 472.6,272.77 473.6,272.63 474.6,272.49 475.6,272.34 476.6,272.2 477.6,272.07 478.6,271.94 479.6,271.82 480.6,271.71 481.6,271.62 482.6,271.54 483.6,271.47 484.6,271.42 485.6,271.39 486.6,271.38 487.6,271.37 488.6,271.39 489.6,271.42 490.6,271.46 491.6,271.51 492.6,271.57 493.6,271.64 494.6,271.71 495.6,271.78 496.6,271.86 497.6,271.93 498.6,272 499.6,272.07 500.6,272.13 501.6,272.19 502.6,272.24 503.6,272.28 504.6,272.32 505.6,272.35 506.6,272.37 507.6,272.38 508.6,272.39 509.6,272.39 510.6,272.39 511.6,272.38 512.6,272.37 513.6,272.35 514.6,272.33" fill="none" stroke="#2222ee" stroke-width="1.25" stroke-linejoin="round" stroke-linecap="round" />
<polyline points="460.6,274.07 461.6,273.99 462.6,273.9 463.6,273.8 464.6,273.7 465.6,273.59 466.6,273.48 467.6,273.36 468.6,273.24 469.6,273.12 470.6,273 471.6,272.89 472.6,272.79 473.6,272.7 474.6,272.62 475.6,272.55 476.6,272.5 477.6,272.47 478.6,272.45 479.6,272.45 480.6,272.46 481.6,272.49 482.6,272.53 483.6,272.57 484.6,272.62 485.6,272.67 486.6,272.72 487.6,272.77 488.6,272.81 489.6,272.85 490.6,272.88 491.6,272.91 492.6,272.93 493.6,272.94 494.6,272.94 495.6,272.93 496.6,272.93 497.6,272.91 498.6,272.89 499.6,272.87" fill="none" stroke="#35d4a8" stroke-width="1.25" stroke-linejoin="round" stroke-linecap="round" />
<polyline points="400.6,273.6 401.6,273.69 402.6,273.79 403.6,273.89 404.6,273.99 405.6,274.09 406.6,274.19 407.6,274.28 408.6,274.36 409.6,274.44 410.6,274.51 411.6,274.57 412.6,274.62 413.6,274.65 414.6,274.68 415.6,274.68 416.6,274.67 417.6,274.64 418.6,274.61 419.6,274.58 420.6,274.55 421.6,274.52 422.6,274.49 423.6,274.46 424.6,274.43 425.6,274.4 426.6,274.37 427.6,274.34 428.6,274.31 429.6,274.28 430.6,274.25 431.6,274.21 432.6,274.18 433.6,274.15 434.6,274.12 435.6,274.09 436.6,274.06 437.6,274.02 438.6,273.99 439.6,273.96 440.6,273.93 441.6,273.89 442.6,273.86 443.6,273.83 444.6,273.79 445.6,273.76 446.6,273.73 447.6,273.69 448.6,273.66 449.6,273.63 450.6,273.59 451.6,273.56 452.6,273.53 453.6,273.49 454.6,273.46 455.6,273.42 456.6,273.39 457.6,273.36 458.6,273.32 459.6,273.29 460.6,273.25 461.6,273.2 462.6,273.14 463.6,273.07 464.6,273 465.6,272.91 466.6,272.83 467.6,272.74 468.6,272.65 469.6,272.56 470.6,272.47 471.6,272.37 472.6,272.26 473.6,272.14 474.6,272.01 475.6,271.88 476.6,271.74 477.6,271.61 478.6,271.48 479.6,271.36 480.6,271.24 481.6,271.14 482.6,271.05 483.6,270.98 484.6,270.93 485.6,270.89 486.6,270.86 487.6,270.84 488.6,270.82 489.6,270.8 490.6,270.79 491.6,270.78 492.6,270.78 493.6,270.77 494.6,270.77 495.6,270.77 496.6,270.78 497.6,270.78 498.6,270.79 499.6,270.79 500.6,270.8 501.6,270.82 502.6,270.85 503.6,270.89 504.6,270.94 505.6,271 506.6,271.06 507.6,271.12 508.6,271.18 509.6,271.24 510.6,271.29 511.6,271.33 512.6,271.36 513.6,271.37 514.6,271.38 515.6,271.37 516.6,271.35 517.6,271.34 518.6,271.32 519.6,271.31 520.6,271.29 521.6,271.27 522.6,271.26 523.6,271.24 524.6,271.22 525.6,271.2 526.6,271.18 527.6,271.16 528.6,271.13 529.6,271.11 530.6,271.09 531.6,271.06 532.6,271.03 533.6,271.01 534.6,270.98 535.6,270.95 536.6,270.92 537.6,270.89 538.6,270.86 539.6,270.82" fill="none" stroke="#b02fe0" stroke-width="1.3" stroke-linejoin="round" stroke-linecap="round" />
<polyline points="337.6,278.5 338.6,278.48 339.6,278.42 340.6,278.32 341.6,278.2 342.6,278.06 343.6,277.88 344.6,277.59 345.6,277.19 346.6,276.64 347.6,275.8 348.6,274.76 349.6,273.64 350.6,272.49 351.6,271.16 352.6,269.91 353.6,268.92 354.6,267.95 355.6,267.18 356.6,266.8 357.6,266.7 358.6,266.62 359.6,266.56 360.6,266.52 361.6,266.5 362.6,266.5 363.6,266.53 364.6,266.57 365.6,266.64 366.6,266.72 367.6,266.82 368.6,266.95 369.6,267.29 370.6,267.79 371.6,268.31 372.6,268.77 373.6,269.25 374.6,269.73 375.6,270.15 376.6,270.51 377.6,270.83 378.6,271.13 379.6,271.39 380.6,271.6 381.6,271.77 382.6,271.91 383.6,272.03 384.6,272.14 385.6,272.26 386.6,272.37 387.6,272.47 388.6,272.57 389.6,272.66 390.6,272.76 391.6,272.86 392.6,272.97 393.6,273.08 394.6,273.21 395.6,273.33 396.6,273.45 397.6,273.57 398.6,273.68 399.6,273.77 400.6,273.85 401.6,273.92 402.6,274 403.6,274.07 404.6,274.15 405.6,274.22 406.6,274.29 407.6,274.35 408.6,274.42 409.6,274.47 410.6,274.53 411.6,274.57 412.6,274.61 413.6,274.65 414.6,274.67 415.6,274.69 416.6,274.7 417.6,274.7 418.6,274.7 419.6,274.69 420.6,274.69 421.6,274.68 422.6,274.68 423.6,274.67 424.6,274.65 425.6,274.64 426.6,274.63 427.6,274.61 428.6,274.59 429.6,274.57 430.6,274.55 431.6,274.53 432.6,274.51 433.6,274.48 434.6,274.46 435.6,274.43 436.6,274.4 437.6,274.37 438.6,274.34 439.6,274.3 440.6,274.27 441.6,274.23 442.6,274.19 443.6,274.15 444.6,274.11 445.6,274.07 446.6,274.02 447.6,273.98 448.6,273.93 449.6,273.88 450.6,273.83 451.6,273.78 452.6,273.73 453.6,273.68 454.6,273.62 455.6,273.57 456.6,273.51 457.6,273.45 458.6,273.39 459.6,273.33 460.6,273.26 461.6,273.16 462.6,273.03 463.6,272.88 464.6,272.69 465.6,272.42 466.6,271.95 467.6,271.35 468.6,270.73 469.6,270.18 470.6,269.75 471.6,269.33 472.6,268.92 473.6,268.59 474.6,268.36 475.6,268.28 476.6,268.24 477.6,268.2 478.6,268.16 479.6,268.14 480.6,268.12 481.6,268.11 482.6,268.1 483.6,268.1 484.6,268.11 485.6,268.13 486.6,268.15 487.6,268.18 488.6,268.22 489.6,268.26 490.6,268.3 491.6,268.38 492.6,268.49 493.6,268.63 494.6,268.79 495.6,268.96 496.6,269.11 497.6,269.25 498.6,269.37 499.6,269.49 500.6,269.61 501.6,269.72 502.6,269.84 503.6,269.95 504.6,270.05 505.6,270.14 506.6,270.21 507.6,270.27 508.6,270.32 509.6,270.35 510.6,270.39 511.6,270.42 512.6,270.45 513.6,270.48 514.6,270.5 515.6,270.52 516.6,270.54 517.6,270.56 518.6,270.58 519.6,270.59 520.6,270.61 521.6,270.62 522.6,270.64 523.6,270.65 524.6,270.67 525.6,270.68 526.6,270.69 527.6,270.71 528.6,270.72 529.6,270.73 530.6,270.74 531.6,270.75 532.6,270.76 533.6,270.77 534.6,270.78 535.6,270.79 536.6,270.79 537.6,270.79 538.6,270.8 539.6,270.8" fill="none" stroke="#f42020" stroke-width="1.35" stroke-linejoin="round" stroke-linecap="round" />
<polyline points="337.6,316.2 338.6,316.1 339.6,316.01 340.6,315.91 341.6,315.81 342.6,315.71 343.6,315.61 344.6,315.51 345.6,315.41 346.6,315.31 347.6,315.21 348.6,315.11 349.6,315.01 350.6,314.91 351.6,314.81 352.6,314.71 353.6,314.6 354.6,314.5 355.6,314.4 356.6,314.3 357.6,314.19 358.6,314.09 359.6,313.98 360.6,313.88 361.6,313.78 362.6,313.67 363.6,313.57 364.6,313.47 365.6,313.37 366.6,313.27 367.6,313.16 368.6,313.06 369.6,312.95 370.6,312.85 371.6,312.74 372.6,312.64 373.6,312.53 374.6,312.41 375.6,312.3 376.6,312.19 377.6,312.07 378.6,311.95 379.6,311.82 380.6,311.7 381.6,311.56 382.6,311.4 383.6,311.24 384.6,311.07 385.6,310.89 386.6,310.71 387.6,310.52 388.6,310.32 389.6,310.13 390.6,309.93 391.6,309.74 392.6,309.54 393.6,309.35 394.6,309.17 395.6,308.99 396.6,308.8 397.6,308.61 398.6,308.41 399.6,308.21 400.6,308 401.6,307.79 402.6,307.58 403.6,307.37 404.6,307.16 405.6,306.95 406.6,306.74 407.6,306.53 408.6,306.33 409.6,306.14 410.6,305.95 411.6,305.77 412.6,305.59 413.6,305.42 414.6,305.27 415.6,305.12 416.6,304.99 417.6,304.87 418.6,304.76 419.6,304.67 420.6,304.59 421.6,304.51 422.6,304.44 423.6,304.37 424.6,304.31 425.6,304.24 426.6,304.18 427.6,304.12 428.6,304.06 429.6,304 430.6,303.95 431.6,303.89 432.6,303.84 433.6,303.79 434.6,303.74 435.6,303.68 436.6,303.63 437.6,303.59 438.6,303.54 439.6,303.49 440.6,303.44 441.6,303.39 442.6,303.36 443.6,303.32 444.6,303.29 445.6,303.26 446.6,303.23 447.6,303.21 448.6,303.19 449.6,303.17 450.6,303.15 451.6,303.13 452.6,303.12 453.6,303.1 454.6,303.09 455.6,303.07 456.6,303.06 457.6,303.04 458.6,303.02 459.6,303.01 460.6,302.99 461.6,302.97 462.6,302.97 463.6,302.96 464.6,302.96 465.6,302.96 466.6,302.97 467.6,302.97 468.6,302.98 469.6,302.99 470.6,302.99 471.6,303 472.6,303 473.6,303 474.6,303 475.6,303 476.6,302.99 477.6,302.97 478.6,302.95 479.6,302.92 480.6,302.89 481.6,302.85 482.6,302.8 483.6,302.74 484.6,302.67 485.6,302.58 486.6,302.41 487.6,302.19 488.6,301.91 489.6,301.59 490.6,301.24 491.6,300.88 492.6,300.51 493.6,300.16 494.6,299.83 495.6,299.53 496.6,299.28 497.6,299.09 498.6,298.97 499.6,298.92 500.6,298.9 501.6,298.93 502.6,298.98 503.6,299.05 504.6,299.15 505.6,299.25 506.6,299.36 507.6,299.47 508.6,299.56 509.6,299.65 510.6,299.72 511.6,299.8 512.6,299.88 513.6,299.97 514.6,300.06 515.6,300.15 516.6,300.23 517.6,300.31 518.6,300.39 519.6,300.45 520.6,300.5 521.6,300.53 522.6,300.54 523.6,300.56 524.6,300.57 525.6,300.58 526.6,300.59 527.6,300.6 528.6,300.6 529.6,300.61 530.6,300.6 531.6,300.6 532.6,300.58 533.6,300.57 534.6,300.55 535.6,300.52 536.6,300.48 537.6,300.44 538.6,300.4 539.6,300.34" fill="none" stroke="#b02fe0" stroke-width="1.3" stroke-linejoin="round" stroke-linecap="round" />
<polyline points="337.6,316.2 338.6,316.12 339.6,316.04 340.6,315.96 341.6,315.89 342.6,315.81 343.6,315.73 344.6,315.65 345.6,315.57 346.6,315.49 347.6,315.42 348.6,315.34 349.6,315.26 350.6,315.18 351.6,315.1 352.6,315.02 353.6,314.94 354.6,314.87 355.6,314.79 356.6,314.71 357.6,314.63 358.6,314.55 359.6,314.47 360.6,314.4 361.6,314.32 362.6,314.24 363.6,314.16 364.6,314.08 365.6,314 366.6,313.93 367.6,313.85 368.6,313.77 369.6,313.69 370.6,313.61 371.6,313.53 372.6,313.45 373.6,313.38 374.6,313.3 375.6,313.22 376.6,313.14 377.6,313.06 378.6,312.98 379.6,312.91 380.6,312.83 381.6,312.75 382.6,312.67 383.6,312.59 384.6,312.51 385.6,312.43 386.6,312.36 387.6,312.28 388.6,312.2 389.6,312.12 390.6,312.04 391.6,311.96 392.6,311.89 393.6,311.81 394.6,311.73 395.6,311.65 396.6,311.57 397.6,311.49 398.6,311.42 399.6,311.34 400.6,311.26 401.6,311.18 402.6,311.1 403.6,311.02 404.6,310.94 405.6,310.87 406.6,310.79 407.6,310.71 408.6,310.63 409.6,310.55 410.6,310.47 411.6,310.4 412.6,310.32 413.6,310.24 414.6,310.16 415.6,310.08 416.6,310 417.6,309.92 418.6,309.85 419.6,309.77 420.6,309.69 421.6,309.61 422.6,309.53 423.6,309.45 424.6,309.38 425.6,309.3 426.6,309.22 427.6,309.14 428.6,309.06 429.6,308.98 430.6,308.9 431.6,308.83 432.6,308.75 433.6,308.67 434.6,308.59 435.6,308.51 436.6,308.43 437.6,308.36 438.6,308.28 439.6,308.2 440.6,308.12 441.6,308.04 442.6,307.96 443.6,307.89 444.6,307.81 445.6,307.73 446.6,307.65 447.6,307.57 448.6,307.49 449.6,307.41 450.6,307.34 451.6,307.26 452.6,307.18 453.6,307.1 454.6,307.02 455.6,306.94 456.6,306.87 457.6,306.79 458.6,306.71 459.6,306.63 460.6,306.55 461.6,306.47 462.6,306.39 463.6,306.32 464.6,306.24 465.6,306.16 466.6,306.08 467.6,306 468.6,305.92 469.6,305.85 470.6,305.77 471.6,305.69 472.6,305.61 473.6,305.53 474.6,305.45 475.6,305.38 476.6,305.3 477.6,305.22 478.6,305.14 479.6,305.06 480.6,304.98 481.6,304.9 482.6,304.83 483.6,304.75 484.6,304.67 485.6,304.59 486.6,304.51 487.6,304.43 488.6,304.36 489.6,304.28 490.6,304.2 491.6,304.12 492.6,304.04 493.6,303.96 494.6,303.88 495.6,303.81 496.6,303.73 497.6,303.65 498.6,303.57 499.6,303.49 500.6,303.41 501.6,303.34 502.6,303.26 503.6,303.18 504.6,303.1 505.6,303.02 506.6,302.94 507.6,302.87 508.6,302.79 509.6,302.71 510.6,302.63 511.6,302.55 512.6,302.47 513.6,302.39 514.6,302.32 515.6,302.24 516.6,302.16 517.6,302.08 518.6,302 519.6,301.92 520.6,301.85 521.6,301.77 522.6,301.69 523.6,301.61 524.6,301.53 525.6,301.45 526.6,301.37 527.6,301.3 528.6,301.22 529.6,301.14 530.6,301.06 531.6,300.98 532.6,300.9 533.6,300.83 534.6,300.75 535.6,300.67 536.6,300.59 537.6,300.51 538.6,300.43 539.6,300.35" fill="none" stroke="#a59c22" stroke-width="1.2" stroke-linejoin="round" stroke-linecap="round" />
<polyline points="342.6,315.74 343.6,315.58 344.6,315.33 345.6,314.93 346.6,314.33 347.6,313.5 348.6,312.44 349.6,311.28 350.6,310.18 351.6,309.37 352.6,309.02 353.6,309.21 354.6,309.87 355.6,310.81 356.6,311.82 357.6,312.71 358.6,313.39 359.6,313.83 360.6,314.07 361.6,314.17 362.6,314.18 363.6,314.14 364.6,314.07 365.6,314" fill="none" stroke="#a59c22" stroke-width="1.25" stroke-linejoin="round" stroke-linecap="round" />
<polyline points="338.6,315.59 339.6,315.31 340.6,314.98 341.6,314.57 342.6,314.08 343.6,313.48 344.6,312.78 345.6,311.96 346.6,311 347.6,309.9 348.6,308.67 349.6,307.31 350.6,305.83 351.6,304.26 352.6,302.62 353.6,300.95 354.6,299.3 355.6,297.7 356.6,296.22 357.6,294.9 358.6,293.78 359.6,292.91 360.6,292.32 361.6,292.02 362.6,292.04 363.6,292.36 364.6,292.96 365.6,293.83 366.6,294.92 367.6,296.18 368.6,297.58 369.6,299.06 370.6,300.57 371.6,302.07 372.6,303.52 373.6,304.88 374.6,306.13 375.6,307.26 376.6,308.26 377.6,309.11 378.6,309.83 379.6,310.43 380.6,310.9 381.6,311.28 382.6,311.56 383.6,311.76 384.6,311.91 385.6,312 386.6,312.04 387.6,312.06 388.6,312.05 389.6,312.02 390.6,311.97 391.6,311.92 392.6,311.85 393.6,311.79 394.6,311.72" fill="none" stroke="#2222ee" stroke-width="1.25" stroke-linejoin="round" stroke-linecap="round" />
<polyline points="352.6,314.92 353.6,314.8 354.6,314.68 355.6,314.54 356.6,314.39 357.6,314.22 358.6,314.03 359.6,313.82 360.6,313.58 361.6,313.32 362.6,313.02 363.6,312.69 364.6,312.32 365.6,311.91 366.6,311.47 367.6,310.99 368.6,310.47 369.6,309.93 370.6,309.36 371.6,308.78 372.6,308.18 373.6,307.59 374.6,307 375.6,306.44 376.6,305.91 377.6,305.42 378.6,304.99 379.6,304.62 380.6,304.33 381.6,304.11 382.6,303.97 383.6,303.92 384.6,303.95 385.6,304.06 386.6,304.24 387.6,304.49 388.6,304.8 389.6,305.16 390.6,305.55 391.6,305.97 392.6,306.41 393.6,306.84 394.6,307.28 395.6,307.7 396.6,308.09 397.6,308.46 398.6,308.8 399.6,309.1 400.6,309.37 401.6,309.59 402.6,309.78 403.6,309.94 404.6,310.06 405.6,310.15 406.6,310.22 407.6,310.26 408.6,310.28 409.6,310.28 410.6,310.26 411.6,310.23" fill="none" stroke="#35d4a8" stroke-width="1.25" stroke-linejoin="round" stroke-linecap="round" />
<polyline points="460.6,306.07 461.6,305.84 462.6,305.56 463.6,305.24 464.6,304.86 465.6,304.44 466.6,303.96 467.6,303.42 468.6,302.83 469.6,302.2 470.6,301.54 471.6,300.86 472.6,300.17 473.6,299.5 474.6,298.87 475.6,298.3 476.6,297.81 477.6,297.41 478.6,297.13 479.6,296.96 480.6,296.92 481.6,297 482.6,297.2 483.6,297.5 484.6,297.88 485.6,298.33 486.6,298.83 487.6,299.36 488.6,299.89 489.6,300.4 490.6,300.89 491.6,301.34 492.6,301.74 493.6,302.09 494.6,302.38 495.6,302.62 496.6,302.8 497.6,302.94 498.6,303.03 499.6,303.09 500.6,303.12 501.6,303.13 502.6,303.11 503.6,303.07 504.6,303.03" fill="none" stroke="#2222ee" stroke-width="1.25" stroke-linejoin="round" stroke-linecap="round" />
<polyline points="400.6,308 401.6,307.79 402.6,307.58 403.6,307.37 404.6,307.16 405.6,306.95 406.6,306.74 407.6,306.53 408.6,306.33 409.6,306.14 410.6,305.95 411.6,305.77 412.6,305.59 413.6,305.42 414.6,305.27 415.6,305.12 416.6,304.99 417.6,304.87 418.6,304.76 419.6,304.67 420.6,304.59 421.6,304.51 422.6,304.44 423.6,304.37 424.6,304.31 425.6,304.24 426.6,304.18 427.6,304.12 428.6,304.06 429.6,304 430.6,303.95 431.6,303.89 432.6,303.84 433.6,303.79 434.6,303.74 435.6,303.68 436.6,303.63 437.6,303.59 438.6,303.54 439.6,303.49 440.6,303.44 441.6,303.39 442.6,303.36 443.6,303.32 444.6,303.29 445.6,303.26 446.6,303.23 447.6,303.21 448.6,303.19 449.6,303.17 450.6,303.15 451.6,303.13 452.6,303.12 453.6,303.1 454.6,303.09 455.6,303.07 456.6,303.06 457.6,303.04 458.6,303.02 459.6,303.01 460.6,302.99 461.6,302.97 462.6,302.97 463.6,302.96 464.6,302.96 465.6,302.96 466.6,302.97 467.6,302.97 468.6,302.98 469.6,302.99 470.6,302.99 471.6,303 472.6,303 473.6,303 474.6,303 475.6,303 476.6,302.99 477.6,302.97 478.6,302.95 479.6,302.92 480.6,302.89 481.6,302.85 482.6,302.8 483.6,302.74 484.6,302.67 485.6,302.58 486.6,302.41 487.6,302.19 488.6,301.91 489.6,301.59 490.6,301.24 491.6,300.88 492.6,300.51 493.6,300.16 494.6,299.83 495.6,299.53 496.6,299.28 497.6,299.09 498.6,298.97 499.6,298.92 500.6,298.9 501.6,298.93 502.6,298.98 503.6,299.05 504.6,299.15 505.6,299.25 506.6,299.36 507.6,299.47 508.6,299.56 509.6,299.65 510.6,299.72 511.6,299.8 512.6,299.88 513.6,299.97 514.6,300.06 515.6,300.15 516.6,300.23 517.6,300.31 518.6,300.39 519.6,300.45 520.6,300.5 521.6,300.53 522.6,300.54 523.6,300.56 524.6,300.57 525.6,300.58 526.6,300.59 527.6,300.6 528.6,300.6 529.6,300.61 530.6,300.6 531.6,300.6 532.6,300.58 533.6,300.57 534.6,300.55 535.6,300.52 536.6,300.48 537.6,300.44 538.6,300.4 539.6,300.34" fill="none" stroke="#b02fe0" stroke-width="1.3" stroke-linejoin="round" stroke-linecap="round" />
<polyline points="337.6,316 338.6,315.65 339.6,315.26 340.6,314.86 341.6,314.45 342.6,314.02 343.6,313.54 344.6,312.96 345.6,312.26 346.6,311.35 347.6,310.11 348.6,308.1 349.6,304.79 350.6,301.6 351.6,298.5 352.6,296.21 353.6,294.28 354.6,292.81 355.6,291.92 356.6,291.29 357.6,290.79 358.6,290.32 359.6,289.87 360.6,289.47 361.6,289.12 362.6,288.8 363.6,288.53 364.6,288.54 365.6,288.77 366.6,289.14 367.6,289.6 368.6,290.2 369.6,291.22 370.6,292.44 371.6,293.61 372.6,294.55 373.6,295.46 374.6,296.3 375.6,296.99 376.6,297.48 377.6,297.88 378.6,298.21 379.6,298.5 380.6,298.74 381.6,298.96 382.6,299.16 383.6,299.34 384.6,299.51 385.6,299.67 386.6,299.83 387.6,299.99 388.6,300.15 389.6,300.33 390.6,300.51 391.6,300.71 392.6,300.9 393.6,301.1 394.6,301.29 395.6,301.5 396.6,301.7 397.6,301.9 398.6,302.11 399.6,302.32 400.6,302.53 401.6,302.78 402.6,303.06 403.6,303.34 404.6,303.62 405.6,303.89 406.6,304.14 407.6,304.34 408.6,304.49 409.6,304.58 410.6,304.61 411.6,304.63 412.6,304.65 413.6,304.67 414.6,304.68 415.6,304.69 416.6,304.7 417.6,304.7 418.6,304.7 419.6,304.69 420.6,304.68 421.6,304.65 422.6,304.63 423.6,304.59 424.6,304.56 425.6,304.51 426.6,304.46 427.6,304.41 428.6,304.36 429.6,304.3 430.6,304.24 431.6,304.17 432.6,304.11 433.6,304.04 434.6,303.97 435.6,303.9 436.6,303.83 437.6,303.76 438.6,303.7 439.6,303.63 440.6,303.56 441.6,303.49 442.6,303.43 443.6,303.36 444.6,303.29 445.6,303.22 446.6,303.14 447.6,303.07 448.6,302.98 449.6,302.9 450.6,302.81 451.6,302.71 452.6,302.61 453.6,302.5 454.6,302.38 455.6,302.26 456.6,302.12 457.6,301.98 458.6,301.83 459.6,301.67 460.6,301.48 461.6,301.24 462.6,300.93 463.6,300.57 464.6,300.17 465.6,299.73 466.6,299.27 467.6,298.79 468.6,298.28 469.6,297.63 470.6,296.9 471.6,296.14 472.6,295.43 473.6,294.81 474.6,294.3 475.6,293.79 476.6,293.29 477.6,292.85 478.6,292.51 479.6,292.33 480.6,292.31 481.6,292.39 482.6,292.53 483.6,292.72 484.6,292.95 485.6,293.18 486.6,293.41 487.6,293.64 488.6,293.89 489.6,294.18 490.6,294.48 491.6,294.8 492.6,295.11 493.6,295.41 494.6,295.69 495.6,295.95 496.6,296.21 497.6,296.46 498.6,296.71 499.6,296.95 500.6,297.18 501.6,297.41 502.6,297.63 503.6,297.83 504.6,298.03 505.6,298.21 506.6,298.38 507.6,298.56 508.6,298.72 509.6,298.88 510.6,299.03 511.6,299.18 512.6,299.31 513.6,299.44 514.6,299.56 515.6,299.67 516.6,299.78 517.6,299.88 518.6,299.98 519.6,300.07 520.6,300.14 521.6,300.19 522.6,300.21 523.6,300.23 524.6,300.25 525.6,300.27 526.6,300.29 527.6,300.3 528.6,300.32 529.6,300.33 530.6,300.34 531.6,300.35 532.6,300.36 533.6,300.37 534.6,300.38 535.6,300.39 536.6,300.39 537.6,300.4 538.6,300.4 539.6,300.4" fill="none" stroke="#f42020" stroke-width="1.35" stroke-linejoin="round" stroke-linecap="round" />
<polyline points="337.6,352.3 338.6,352.23 339.6,352.16 340.6,352.09 341.6,352.02 342.6,351.94 343.6,351.87 344.6,351.79 345.6,351.72 346.6,351.64 347.6,351.56 348.6,351.48 349.6,351.4 350.6,351.32 351.6,351.23 352.6,351.15 353.6,351.07 354.6,350.98 355.6,350.9 356.6,350.81 357.6,350.73 358.6,350.64 359.6,350.55 360.6,350.47 361.6,350.38 362.6,350.29 363.6,350.19 364.6,350.1 365.6,350 366.6,349.91 367.6,349.81 368.6,349.71 369.6,349.6 370.6,349.5 371.6,349.4 372.6,349.29 373.6,349.19 374.6,349.08 375.6,348.97 376.6,348.86 377.6,348.75 378.6,348.64 379.6,348.53 380.6,348.42 381.6,348.3 382.6,348.19 383.6,348.07 384.6,347.95 385.6,347.82 386.6,347.7 387.6,347.57 388.6,347.44 389.6,347.32 390.6,347.19 391.6,347.05 392.6,346.92 393.6,346.79 394.6,346.66 395.6,346.53 396.6,346.4 397.6,346.26 398.6,346.13 399.6,346 400.6,345.87 401.6,345.74 402.6,345.59 403.6,345.45 404.6,345.3 405.6,345.14 406.6,344.99 407.6,344.83 408.6,344.68 409.6,344.53 410.6,344.38 411.6,344.23 412.6,344.09 413.6,343.96 414.6,343.83 415.6,343.71 416.6,343.6 417.6,343.51 418.6,343.42 419.6,343.34 420.6,343.28 421.6,343.22 422.6,343.17 423.6,343.11 424.6,343.06 425.6,343.01 426.6,342.96 427.6,342.91 428.6,342.86 429.6,342.82 430.6,342.78 431.6,342.73 432.6,342.69 433.6,342.65 434.6,342.61 435.6,342.57 436.6,342.53 437.6,342.48 438.6,342.44 439.6,342.4 440.6,342.36 441.6,342.32 442.6,342.28 443.6,342.25 444.6,342.21 445.6,342.18 446.6,342.15 447.6,342.12 448.6,342.09 449.6,342.06 450.6,342.03 451.6,342.01 452.6,341.98 453.6,341.95 454.6,341.92 455.6,341.89 456.6,341.86 457.6,341.83 458.6,341.8 459.6,341.77 460.6,341.73 461.6,341.7 462.6,341.67 463.6,341.63 464.6,341.6 465.6,341.57 466.6,341.54 467.6,341.51 468.6,341.48 469.6,341.45 470.6,341.42 471.6,341.39 472.6,341.36 473.6,341.33 474.6,341.29 475.6,341.26 476.6,341.22 477.6,341.18 478.6,341.14 479.6,341.1 480.6,341.05 481.6,341 482.6,340.95 483.6,340.89 484.6,340.83 485.6,340.76 486.6,340.65 487.6,340.49 488.6,340.3 489.6,340.08 490.6,339.84 491.6,339.58 492.6,339.32 493.6,339.06 494.6,338.81 495.6,338.57 496.6,338.36 497.6,338.17 498.6,338.02 499.6,337.91 500.6,337.85 501.6,337.83 502.6,337.84 503.6,337.87 504.6,337.92 505.6,337.99 506.6,338.07 507.6,338.16 508.6,338.25 509.6,338.34 510.6,338.43 511.6,338.52 512.6,338.59 513.6,338.68 514.6,338.77 515.6,338.88 516.6,338.99 517.6,339.11 518.6,339.22 519.6,339.33 520.6,339.43 521.6,339.53 522.6,339.61 523.6,339.68 524.6,339.73 525.6,339.76 526.6,339.79 527.6,339.82 528.6,339.85 529.6,339.87 530.6,339.89 531.6,339.9 532.6,339.92 533.6,339.92 534.6,339.92 535.6,339.92 536.6,339.91 537.6,339.89 538.6,339.86 539.6,339.83" fill="none" stroke="#b02fe0" stroke-width="1.3" stroke-linejoin="round" stroke-linecap="round" />
<polyline points="337.6,352.3 338.6,352.24 339.6,352.18 340.6,352.11 341.6,352.05 342.6,351.99 343.6,351.93 344.6,351.87 345.6,351.81 346.6,351.74 347.6,351.68 348.6,351.62 349.6,351.56 350.6,351.5 351.6,351.44 352.6,351.37 353.6,351.31 354.6,351.25 355.6,351.19 356.6,351.13 357.6,351.07 358.6,351 359.6,350.94 360.6,350.88 361.6,350.82 362.6,350.76 363.6,350.7 364.6,350.63 365.6,350.57 366.6,350.51 367.6,350.45 368.6,350.39 369.6,350.33 370.6,350.26 371.6,350.2 372.6,350.14 373.6,350.08 374.6,350.02 375.6,349.96 376.6,349.89 377.6,349.83 378.6,349.77 379.6,349.71 380.6,349.65 381.6,349.59 382.6,349.52 383.6,349.46 384.6,349.4 385.6,349.34 386.6,349.28 387.6,349.22 388.6,349.15 389.6,349.09 390.6,349.03 391.6,348.97 392.6,348.91 393.6,348.85 394.6,348.78 395.6,348.72 396.6,348.66 397.6,348.6 398.6,348.54 399.6,348.48 400.6,348.41 401.6,348.35 402.6,348.29 403.6,348.23 404.6,348.17 405.6,348.11 406.6,348.04 407.6,347.98 408.6,347.92 409.6,347.86 410.6,347.8 411.6,347.74 412.6,347.67 413.6,347.61 414.6,347.55 415.6,347.49 416.6,347.43 417.6,347.37 418.6,347.3 419.6,347.24 420.6,347.18 421.6,347.12 422.6,347.06 423.6,347 424.6,346.93 425.6,346.87 426.6,346.81 427.6,346.75 428.6,346.69 429.6,346.63 430.6,346.56 431.6,346.5 432.6,346.44 433.6,346.38 434.6,346.32 435.6,346.26 436.6,346.19 437.6,346.13 438.6,346.07 439.6,346.01 440.6,345.95 441.6,345.89 442.6,345.82 443.6,345.76 444.6,345.7 445.6,345.64 446.6,345.58 447.6,345.52 448.6,345.45 449.6,345.39 450.6,345.33 451.6,345.27 452.6,345.21 453.6,345.15 454.6,345.08 455.6,345.02 456.6,344.96 457.6,344.9 458.6,344.84 459.6,344.78 460.6,344.71 461.6,344.65 462.6,344.59 463.6,344.53 464.6,344.47 465.6,344.41 466.6,344.34 467.6,344.28 468.6,344.22 469.6,344.16 470.6,344.1 471.6,344.04 472.6,343.97 473.6,343.91 474.6,343.85 475.6,343.79 476.6,343.73 477.6,343.67 478.6,343.6 479.6,343.54 480.6,343.48 481.6,343.42 482.6,343.36 483.6,343.3 484.6,343.23 485.6,343.17 486.6,343.11 487.6,343.05 488.6,342.99 489.6,342.93 490.6,342.86 491.6,342.8 492.6,342.74 493.6,342.68 494.6,342.62 495.6,342.56 496.6,342.49 497.6,342.43 498.6,342.37 499.6,342.31 500.6,342.25 501.6,342.19 502.6,342.12 503.6,342.06 504.6,342 505.6,341.94 506.6,341.88 507.6,341.82 508.6,341.75 509.6,341.69 510.6,341.63 511.6,341.57 512.6,341.51 513.6,341.45 514.6,341.38 515.6,341.32 516.6,341.26 517.6,341.2 518.6,341.14 519.6,341.08 520.6,341.01 521.6,340.95 522.6,340.89 523.6,340.83 524.6,340.77 525.6,340.71 526.6,340.64 527.6,340.58 528.6,340.52 529.6,340.46 530.6,340.4 531.6,340.34 532.6,340.27 533.6,340.21 534.6,340.15 535.6,340.09 536.6,340.03 537.6,339.97 538.6,339.9 539.6,339.84" fill="none" stroke="#a59c22" stroke-width="1.2" stroke-linejoin="round" stroke-linecap="round" />
<polyline points="343.6,351.88 344.6,351.75 345.6,351.55 346.6,351.25 347.6,350.81 348.6,350.2 349.6,349.44 350.6,348.6 351.6,347.8 352.6,347.2 353.6,346.92 354.6,347 355.6,347.43 356.6,348.07 357.6,348.79 358.6,349.45 359.6,349.97 360.6,350.32 361.6,350.53 362.6,350.62 363.6,350.63 364.6,350.61" fill="none" stroke="#a59c22" stroke-width="1.25" stroke-linejoin="round" stroke-linecap="round" />
<polyline points="338.6,351.83 339.6,351.62 340.6,351.35 341.6,351.03 342.6,350.64 343.6,350.17 344.6,349.62 345.6,348.96 346.6,348.19 347.6,347.32 348.6,346.34 349.6,345.26 350.6,344.09 351.6,342.86 352.6,341.58 353.6,340.29 354.6,339.02 355.6,337.82 356.6,336.73 357.6,335.78 358.6,335.01 359.6,334.45 360.6,334.13 361.6,334.04 362.6,334.2 363.6,334.59 364.6,335.19 365.6,335.99 366.6,336.93 367.6,337.99 368.6,339.12 369.6,340.28 370.6,341.44 371.6,342.57 372.6,343.63 373.6,344.6 374.6,345.48 375.6,346.25 376.6,346.91 377.6,347.47 378.6,347.92 379.6,348.29 380.6,348.57 381.6,348.78 382.6,348.93 383.6,349.03 384.6,349.09 385.6,349.12 386.6,349.13 387.6,349.11 388.6,349.08 389.6,349.05 390.6,349 391.6,348.95" fill="none" stroke="#2222ee" stroke-width="1.25" stroke-linejoin="round" stroke-linecap="round" />
<polyline points="352.6,351.2 353.6,351.09 354.6,350.96 355.6,350.81 356.6,350.65 357.6,350.47 358.6,350.27 359.6,350.03 360.6,349.77 361.6,349.48 362.6,349.16 363.6,348.81 364.6,348.42 365.6,348 366.6,347.55 367.6,347.08 368.6,346.59 369.6,346.08 370.6,345.57 371.6,345.06 372.6,344.56 373.6,344.08 374.6,343.63 375.6,343.22 376.6,342.86 377.6,342.56 378.6,342.32 379.6,342.15 380.6,342.05 381.6,342.02 382.6,342.07 383.6,342.19 384.6,342.36 385.6,342.6 386.6,342.89 387.6,343.21 388.6,343.57 389.6,343.95 390.6,344.34 391.6,344.73 392.6,345.11 393.6,345.48 394.6,345.83 395.6,346.15 396.6,346.45 397.6,346.71 398.6,346.94 399.6,347.14 400.6,347.31 401.6,347.44 402.6,347.55 403.6,347.63 404.6,347.69 405.6,347.73 406.6,347.75 407.6,347.76 408.6,347.75 409.6,347.73" fill="none" stroke="#35d4a8" stroke-width="1.25" stroke-linejoin="round" stroke-linecap="round" />
<polyline points="461.6,344.23 462.6,344.03 463.6,343.81 464.6,343.55 465.6,343.25 466.6,342.91 467.6,342.53 468.6,342.12 469.6,341.68 470.6,341.21 471.6,340.72 472.6,340.23 473.6,339.75 474.6,339.3 475.6,338.88 476.6,338.51 477.6,338.21 478.6,337.99 479.6,337.85 480.6,337.8 481.6,337.83 482.6,337.95 483.6,338.14 484.6,338.39 485.6,338.69 486.6,339.03 487.6,339.39 488.6,339.76 489.6,340.12 490.6,340.46 491.6,340.78 492.6,341.06 493.6,341.3 494.6,341.51 495.6,341.68 496.6,341.81 497.6,341.91 498.6,341.97 499.6,342.01 500.6,342.03 501.6,342.03 502.6,342.01" fill="none" stroke="#2222ee" stroke-width="1.25" stroke-linejoin="round" stroke-linecap="round" />
<polyline points="400.6,345.87 401.6,345.74 402.6,345.59 403.6,345.45 404.6,345.3 405.6,345.14 406.6,344.99 407.6,344.83 408.6,344.68 409.6,344.53 410.6,344.38 411.6,344.23 412.6,344.09 413.6,343.96 414.6,343.83 415.6,343.71 416.6,343.6 417.6,343.51 418.6,343.42 419.6,343.34 420.6,343.28 421.6,343.22 422.6,343.17 423.6,343.11 424.6,343.06 425.6,343.01 426.6,342.96 427.6,342.91 428.6,342.86 429.6,342.82 430.6,342.78 431.6,342.73 432.6,342.69 433.6,342.65 434.6,342.61 435.6,342.57 436.6,342.53 437.6,342.48 438.6,342.44 439.6,342.4 440.6,342.36 441.6,342.32 442.6,342.28 443.6,342.25 444.6,342.21 445.6,342.18 446.6,342.15 447.6,342.12 448.6,342.09 449.6,342.06 450.6,342.03 451.6,342.01 452.6,341.98 453.6,341.95 454.6,341.92 455.6,341.89 456.6,341.86 457.6,341.83 458.6,341.8 459.6,341.77 460.6,341.73 461.6,341.7 462.6,341.67 463.6,341.63 464.6,341.6 465.6,341.57 466.6,341.54 467.6,341.51 468.6,341.48 469.6,341.45 470.6,341.42 471.6,341.39 472.6,341.36 473.6,341.33 474.6,341.29 475.6,341.26 476.6,341.22 477.6,341.18 478.6,341.14 479.6,341.1 480.6,341.05 481.6,341 482.6,340.95 483.6,340.89 484.6,340.83 485.6,340.76 486.6,340.65 487.6,340.49 488.6,340.3 489.6,340.08 490.6,339.84 491.6,339.58 492.6,339.32 493.6,339.06 494.6,338.81 495.6,338.57 496.6,338.36 497.6,338.17 498.6,338.02 499.6,337.91 500.6,337.85 501.6,337.83 502.6,337.84 503.6,337.87 504.6,337.92 505.6,337.99 506.6,338.07 507.6,338.16 508.6,338.25 509.6,338.34 510.6,338.43 511.6,338.52 512.6,338.59 513.6,338.68 514.6,338.77 515.6,338.88 516.6,338.99 517.6,339.11 518.6,339.22 519.6,339.33 520.6,339.43 521.6,339.53 522.6,339.61 523.6,339.68 524.6,339.73 525.6,339.76 526.6,339.79 527.6,339.82 528.6,339.85 529.6,339.87 530.6,339.89 531.6,339.9 532.6,339.92 533.6,339.92 534.6,339.92 535.6,339.92 536.6,339.91 537.6,339.89 538.6,339.86 539.6,339.83" fill="none" stroke="#b02fe0" stroke-width="1.3" stroke-linejoin="round" stroke-linecap="round" />
<polyline points="337.6,352.3 338.6,352.17 339.6,351.89 340.6,351.52 341.6,351.08 342.6,350.58 343.6,349.89 344.6,349.01 345.6,347.83 346.6,346.06 347.6,343.94 348.6,341.76 349.6,339.84 350.6,338.33 351.6,336.91 352.6,335.6 353.6,334.45 354.6,333.5 355.6,332.79 356.6,332.15 357.6,331.59 358.6,331.14 359.6,330.8 360.6,330.57 361.6,330.38 362.6,330.25 363.6,330.2 364.6,330.41 365.6,330.89 366.6,331.51 367.6,332.16 368.6,332.78 369.6,333.5 370.6,334.26 371.6,334.96 372.6,335.54 373.6,336.09 374.6,336.6 375.6,337.06 376.6,337.46 377.6,337.8 378.6,338.09 379.6,338.36 380.6,338.6 381.6,338.83 382.6,339.06 383.6,339.28 384.6,339.51 385.6,339.74 386.6,339.99 387.6,340.23 388.6,340.47 389.6,340.71 390.6,340.95 391.6,341.18 392.6,341.4 393.6,341.62 394.6,341.82 395.6,342.02 396.6,342.21 397.6,342.4 398.6,342.59 399.6,342.76 400.6,342.91 401.6,343.05 402.6,343.17 403.6,343.29 404.6,343.41 405.6,343.52 406.6,343.63 407.6,343.71 408.6,343.77 409.6,343.8 410.6,343.79 411.6,343.76 412.6,343.71 413.6,343.64 414.6,343.56 415.6,343.48 416.6,343.4 417.6,343.32 418.6,343.26 419.6,343.21 420.6,343.15 421.6,343.09 422.6,343.04 423.6,342.98 424.6,342.93 425.6,342.88 426.6,342.82 427.6,342.77 428.6,342.72 429.6,342.67 430.6,342.61 431.6,342.56 432.6,342.51 433.6,342.45 434.6,342.4 435.6,342.35 436.6,342.29 437.6,342.24 438.6,342.18 439.6,342.12 440.6,342.07 441.6,342.01 442.6,341.96 443.6,341.91 444.6,341.87 445.6,341.82 446.6,341.77 447.6,341.73 448.6,341.68 449.6,341.63 450.6,341.57 451.6,341.51 452.6,341.45 453.6,341.38 454.6,341.31 455.6,341.23 456.6,341.14 457.6,341.04 458.6,340.93 459.6,340.76 460.6,340.55 461.6,340.3 462.6,340.04 463.6,339.77 464.6,339.5 465.6,339.25 466.6,339 467.6,338.75 468.6,338.47 469.6,338.14 470.6,337.74 471.6,337.21 472.6,336.6 473.6,335.97 474.6,335.4 475.6,334.9 476.6,334.37 477.6,333.86 478.6,333.45 479.6,333.22 480.6,333.21 481.6,333.29 482.6,333.41 483.6,333.57 484.6,333.76 485.6,333.95 486.6,334.13 487.6,334.3 488.6,334.49 489.6,334.69 490.6,334.89 491.6,335.1 492.6,335.31 493.6,335.52 494.6,335.72 495.6,335.91 496.6,336.11 497.6,336.3 498.6,336.49 499.6,336.68 500.6,336.87 501.6,337.05 502.6,337.22 503.6,337.39 504.6,337.54 505.6,337.69 506.6,337.83 507.6,337.96 508.6,338.09 509.6,338.22 510.6,338.34 511.6,338.46 512.6,338.57 513.6,338.67 514.6,338.76 515.6,338.85 516.6,338.94 517.6,339.03 518.6,339.12 519.6,339.2 520.6,339.28 521.6,339.35 522.6,339.41 523.6,339.45 524.6,339.49 525.6,339.51 526.6,339.54 527.6,339.56 528.6,339.58 529.6,339.6 530.6,339.61 531.6,339.63 532.6,339.64 533.6,339.66 534.6,339.67 535.6,339.68 536.6,339.69 537.6,339.69 538.6,339.7 539.6,339.7" fill="none" stroke="#f42020" stroke-width="1.35" stroke-linejoin="round" stroke-linecap="round" />
<polyline points="337.6,383.7 338.6,383.62 339.6,383.54 340.6,383.47 341.6,383.39 342.6,383.31 343.6,383.23 344.6,383.15 345.6,383.07 346.6,382.99 347.6,382.91 348.6,382.83 349.6,382.75 350.6,382.66 351.6,382.58 352.6,382.5 353.6,382.41 354.6,382.33 355.6,382.25 356.6,382.16 357.6,382.08 358.6,381.99 359.6,381.91 360.6,381.82 361.6,381.74 362.6,381.65 363.6,381.57 364.6,381.48 365.6,381.39 366.6,381.31 367.6,381.22 368.6,381.13 369.6,381.05 370.6,380.96 371.6,380.87 372.6,380.78 373.6,380.69 374.6,380.6 375.6,380.51 376.6,380.42 377.6,380.33 378.6,380.24 379.6,380.15 380.6,380.06 381.6,379.96 382.6,379.87 383.6,379.78 384.6,379.68 385.6,379.59 386.6,379.49 387.6,379.39 388.6,379.3 389.6,379.2 390.6,379.1 391.6,379 392.6,378.9 393.6,378.8 394.6,378.7 395.6,378.59 396.6,378.49 397.6,378.38 398.6,378.28 399.6,378.17 400.6,378.06 401.6,377.94 402.6,377.82 403.6,377.68 404.6,377.54 405.6,377.4 406.6,377.25 407.6,377.1 408.6,376.94 409.6,376.79 410.6,376.63 411.6,376.48 412.6,376.34 413.6,376.19 414.6,376.05 415.6,375.92 416.6,375.8 417.6,375.69 418.6,375.58 419.6,375.49 420.6,375.41 421.6,375.33 422.6,375.25 423.6,375.17 424.6,375.09 425.6,375.01 426.6,374.93 427.6,374.86 428.6,374.78 429.6,374.71 430.6,374.63 431.6,374.56 432.6,374.49 433.6,374.41 434.6,374.34 435.6,374.27 436.6,374.21 437.6,374.14 438.6,374.07 439.6,374.01 440.6,373.95 441.6,373.9 442.6,373.86 443.6,373.83 444.6,373.81 445.6,373.79 446.6,373.78 447.6,373.78 448.6,373.78 449.6,373.78 450.6,373.78 451.6,373.78 452.6,373.78 453.6,373.78 454.6,373.77 455.6,373.76 456.6,373.74 457.6,373.71 458.6,373.68 459.6,373.63 460.6,373.58 461.6,373.52 462.6,373.46 463.6,373.41 464.6,373.35 465.6,373.29 466.6,373.23 467.6,373.18 468.6,373.12 469.6,373.06 470.6,373 471.6,372.94 472.6,372.88 473.6,372.82 474.6,372.76 475.6,372.7 476.6,372.64 477.6,372.58 478.6,372.52 479.6,372.46 480.6,372.4 481.6,372.33 482.6,372.27 483.6,372.21 484.6,372.14 485.6,372.08 486.6,371.99 487.6,371.88 488.6,371.75 489.6,371.61 490.6,371.46 491.6,371.29 492.6,371.12 493.6,370.94 494.6,370.76 495.6,370.57 496.6,370.39 497.6,370.21 498.6,370.04 499.6,369.88 500.6,369.72 501.6,369.59 502.6,369.46 503.6,369.36 504.6,369.27 505.6,369.22 506.6,369.19 507.6,369.2 508.6,369.24 509.6,369.3 510.6,369.39 511.6,369.48 512.6,369.59 513.6,369.71 514.6,369.82 515.6,369.94 516.6,370.04 517.6,370.14 518.6,370.22 519.6,370.28 520.6,370.31 521.6,370.35 522.6,370.38 523.6,370.42 524.6,370.45 525.6,370.48 526.6,370.5 527.6,370.53 528.6,370.55 529.6,370.57 530.6,370.59 531.6,370.6 532.6,370.62 533.6,370.62 534.6,370.63 535.6,370.63 536.6,370.63 537.6,370.63 538.6,370.62 539.6,370.61" fill="none" stroke="#b02fe0" stroke-width="1.3" stroke-linejoin="round" stroke-linecap="round" />
<polyline points="337.6,383.7 338.6,383.64 339.6,383.57 340.6,383.51 341.6,383.45 342.6,383.38 343.6,383.32 344.6,383.25 345.6,383.19 346.6,383.13 347.6,383.06 348.6,383 349.6,382.94 350.6,382.87 351.6,382.81 352.6,382.75 353.6,382.68 354.6,382.62 355.6,382.55 356.6,382.49 357.6,382.43 358.6,382.36 359.6,382.3 360.6,382.24 361.6,382.17 362.6,382.11 363.6,382.05 364.6,381.98 365.6,381.92 366.6,381.85 367.6,381.79 368.6,381.73 369.6,381.66 370.6,381.6 371.6,381.54 372.6,381.47 373.6,381.41 374.6,381.35 375.6,381.28 376.6,381.22 377.6,381.15 378.6,381.09 379.6,381.03 380.6,380.96 381.6,380.9 382.6,380.84 383.6,380.77 384.6,380.71 385.6,380.65 386.6,380.58 387.6,380.52 388.6,380.45 389.6,380.39 390.6,380.33 391.6,380.26 392.6,380.2 393.6,380.14 394.6,380.07 395.6,380.01 396.6,379.95 397.6,379.88 398.6,379.82 399.6,379.75 400.6,379.69 401.6,379.63 402.6,379.56 403.6,379.5 404.6,379.44 405.6,379.37 406.6,379.31 407.6,379.25 408.6,379.18 409.6,379.12 410.6,379.05 411.6,378.99 412.6,378.93 413.6,378.86 414.6,378.8 415.6,378.74 416.6,378.67 417.6,378.61 418.6,378.55 419.6,378.48 420.6,378.42 421.6,378.35 422.6,378.29 423.6,378.23 424.6,378.16 425.6,378.1 426.6,378.04 427.6,377.97 428.6,377.91 429.6,377.85 430.6,377.78 431.6,377.72 432.6,377.65 433.6,377.59 434.6,377.53 435.6,377.46 436.6,377.4 437.6,377.34 438.6,377.27 439.6,377.21 440.6,377.14 441.6,377.08 442.6,377.02 443.6,376.95 444.6,376.89 445.6,376.83 446.6,376.76 447.6,376.7 448.6,376.64 449.6,376.57 450.6,376.51 451.6,376.44 452.6,376.38 453.6,376.32 454.6,376.25 455.6,376.19 456.6,376.13 457.6,376.06 458.6,376 459.6,375.94 460.6,375.87 461.6,375.81 462.6,375.74 463.6,375.68 464.6,375.62 465.6,375.55 466.6,375.49 467.6,375.43 468.6,375.36 469.6,375.3 470.6,375.24 471.6,375.17 472.6,375.11 473.6,375.04 474.6,374.98 475.6,374.92 476.6,374.85 477.6,374.79 478.6,374.73 479.6,374.66 480.6,374.6 481.6,374.54 482.6,374.47 483.6,374.41 484.6,374.34 485.6,374.28 486.6,374.22 487.6,374.15 488.6,374.09 489.6,374.03 490.6,373.96 491.6,373.9 492.6,373.84 493.6,373.77 494.6,373.71 495.6,373.64 496.6,373.58 497.6,373.52 498.6,373.45 499.6,373.39 500.6,373.33 501.6,373.26 502.6,373.2 503.6,373.14 504.6,373.07 505.6,373.01 506.6,372.94 507.6,372.88 508.6,372.82 509.6,372.75 510.6,372.69 511.6,372.63 512.6,372.56 513.6,372.5 514.6,372.44 515.6,372.37 516.6,372.31 517.6,372.24 518.6,372.18 519.6,372.12 520.6,372.05 521.6,371.99 522.6,371.93 523.6,371.86 524.6,371.8 525.6,371.74 526.6,371.67 527.6,371.61 528.6,371.54 529.6,371.48 530.6,371.42 531.6,371.35 532.6,371.29 533.6,371.23 534.6,371.16 535.6,371.1 536.6,371.04 537.6,370.97 538.6,370.91 539.6,370.84" fill="none" stroke="#a59c22" stroke-width="1.2" stroke-linejoin="round" stroke-linecap="round" />
<polyline points="343.6,383.24 344.6,383.07 345.6,382.82 346.6,382.44 347.6,381.89 348.6,381.16 349.6,380.28 350.6,379.37 351.6,378.57 352.6,378.05 353.6,377.9 354.6,378.16 355.6,378.74 356.6,379.5 357.6,380.27 358.6,380.94 359.6,381.44 360.6,381.76 361.6,381.93 362.6,382 363.6,382 364.6,381.96" fill="none" stroke="#a59c22" stroke-width="1.25" stroke-linejoin="round" stroke-linecap="round" />
<polyline points="338.6,383.05 339.6,382.79 340.6,382.48 341.6,382.11 342.6,381.66 343.6,381.14 344.6,380.53 345.6,379.82 346.6,379.01 347.6,378.09 348.6,377.08 349.6,375.98 350.6,374.79 351.6,373.54 352.6,372.25 353.6,370.94 354.6,369.65 355.6,368.41 356.6,367.26 357.6,366.22 358.6,365.35 359.6,364.65 360.6,364.16 361.6,363.89 362.6,363.85 363.6,364.04 364.6,364.44 365.6,365.05 366.6,365.83 367.6,366.77 368.6,367.81 369.6,368.94 370.6,370.1 371.6,371.28 372.6,372.44 373.6,373.56 374.6,374.6 375.6,375.56 376.6,376.43 377.6,377.19 378.6,377.85 379.6,378.42 380.6,378.88 381.6,379.26 382.6,379.57 383.6,379.8 384.6,379.97 385.6,380.09 386.6,380.17 387.6,380.22 388.6,380.24 389.6,380.24 390.6,380.22 391.6,380.19 392.6,380.15 393.6,380.1 394.6,380.05" fill="none" stroke="#2222ee" stroke-width="1.25" stroke-linejoin="round" stroke-linecap="round" />
<polyline points="352.6,382.67 353.6,382.59 354.6,382.5 355.6,382.4 356.6,382.29 357.6,382.17 358.6,382.04 359.6,381.9 360.6,381.75 361.6,381.57 362.6,381.38 363.6,381.17 364.6,380.93 365.6,380.68 366.6,380.4 367.6,380.1 368.6,379.77 369.6,379.42 370.6,379.05 371.6,378.66 372.6,378.26 373.6,377.84 374.6,377.42 375.6,377 376.6,376.59 377.6,376.19 378.6,375.8 379.6,375.45 380.6,375.12 381.6,374.83 382.6,374.59 383.6,374.39 384.6,374.24 385.6,374.15 386.6,374.1 387.6,374.11 388.6,374.17 389.6,374.28 390.6,374.44 391.6,374.63 392.6,374.85 393.6,375.1 394.6,375.38 395.6,375.66 396.6,375.95 397.6,376.25 398.6,376.53 399.6,376.81 400.6,377.08 401.6,377.32 402.6,377.55 403.6,377.75 404.6,377.93 405.6,378.09 406.6,378.23 407.6,378.34 408.6,378.42 409.6,378.49 410.6,378.54 411.6,378.58 412.6,378.59 413.6,378.6 414.6,378.59" fill="none" stroke="#35d4a8" stroke-width="1.25" stroke-linejoin="round" stroke-linecap="round" />
<polyline points="461.6,375.29 462.6,375.05 463.6,374.77 464.6,374.45 465.6,374.07 466.6,373.64 467.6,373.16 468.6,372.63 469.6,372.06 470.6,371.46 471.6,370.85 472.6,370.25 473.6,369.67 474.6,369.13 475.6,368.67 476.6,368.29 477.6,368.01 478.6,367.84 479.6,367.78 480.6,367.85 481.6,368.02 482.6,368.3 483.6,368.65 484.6,369.07 485.6,369.53 486.6,370.01 487.6,370.49 488.6,370.95 489.6,371.39 490.6,371.78 491.6,372.13 492.6,372.42 493.6,372.66 494.6,372.85 495.6,372.99 496.6,373.09 497.6,373.16 498.6,373.2 499.6,373.21 500.6,373.2 501.6,373.18" fill="none" stroke="#2222ee" stroke-width="1.25" stroke-linejoin="round" stroke-linecap="round" />
<polyline points="400.6,378.06 401.6,377.94 402.6,377.82 403.6,377.68 404.6,377.54 405.6,377.4 406.6,377.25 407.6,377.1 408.6,376.94 409.6,376.79 410.6,376.63 411.6,376.48 412.6,376.34 413.6,376.19 414.6,376.05 415.6,375.92 416.6,375.8 417.6,375.69 418.6,375.58 419.6,375.49 420.6,375.41 421.6,375.33 422.6,375.25 423.6,375.17 424.6,375.09 425.6,375.01 426.6,374.93 427.6,374.86 428.6,374.78 429.6,374.71 430.6,374.63 431.6,374.56 432.6,374.49 433.6,374.41 434.6,374.34 435.6,374.27 436.6,374.21 437.6,374.14 438.6,374.07 439.6,374.01 440.6,373.95 441.6,373.9 442.6,373.86 443.6,373.83 444.6,373.81 445.6,373.79 446.6,373.78 447.6,373.78 448.6,373.78 449.6,373.78 450.6,373.78 451.6,373.78 452.6,373.78 453.6,373.78 454.6,373.77 455.6,373.76 456.6,373.74 457.6,373.71 458.6,373.68 459.6,373.63 460.6,373.58 461.6,373.52 462.6,373.46 463.6,373.41 464.6,373.35 465.6,373.29 466.6,373.23 467.6,373.18 468.6,373.12 469.6,373.06 470.6,373 471.6,372.94 472.6,372.88 473.6,372.82 474.6,372.76 475.6,372.7 476.6,372.64 477.6,372.58 478.6,372.52 479.6,372.46 480.6,372.4 481.6,372.33 482.6,372.27 483.6,372.21 484.6,372.14 485.6,372.08 486.6,371.99 487.6,371.88 488.6,371.75 489.6,371.61 490.6,371.46 491.6,371.29 492.6,371.12 493.6,370.94 494.6,370.76 495.6,370.57 496.6,370.39 497.6,370.21 498.6,370.04 499.6,369.88 500.6,369.72 501.6,369.59 502.6,369.46 503.6,369.36 504.6,369.27 505.6,369.22 506.6,369.19 507.6,369.2 508.6,369.24 509.6,369.3 510.6,369.39 511.6,369.48 512.6,369.59 513.6,369.71 514.6,369.82 515.6,369.94 516.6,370.04 517.6,370.14 518.6,370.22 519.6,370.28 520.6,370.31 521.6,370.35 522.6,370.38 523.6,370.42 524.6,370.45 525.6,370.48 526.6,370.5 527.6,370.53 528.6,370.55 529.6,370.57 530.6,370.59 531.6,370.6 532.6,370.62 533.6,370.62 534.6,370.63 535.6,370.63 536.6,370.63 537.6,370.63 538.6,370.62 539.6,370.61" fill="none" stroke="#b02fe0" stroke-width="1.3" stroke-linejoin="round" stroke-linecap="round" />
<polyline points="337.6,383.7 338.6,383.49 339.6,383.11 340.6,382.62 341.6,382.04 342.6,381.39 343.6,380.5 344.6,379.4 345.6,378.01 346.6,376.14 347.6,374.09 348.6,372.09 349.6,370.07 350.6,368.54 351.6,367.29 352.6,366.2 353.6,365.21 354.6,364.28 355.6,363.53 356.6,363.01 357.6,362.58 358.6,362.23 359.6,361.97 360.6,361.81 361.6,361.67 362.6,361.56 363.6,361.51 364.6,361.55 365.6,361.81 366.6,362.23 367.6,362.71 368.6,363.22 369.6,363.88 370.6,364.64 371.6,365.41 372.6,366.15 373.6,366.93 374.6,367.7 375.6,368.38 376.6,368.9 377.6,369.35 378.6,369.74 379.6,370.08 380.6,370.37 381.6,370.64 382.6,370.89 383.6,371.13 384.6,371.35 385.6,371.55 386.6,371.75 387.6,371.94 388.6,372.13 389.6,372.32 390.6,372.52 391.6,372.71 392.6,372.9 393.6,373.09 394.6,373.27 395.6,373.45 396.6,373.62 397.6,373.77 398.6,373.92 399.6,374.05 400.6,374.17 401.6,374.29 402.6,374.42 403.6,374.54 404.6,374.65 405.6,374.76 406.6,374.85 407.6,374.92 408.6,374.97 409.6,375 410.6,375 411.6,374.99 412.6,374.99 413.6,374.97 414.6,374.96 415.6,374.94 416.6,374.93 417.6,374.91 418.6,374.89 419.6,374.86 420.6,374.82 421.6,374.78 422.6,374.73 423.6,374.68 424.6,374.62 425.6,374.55 426.6,374.48 427.6,374.41 428.6,374.33 429.6,374.25 430.6,374.17 431.6,374.09 432.6,374 433.6,373.92 434.6,373.83 435.6,373.75 436.6,373.67 437.6,373.59 438.6,373.51 439.6,373.43 440.6,373.36 441.6,373.29 442.6,373.22 443.6,373.16 444.6,373.1 445.6,373.04 446.6,372.98 447.6,372.92 448.6,372.86 449.6,372.79 450.6,372.73 451.6,372.65 452.6,372.58 453.6,372.5 454.6,372.41 455.6,372.32 456.6,372.22 457.6,372.11 458.6,371.99 459.6,371.86 460.6,371.7 461.6,371.49 462.6,371.22 463.6,370.89 464.6,370.53 465.6,370.14 466.6,369.73 467.6,369.31 468.6,368.88 469.6,368.46 470.6,368.04 471.6,367.57 472.6,367.07 473.6,366.58 474.6,366.15 475.6,365.78 476.6,365.4 477.6,365.02 478.6,364.69 479.6,364.45 480.6,364.31 481.6,364.31 482.6,364.36 483.6,364.46 484.6,364.59 485.6,364.74 486.6,364.91 487.6,365.09 488.6,365.27 489.6,365.44 490.6,365.59 491.6,365.77 492.6,365.95 493.6,366.14 494.6,366.33 495.6,366.53 496.6,366.72 497.6,366.91 498.6,367.08 499.6,367.24 500.6,367.38 501.6,367.52 502.6,367.65 503.6,367.77 504.6,367.88 505.6,368 506.6,368.11 507.6,368.22 508.6,368.34 509.6,368.45 510.6,368.57 511.6,368.7 512.6,368.84 513.6,368.97 514.6,369.11 515.6,369.24 516.6,369.37 517.6,369.48 518.6,369.59 519.6,369.67 520.6,369.74 521.6,369.81 522.6,369.88 523.6,369.94 524.6,370.01 525.6,370.07 526.6,370.13 527.6,370.19 528.6,370.24 529.6,370.3 530.6,370.35 531.6,370.39 532.6,370.43 533.6,370.47 534.6,370.51 535.6,370.53 536.6,370.56 537.6,370.58 538.6,370.59 539.6,370.6" fill="none" stroke="#f42020" stroke-width="1.35" stroke-linejoin="round" stroke-linecap="round" />
<line x1="364.6" y1="262.5" x2="364.6" y2="269.5" stroke="#bbbbbb" stroke-width="0.6" />
<line x1="485" y1="262.5" x2="485" y2="270" stroke="#bbbbbb" stroke-width="0.6" />
<rect x="337.6" y="243.8" width="202.7" height="163.9" fill="none" stroke="#595959" stroke-width="1.3"/>
<line x1="356.96" y1="407.7" x2="356.96" y2="410.3" stroke="#333" stroke-width="0.9" />
<line x1="378.96" y1="407.7" x2="378.96" y2="409.3" stroke="#333" stroke-width="0.9" />
<line x1="400.96" y1="407.7" x2="400.96" y2="410.3" stroke="#333" stroke-width="0.9" />
<line x1="422.96" y1="407.7" x2="422.96" y2="409.3" stroke="#333" stroke-width="0.9" />
<line x1="444.96" y1="407.7" x2="444.96" y2="410.3" stroke="#333" stroke-width="0.9" />
<line x1="466.96" y1="407.7" x2="466.96" y2="409.3" stroke="#333" stroke-width="0.9" />
<line x1="488.96" y1="407.7" x2="488.96" y2="410.3" stroke="#333" stroke-width="0.9" />
<line x1="510.96" y1="407.7" x2="510.96" y2="409.3" stroke="#333" stroke-width="0.9" />
<line x1="532.96" y1="407.7" x2="532.96" y2="410.3" stroke="#333" stroke-width="0.9" />
<text x="356.96" y="418.6" font-family="Liberation Serif" font-size="8.0" font-weight="normal" fill="#1c1c1c" text-anchor="middle" textLength="12.2" lengthAdjust="spacingAndGlyphs" stroke="#1c1c1c" stroke-width="0.2" >710</text>
<text x="400.96" y="418.6" font-family="Liberation Serif" font-size="8.0" font-weight="normal" fill="#1c1c1c" text-anchor="middle" textLength="12.2" lengthAdjust="spacingAndGlyphs" stroke="#1c1c1c" stroke-width="0.2" >715</text>
<text x="444.96" y="418.6" font-family="Liberation Serif" font-size="8.0" font-weight="normal" fill="#1c1c1c" text-anchor="middle" textLength="12.2" lengthAdjust="spacingAndGlyphs" stroke="#1c1c1c" stroke-width="0.2" >720</text>
<text x="488.96" y="418.6" font-family="Liberation Serif" font-size="8.0" font-weight="normal" fill="#1c1c1c" text-anchor="middle" textLength="12.2" lengthAdjust="spacingAndGlyphs" stroke="#1c1c1c" stroke-width="0.2" >725</text>
<text x="532.96" y="418.6" font-family="Liberation Serif" font-size="8.0" font-weight="normal" fill="#1c1c1c" text-anchor="middle" textLength="12.2" lengthAdjust="spacingAndGlyphs" stroke="#1c1c1c" stroke-width="0.2" >730</text>
<text x="406.8" y="428" font-family="Liberation Serif" font-size="9.2" font-weight="normal" fill="#1c1c1c" text-anchor="start" textLength="69.2" lengthAdjust="spacingAndGlyphs" stroke="#1c1c1c" stroke-width="0.2" >Binding Energy(eV)</text>
<text x="331.05" y="322.6" font-family="Liberation Serif" font-size="8.6" font-weight="normal" fill="#1c1c1c" text-anchor="middle" textLength="47.5" lengthAdjust="spacingAndGlyphs" stroke="#1c1c1c" stroke-width="0.2" transform="rotate(-90 331.05 322.6)">Intensity(a.u.)</text>
<text x="339.2" y="251.8" font-family="Liberation Serif" font-size="8.0" font-weight="bold" fill="#1c1c1c" text-anchor="start" textLength="8.6" lengthAdjust="spacingAndGlyphs" stroke="#1c1c1c" stroke-width="0.3" >(d)</text>
<text x="519" y="252.4" font-family="Liberation Serif" font-size="8.2" font-weight="normal" fill="#1c1c1c" text-anchor="start" textLength="17" lengthAdjust="spacingAndGlyphs" stroke="#1c1c1c" stroke-width="0.22" >Fe 2p</text>
<text x="359.9" y="259" font-family="Liberation Serif" font-size="8.0" font-weight="normal" fill="#1c1c1c" text-anchor="start" textLength="6.6" lengthAdjust="spacingAndGlyphs" stroke="#1c1c1c" stroke-width="0.2" >2p</text>
<text x="366.5" y="260.6" font-family="Liberation Serif" font-size="6.4" font-weight="normal" fill="#1c1c1c" text-anchor="start" textLength="6.9" lengthAdjust="spacingAndGlyphs" stroke="#1c1c1c" stroke-width="0.15" >3/2</text>
<text x="479.1" y="259" font-family="Liberation Serif" font-size="8.0" font-weight="normal" fill="#1c1c1c" text-anchor="start" textLength="6.6" lengthAdjust="spacingAndGlyphs" stroke="#1c1c1c" stroke-width="0.2" >2p</text>
<text x="485.7" y="260.6" font-family="Liberation Serif" font-size="6.4" font-weight="normal" fill="#1c1c1c" text-anchor="start" textLength="7.4" lengthAdjust="spacingAndGlyphs" stroke="#1c1c1c" stroke-width="0.15" >1/2</text>
<text x="510.6" y="265.4" font-family="Liberation Serif" font-size="8.8" font-weight="normal" fill="#1c1c1c" text-anchor="start" textLength="27.9" lengthAdjust="spacingAndGlyphs" stroke="#1c1c1c" stroke-width="0.2" >500LFO</text>
<text x="511" y="293.8" font-family="Liberation Serif" font-size="8.8" font-weight="normal" fill="#1c1c1c" text-anchor="start" textLength="27.8" lengthAdjust="spacingAndGlyphs" stroke="#1c1c1c" stroke-width="0.2" >600LFO</text>
<text x="510.7" y="333.5" font-family="Liberation Serif" font-size="8.8" font-weight="normal" fill="#1c1c1c" text-anchor="start" textLength="27.8" lengthAdjust="spacingAndGlyphs" stroke="#1c1c1c" stroke-width="0.2" >700LFO</text>
<text x="509.8" y="366.2" font-family="Liberation Serif" font-size="8.8" font-weight="normal" fill="#1c1c1c" text-anchor="start" textLength="28.2" lengthAdjust="spacingAndGlyphs" stroke="#1c1c1c" stroke-width="0.2" >800LFO</text>
<text x="498.7" y="394" font-family="Liberation Serif" font-size="9.6" font-weight="normal" fill="#f02020" text-anchor="start" textLength="38.5" lengthAdjust="spacingAndGlyphs" stroke="#f02020" stroke-width="0.12" >S-Satellite</text>
<text x="367.8" y="286.7" font-family="Liberation Serif" font-size="7.2" font-weight="normal" fill="#1c1c1c" text-anchor="start" textLength="6" lengthAdjust="spacingAndGlyphs" stroke="#1c1c1c" stroke-width="0.25" >Fe</text>
<text x="374.1" y="283.8" font-family="Liberation Serif" font-size="4.6" font-weight="normal" fill="#1c1c1c" text-anchor="start" textLength="4.4" lengthAdjust="spacingAndGlyphs" stroke="#1c1c1c" stroke-width="0.1" >3+</text>
<line x1="370.6" y1="290" x2="365.86" y2="299.16" stroke="#111" stroke-width="0.8" />
<path d="M364.8,301.2 L364.89,298.32 L367.11,299.47 z" fill="#111"/>
<text x="339.1" y="305.4" font-family="Liberation Serif" font-size="7.2" font-weight="normal" fill="#1c1c1c" text-anchor="start" textLength="6" lengthAdjust="spacingAndGlyphs" stroke="#1c1c1c" stroke-width="0.25" >Fe</text>
<text x="345.4" y="302.5" font-family="Liberation Serif" font-size="4.6" font-weight="normal" fill="#1c1c1c" text-anchor="start" textLength="4.4" lengthAdjust="spacingAndGlyphs" stroke="#1c1c1c" stroke-width="0.1" >2+</text>
<line x1="347.6" y1="306.6" x2="350.57" y2="309.57" stroke="#111" stroke-width="0.8" />
<path d="M352.2,311.2 L349.48,310.25 L351.25,308.48 z" fill="#111"/>
<text x="384" y="296.5" font-family="Liberation Serif" font-size="7.2" font-weight="normal" fill="#1c1c1c" text-anchor="start" textLength="12.2" lengthAdjust="spacingAndGlyphs" stroke="#1c1c1c" stroke-width="0.25" >S-Fe</text>
<text x="396.5" y="293.6" font-family="Liberation Serif" font-size="4.6" font-weight="normal" fill="#1c1c1c" text-anchor="start" textLength="4.2" lengthAdjust="spacingAndGlyphs" stroke="#1c1c1c" stroke-width="0.1" >2+</text>
<line x1="389.6" y1="298.2" x2="386.45" y2="303.07" stroke="#111" stroke-width="0.8" />
<path d="M385.2,305 L385.56,302.14 L387.66,303.5 z" fill="#111"/>
<text x="418.2" y="297.8" font-family="Liberation Serif" font-size="7.6" font-weight="normal" fill="#1c1c1c" text-anchor="start" textLength="11.6" lengthAdjust="spacingAndGlyphs" stroke="#1c1c1c" stroke-width="0.1" >S-Fe</text>
<text x="430" y="294.8" font-family="Liberation Serif" font-size="4.6" font-weight="normal" fill="#1c1c1c" text-anchor="start" textLength="4" lengthAdjust="spacingAndGlyphs" stroke="#1c1c1c" stroke-width="0.05" >3+</text>
<text x="436.8" y="297.8" font-family="Liberation Serif" font-size="7.6" font-weight="normal" fill="#1c1c1c" text-anchor="start" textLength="7" lengthAdjust="spacingAndGlyphs" stroke="#1c1c1c" stroke-width="0.1" >2p</text>
<text x="443.8" y="299.4" font-family="Liberation Serif" font-size="6.0" font-weight="normal" fill="#1c1c1c" text-anchor="start" textLength="6.6" lengthAdjust="spacingAndGlyphs" stroke="#1c1c1c" stroke-width="0.08" >3/2</text>
<text x="475.5" y="287.6" font-family="Liberation Serif" font-size="7.2" font-weight="normal" fill="#1c1c1c" text-anchor="start" textLength="6" lengthAdjust="spacingAndGlyphs" stroke="#1c1c1c" stroke-width="0.25" >Fe</text>
<text x="481.8" y="284.7" font-family="Liberation Serif" font-size="4.6" font-weight="normal" fill="#1c1c1c" text-anchor="start" textLength="4.4" lengthAdjust="spacingAndGlyphs" stroke="#1c1c1c" stroke-width="0.1" >3+</text>
<line x1="479.7" y1="289.6" x2="479.7" y2="295.9" stroke="#111" stroke-width="0.8" />
<path d="M479.7,298.2 L478.45,295.6 L480.95,295.6 z" fill="#111"/>
<text x="490.9" y="291.1" font-family="Liberation Serif" font-size="7.2" font-weight="normal" fill="#1c1c1c" text-anchor="start" textLength="9.8" lengthAdjust="spacingAndGlyphs" stroke="#1c1c1c" stroke-width="0.25" >S-Fe</text>
<text x="501" y="288.2" font-family="Liberation Serif" font-size="4.6" font-weight="normal" fill="#1c1c1c" text-anchor="start" textLength="4.2" lengthAdjust="spacingAndGlyphs" stroke="#1c1c1c" stroke-width="0.1" >3+</text>
<line x1="500.5" y1="292.8" x2="501.73" y2="297.57" stroke="#111" stroke-width="0.8" />
<path d="M502.3,299.8 L500.44,297.59 L502.86,296.97 z" fill="#111"/>
<text x="364.6" y="322.5" font-family="Liberation Serif" font-size="7.2" font-weight="normal" fill="#1c1c1c" text-anchor="start" textLength="6" lengthAdjust="spacingAndGlyphs" stroke="#1c1c1c" stroke-width="0.25" >Fe</text>
<text x="370.9" y="319.6" font-family="Liberation Serif" font-size="4.6" font-weight="normal" fill="#1c1c1c" text-anchor="start" textLength="4.4" lengthAdjust="spacingAndGlyphs" stroke="#1c1c1c" stroke-width="0.1" >3+</text>
<line x1="366.3" y1="327.4" x2="362.32" y2="336.49" stroke="#111" stroke-width="0.8" />
<path d="M361.4,338.6 L361.3,335.72 L363.59,336.72 z" fill="#111"/>
<text x="339.2" y="338.2" font-family="Liberation Serif" font-size="7.2" font-weight="normal" fill="#1c1c1c" text-anchor="start" textLength="6" lengthAdjust="spacingAndGlyphs" stroke="#1c1c1c" stroke-width="0.25" >Fe</text>
<text x="345.5" y="335.3" font-family="Liberation Serif" font-size="4.6" font-weight="normal" fill="#1c1c1c" text-anchor="start" textLength="4.4" lengthAdjust="spacingAndGlyphs" stroke="#1c1c1c" stroke-width="0.1" >2+</text>
<line x1="347.9" y1="346" x2="349.86" y2="347.7" stroke="#111" stroke-width="0.8" />
<path d="M351.6,349.2 L348.82,348.44 L350.45,346.55 z" fill="#111"/>
<text x="379.9" y="332.9" font-family="Liberation Serif" font-size="7.2" font-weight="normal" fill="#1c1c1c" text-anchor="start" textLength="11.4" lengthAdjust="spacingAndGlyphs" stroke="#1c1c1c" stroke-width="0.25" >S-Fe</text>
<text x="391.6" y="330" font-family="Liberation Serif" font-size="4.6" font-weight="normal" fill="#1c1c1c" text-anchor="start" textLength="4.2" lengthAdjust="spacingAndGlyphs" stroke="#1c1c1c" stroke-width="0.1" >2+</text>
<line x1="388" y1="339.2" x2="384.83" y2="343.2" stroke="#111" stroke-width="0.8" />
<path d="M383.4,345 L384.04,342.19 L385.99,343.74 z" fill="#111"/>
<text x="419.6" y="335.7" font-family="Liberation Serif" font-size="7.6" font-weight="normal" fill="#1c1c1c" text-anchor="start" textLength="11.6" lengthAdjust="spacingAndGlyphs" stroke="#1c1c1c" stroke-width="0.1" >S-Fe</text>
<text x="431.4" y="332.7" font-family="Liberation Serif" font-size="4.6" font-weight="normal" fill="#1c1c1c" text-anchor="start" textLength="4" lengthAdjust="spacingAndGlyphs" stroke="#1c1c1c" stroke-width="0.05" >3+</text>
<text x="438.2" y="335.7" font-family="Liberation Serif" font-size="7.6" font-weight="normal" fill="#1c1c1c" text-anchor="start" textLength="7" lengthAdjust="spacingAndGlyphs" stroke="#1c1c1c" stroke-width="0.1" >2p</text>
<text x="445.2" y="337.3" font-family="Liberation Serif" font-size="6.0" font-weight="normal" fill="#1c1c1c" text-anchor="start" textLength="6.6" lengthAdjust="spacingAndGlyphs" stroke="#1c1c1c" stroke-width="0.08" >3/2</text>
<text x="477" y="327.6" font-family="Liberation Serif" font-size="7.2" font-weight="normal" fill="#1c1c1c" text-anchor="start" textLength="6" lengthAdjust="spacingAndGlyphs" stroke="#1c1c1c" stroke-width="0.25" >Fe</text>
<text x="483.3" y="324.7" font-family="Liberation Serif" font-size="4.6" font-weight="normal" fill="#1c1c1c" text-anchor="start" textLength="4.4" lengthAdjust="spacingAndGlyphs" stroke="#1c1c1c" stroke-width="0.1" >3+</text>
<line x1="480.1" y1="329.6" x2="480.1" y2="336.1" stroke="#111" stroke-width="0.8" />
<path d="M480.1,338.4 L478.85,335.8 L481.35,335.8 z" fill="#111"/>
<text x="490.9" y="331.1" font-family="Liberation Serif" font-size="7.2" font-weight="normal" fill="#1c1c1c" text-anchor="start" textLength="9.8" lengthAdjust="spacingAndGlyphs" stroke="#1c1c1c" stroke-width="0.25" >S-Fe</text>
<text x="501" y="328.2" font-family="Liberation Serif" font-size="4.6" font-weight="normal" fill="#1c1c1c" text-anchor="start" textLength="4.2" lengthAdjust="spacingAndGlyphs" stroke="#1c1c1c" stroke-width="0.1" >3+</text>
<line x1="500.5" y1="333" x2="501.82" y2="336.64" stroke="#111" stroke-width="0.8" />
<path d="M502.6,338.8 L500.54,336.78 L502.89,335.93 z" fill="#111"/>
<text x="364.6" y="360" font-family="Liberation Serif" font-size="7.2" font-weight="normal" fill="#1c1c1c" text-anchor="start" textLength="6" lengthAdjust="spacingAndGlyphs" stroke="#1c1c1c" stroke-width="0.25" >Fe</text>
<text x="370.9" y="357.1" font-family="Liberation Serif" font-size="4.6" font-weight="normal" fill="#1c1c1c" text-anchor="start" textLength="4.4" lengthAdjust="spacingAndGlyphs" stroke="#1c1c1c" stroke-width="0.1" >3+</text>
<line x1="366" y1="362" x2="363.97" y2="364.75" stroke="#111" stroke-width="0.8" />
<path d="M362.6,366.6 L363.14,363.77 L365.15,365.25 z" fill="#111"/>
<text x="339.2" y="373.1" font-family="Liberation Serif" font-size="7.2" font-weight="normal" fill="#1c1c1c" text-anchor="start" textLength="6" lengthAdjust="spacingAndGlyphs" stroke="#1c1c1c" stroke-width="0.25" >Fe</text>
<text x="345.5" y="370.2" font-family="Liberation Serif" font-size="4.6" font-weight="normal" fill="#1c1c1c" text-anchor="start" textLength="4.4" lengthAdjust="spacingAndGlyphs" stroke="#1c1c1c" stroke-width="0.1" >2+</text>
<line x1="350" y1="378" x2="351.52" y2="379.43" stroke="#111" stroke-width="0.8" />
<path d="M353.2,381 L350.45,380.13 L352.16,378.31 z" fill="#111"/>
<text x="385" y="367.3" font-family="Liberation Serif" font-size="7.2" font-weight="normal" fill="#1c1c1c" text-anchor="start" textLength="11.4" lengthAdjust="spacingAndGlyphs" stroke="#1c1c1c" stroke-width="0.25" >S-Fe</text>
<text x="396.7" y="364.4" font-family="Liberation Serif" font-size="4.6" font-weight="normal" fill="#1c1c1c" text-anchor="start" textLength="4.2" lengthAdjust="spacingAndGlyphs" stroke="#1c1c1c" stroke-width="0.1" >2+</text>
<line x1="392" y1="369" x2="388.93" y2="373.32" stroke="#111" stroke-width="0.8" />
<path d="M387.6,375.2 L388.09,372.36 L390.12,373.8 z" fill="#111"/>
<text x="420.2" y="369" font-family="Liberation Serif" font-size="7.6" font-weight="normal" fill="#1c1c1c" text-anchor="start" textLength="11.6" lengthAdjust="spacingAndGlyphs" stroke="#1c1c1c" stroke-width="0.1" >S-Fe</text>
<text x="432" y="366" font-family="Liberation Serif" font-size="4.6" font-weight="normal" fill="#1c1c1c" text-anchor="start" textLength="4" lengthAdjust="spacingAndGlyphs" stroke="#1c1c1c" stroke-width="0.05" >3+</text>
<text x="438.8" y="369" font-family="Liberation Serif" font-size="7.6" font-weight="normal" fill="#1c1c1c" text-anchor="start" textLength="7" lengthAdjust="spacingAndGlyphs" stroke="#1c1c1c" stroke-width="0.1" >2p</text>
<text x="445.8" y="370.6" font-family="Liberation Serif" font-size="6.0" font-weight="normal" fill="#1c1c1c" text-anchor="start" textLength="6.6" lengthAdjust="spacingAndGlyphs" stroke="#1c1c1c" stroke-width="0.08" >3/2</text>
<text x="477" y="359" font-family="Liberation Serif" font-size="7.2" font-weight="normal" fill="#1c1c1c" text-anchor="start" textLength="6" lengthAdjust="spacingAndGlyphs" stroke="#1c1c1c" stroke-width="0.25" >Fe</text>
<text x="483.3" y="356.1" font-family="Liberation Serif" font-size="4.6" font-weight="normal" fill="#1c1c1c" text-anchor="start" textLength="4.4" lengthAdjust="spacingAndGlyphs" stroke="#1c1c1c" stroke-width="0.1" >3+</text>
<line x1="481" y1="361" x2="481" y2="366.9" stroke="#111" stroke-width="0.8" />
<path d="M481,369.2 L479.75,366.6 L482.25,366.6 z" fill="#111"/>
<text x="496.3" y="361.1" font-family="Liberation Serif" font-size="7.2" font-weight="normal" fill="#1c1c1c" text-anchor="start" textLength="9.4" lengthAdjust="spacingAndGlyphs" stroke="#1c1c1c" stroke-width="0.25" >S-Fe</text>
<text x="506" y="358.2" font-family="Liberation Serif" font-size="4.6" font-weight="normal" fill="#1c1c1c" text-anchor="start" textLength="4.2" lengthAdjust="spacingAndGlyphs" stroke="#1c1c1c" stroke-width="0.1" >3+</text>
<line x1="504" y1="362.2" x2="504" y2="367" stroke="#111" stroke-width="0.8" />
<path d="M504,369.3 L502.75,366.7 L505.25,366.7 z" fill="#111"/>
</svg>
</body></html>
